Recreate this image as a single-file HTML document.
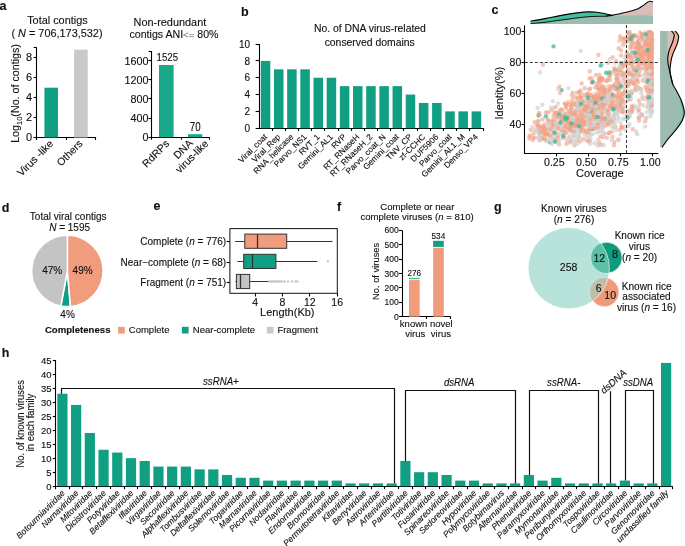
<!DOCTYPE html>
<html><head><meta charset="utf-8"><style>
html,body{margin:0;padding:0;background:#fff;}
svg{display:block;will-change:transform;}
text{font-family:"Liberation Sans",sans-serif;fill:#111;stroke:#111;stroke-width:0.12px;}
</style></head><body>
<svg width="685" height="546" viewBox="0 0 685 546">
<rect width="685" height="546" fill="#fff"/>
<text x="-0.5" y="9.6" font-size="12.5" font-weight="bold" fill="#000" >a</text>
<text x="241" y="15.9" font-size="12.5" font-weight="bold" fill="#000" >b</text>
<text x="491.5" y="13.7" font-size="12.5" font-weight="bold" fill="#000" >c</text>
<text x="1.8" y="211.5" font-size="12.5" font-weight="bold" fill="#000" >d</text>
<text x="153.5" y="209.9" font-size="12.5" font-weight="bold" fill="#000" >e</text>
<text x="337" y="211" font-size="12.5" font-weight="bold" fill="#000" >f</text>
<text x="494" y="210.5" font-size="12.5" font-weight="bold" fill="#000" >g</text>
<text x="1.8" y="356.5" font-size="12.5" font-weight="bold" fill="#000" >h</text>
<text x="57.4" y="24" font-size="10.9" text-anchor="middle" >Total contigs</text>
<text x="57" y="37.3" font-size="10.9" text-anchor="middle" >( <tspan font-style="italic">N</tspan> = 706,173,532)</text>
<line x1="36.5" y1="47.5" x2="36.5" y2="137.9" stroke="#000" stroke-width="1.1" />
<line x1="33.6" y1="47.5" x2="36.7" y2="47.5" stroke="#000" stroke-width="1.1" />
<line x1="36.2" y1="137.5" x2="96.1" y2="137.5" stroke="#000" stroke-width="1.1" />
<line x1="33.6" y1="137.5" x2="36.7" y2="137.5" stroke="#000" stroke-width="1.1" />
<text x="32" y="141.4" font-size="11" text-anchor="end" >0</text>
<line x1="33.6" y1="117.5" x2="36.7" y2="117.5" stroke="#000" stroke-width="1.1" />
<text x="32" y="121.4" font-size="11" text-anchor="end" >2</text>
<line x1="33.6" y1="97.5" x2="36.7" y2="97.5" stroke="#000" stroke-width="1.1" />
<text x="32" y="101.4" font-size="11" text-anchor="end" >4</text>
<line x1="33.6" y1="77.5" x2="36.7" y2="77.5" stroke="#000" stroke-width="1.1" />
<text x="32" y="81.4" font-size="11" text-anchor="end" >6</text>
<line x1="33.6" y1="57.5" x2="36.7" y2="57.5" stroke="#000" stroke-width="1.1" />
<text x="32" y="61.4" font-size="11" text-anchor="end" >8</text>
<line x1="36.5" y1="137.5" x2="36.5" y2="140" stroke="#000" stroke-width="1.1" />
<line x1="66.5" y1="137.5" x2="66.5" y2="140" stroke="#000" stroke-width="1.1" />
<line x1="95.5" y1="137.5" x2="95.5" y2="140" stroke="#000" stroke-width="1.1" />
<rect x="44.4" y="87.7" width="13.6" height="49.8" fill="#119f83" />
<rect x="74.1" y="49.7" width="13.6" height="87.8" fill="#c9c9c9" />
<text transform="translate(19,93.5) rotate(-90)" font-size="10.7" text-anchor="middle">Log<tspan font-size="7.5" dy="2.5">10</tspan><tspan dy="-2.5">(No. of contigs)</tspan></text>
<text transform="translate(53.9,144.4) rotate(-45)" font-size="10.5" text-anchor="end" >Virus -like</text>
<text transform="translate(83.2,144.4) rotate(-45)" font-size="10.5" text-anchor="end" >Others</text>
<text x="169.9" y="25.6" font-size="10.9" text-anchor="middle" >Non-redundant</text>
<text x="174" y="38" font-size="10.6" text-anchor="middle" >contigs ANI<tspan fill="#8a8a8a" stroke="#8a8a8a" font-size="9.6">&lt;=</tspan> 80%</text>
<line x1="151.5" y1="51" x2="151.5" y2="137.6" stroke="#000" stroke-width="1.1" />
<line x1="148.6" y1="51.5" x2="151.5" y2="51.5" stroke="#000" stroke-width="1.1" />
<line x1="151" y1="137.5" x2="209.3" y2="137.5" stroke="#000" stroke-width="1.1" />
<line x1="148.4" y1="137.5" x2="151.5" y2="137.5" stroke="#000" stroke-width="1.1" />
<text x="148.6" y="141.1" font-size="10.8" text-anchor="end" >0</text>
<line x1="148.4" y1="118.5" x2="151.5" y2="118.5" stroke="#000" stroke-width="1.1" />
<text x="148.6" y="122" font-size="10.8" text-anchor="end" >400</text>
<line x1="148.4" y1="98.5" x2="151.5" y2="98.5" stroke="#000" stroke-width="1.1" />
<text x="148.6" y="102.9" font-size="10.8" text-anchor="end" >800</text>
<line x1="148.4" y1="79.5" x2="151.5" y2="79.5" stroke="#000" stroke-width="1.1" />
<text x="148.6" y="83.8" font-size="10.8" text-anchor="end" >1200</text>
<line x1="148.4" y1="60.5" x2="151.5" y2="60.5" stroke="#000" stroke-width="1.1" />
<text x="148.6" y="64.7" font-size="10.8" text-anchor="end" >1600</text>
<line x1="151.5" y1="137.2" x2="151.5" y2="139.7" stroke="#000" stroke-width="1.1" />
<line x1="181.5" y1="137.2" x2="181.5" y2="139.7" stroke="#000" stroke-width="1.1" />
<line x1="209.5" y1="137.2" x2="209.5" y2="139.7" stroke="#000" stroke-width="1.1" />
<rect x="159" y="65" width="14.6" height="72.2" fill="#1ba88a" />
<rect x="188" y="134.2" width="14.3" height="3" fill="#1ba88a" />
<text transform="translate(167.3,60.6) scale(0.82,1)" font-size="11.8" text-anchor="middle" >1525</text>
<text transform="translate(195.2,131.1) scale(0.81,1)" font-size="12" text-anchor="middle" >70</text>
<text transform="translate(170,144.4) rotate(-45)" font-size="10.5" text-anchor="end" >RdRPs</text>
<text transform="translate(185.5,151.75) rotate(-45)" font-size="10.5" text-anchor="middle" >DNA</text>
<text transform="translate(194.5,159) rotate(-45)" font-size="10.5" text-anchor="middle" >virus-like</text>
<text x="369.9" y="32.3" font-size="10.4" text-anchor="middle" >No. of DNA virus-related</text>
<text x="369.7" y="45.5" font-size="10.4" text-anchor="middle" >conserved domains</text>
<line x1="259.5" y1="44" x2="259.5" y2="128.6" stroke="#000" stroke-width="1.1" />
<line x1="258.5" y1="128.5" x2="483.4" y2="128.5" stroke="#000" stroke-width="1.1" />
<line x1="255.6" y1="128.5" x2="259" y2="128.5" stroke="#000" stroke-width="1.1" />
<text x="250" y="131.8" font-size="10" text-anchor="end" >0</text>
<line x1="255.6" y1="111.5" x2="259" y2="111.5" stroke="#000" stroke-width="1.1" />
<text x="250" y="114.98" font-size="10" text-anchor="end" >2</text>
<line x1="255.6" y1="94.5" x2="259" y2="94.5" stroke="#000" stroke-width="1.1" />
<text x="250" y="98.16" font-size="10" text-anchor="end" >4</text>
<line x1="255.6" y1="77.5" x2="259" y2="77.5" stroke="#000" stroke-width="1.1" />
<text x="250" y="81.34" font-size="10" text-anchor="end" >6</text>
<line x1="255.6" y1="60.5" x2="259" y2="60.5" stroke="#000" stroke-width="1.1" />
<text x="250" y="64.52" font-size="10" text-anchor="end" >8</text>
<line x1="255.6" y1="44.5" x2="259" y2="44.5" stroke="#000" stroke-width="1.1" />
<text x="250" y="47.7" font-size="10" text-anchor="end" >10</text>
<rect x="260.8" y="60.92" width="9.5" height="67.28" fill="#119f83" />
<text transform="translate(267.65,137.4) rotate(-45)" font-size="8.3" text-anchor="end" >Viral_coat</text>
<rect x="273.98" y="69.33" width="9.5" height="58.87" fill="#119f83" />
<text transform="translate(280.83,137.4) rotate(-45)" font-size="8.3" text-anchor="end" >Viral_Rep</text>
<rect x="287.15" y="69.33" width="9.5" height="58.87" fill="#119f83" />
<text transform="translate(294,137.4) rotate(-45)" font-size="8.3" text-anchor="end" >RNA_helicase</text>
<rect x="300.33" y="69.33" width="9.5" height="58.87" fill="#119f83" />
<text transform="translate(307.18,137.4) rotate(-45)" font-size="8.3" text-anchor="end" >Parvo_NS1</text>
<rect x="313.5" y="77.74" width="9.5" height="50.46" fill="#119f83" />
<text transform="translate(320.35,137.4) rotate(-45)" font-size="8.3" text-anchor="end" >RVT_1</text>
<rect x="326.68" y="77.74" width="9.5" height="50.46" fill="#119f83" />
<text transform="translate(333.53,137.4) rotate(-45)" font-size="8.3" text-anchor="end" >Gemini_AL1</text>
<rect x="339.85" y="86.15" width="9.5" height="42.05" fill="#119f83" />
<text transform="translate(346.7,137.4) rotate(-45)" font-size="8.3" text-anchor="end" >RVP</text>
<rect x="353.03" y="86.15" width="9.5" height="42.05" fill="#119f83" />
<text transform="translate(359.88,137.4) rotate(-45)" font-size="8.3" text-anchor="end" >RT_RNaseH</text>
<rect x="366.2" y="86.15" width="9.5" height="42.05" fill="#119f83" />
<text transform="translate(373.05,137.4) rotate(-45)" font-size="8.3" text-anchor="end" >RT_RNaseH_2</text>
<rect x="379.38" y="86.15" width="9.5" height="42.05" fill="#119f83" />
<text transform="translate(386.23,137.4) rotate(-45)" font-size="8.3" text-anchor="end" >Parvo_coat_N</text>
<rect x="392.55" y="86.15" width="9.5" height="42.05" fill="#119f83" />
<text transform="translate(399.4,137.4) rotate(-45)" font-size="8.3" text-anchor="end" >Gemini_coat</text>
<rect x="405.73" y="94.56" width="9.5" height="33.64" fill="#119f83" />
<text transform="translate(412.58,137.4) rotate(-45)" font-size="8.3" text-anchor="end" >TNV_CP</text>
<rect x="418.9" y="102.97" width="9.5" height="25.23" fill="#119f83" />
<text transform="translate(425.75,137.4) rotate(-45)" font-size="8.3" text-anchor="end" >zf-CCHC</text>
<rect x="432.08" y="102.97" width="9.5" height="25.23" fill="#119f83" />
<text transform="translate(438.93,137.4) rotate(-45)" font-size="8.3" text-anchor="end" >DUF5906</text>
<rect x="445.25" y="111.38" width="9.5" height="16.82" fill="#119f83" />
<text transform="translate(452.1,137.4) rotate(-45)" font-size="8.3" text-anchor="end" >Parvo_coat</text>
<rect x="458.43" y="111.38" width="9.5" height="16.82" fill="#119f83" />
<text transform="translate(465.28,137.4) rotate(-45)" font-size="8.3" text-anchor="end" >Gemini_AL1_M</text>
<rect x="471.6" y="111.38" width="9.5" height="16.82" fill="#119f83" />
<text transform="translate(478.45,137.4) rotate(-45)" font-size="8.3" text-anchor="end" >Denso_VP4</text>
<line x1="272.5" y1="128.2" x2="272.5" y2="131" stroke="#000" stroke-width="1.1" />
<line x1="285.5" y1="128.2" x2="285.5" y2="131" stroke="#000" stroke-width="1.1" />
<line x1="298.5" y1="128.2" x2="298.5" y2="131" stroke="#000" stroke-width="1.1" />
<line x1="311.5" y1="128.2" x2="311.5" y2="131" stroke="#000" stroke-width="1.1" />
<line x1="324.5" y1="128.2" x2="324.5" y2="131" stroke="#000" stroke-width="1.1" />
<line x1="338.5" y1="128.2" x2="338.5" y2="131" stroke="#000" stroke-width="1.1" />
<line x1="351.5" y1="128.2" x2="351.5" y2="131" stroke="#000" stroke-width="1.1" />
<line x1="364.5" y1="128.2" x2="364.5" y2="131" stroke="#000" stroke-width="1.1" />
<line x1="377.5" y1="128.2" x2="377.5" y2="131" stroke="#000" stroke-width="1.1" />
<line x1="390.5" y1="128.2" x2="390.5" y2="131" stroke="#000" stroke-width="1.1" />
<line x1="403.5" y1="128.2" x2="403.5" y2="131" stroke="#000" stroke-width="1.1" />
<line x1="417.5" y1="128.2" x2="417.5" y2="131" stroke="#000" stroke-width="1.1" />
<line x1="430.5" y1="128.2" x2="430.5" y2="131" stroke="#000" stroke-width="1.1" />
<line x1="443.5" y1="128.2" x2="443.5" y2="131" stroke="#000" stroke-width="1.1" />
<line x1="456.5" y1="128.2" x2="456.5" y2="131" stroke="#000" stroke-width="1.1" />
<line x1="469.5" y1="128.2" x2="469.5" y2="131" stroke="#000" stroke-width="1.1" />
<line x1="483.5" y1="128.2" x2="483.5" y2="131" stroke="#000" stroke-width="1.1" />
<g>
<circle cx="619.43" cy="68.28" r="2.2" fill="#f4a386" fill-opacity="0.62"/>
<circle cx="578.85" cy="119.58" r="2.2" fill="#f4a386" fill-opacity="0.62"/>
<circle cx="557.21" cy="133.94" r="2.2" fill="#f4a386" fill-opacity="0.62"/>
<circle cx="588.87" cy="95.59" r="2.2" fill="#f4a386" fill-opacity="0.62"/>
<circle cx="551.66" cy="135.6" r="2.2" fill="#d3d3d3" fill-opacity="0.72"/>
<circle cx="601.27" cy="78.55" r="2.2" fill="#d3d3d3" fill-opacity="0.72"/>
<circle cx="552.26" cy="126.8" r="2.2" fill="#d3d3d3" fill-opacity="0.72"/>
<circle cx="623.02" cy="44.37" r="2.2" fill="#f4a386" fill-opacity="0.62"/>
<circle cx="647.3" cy="35.17" r="2.2" fill="#f4a386" fill-opacity="0.62"/>
<circle cx="561.66" cy="90.09" r="2.2" fill="#3bb697" fill-opacity="0.72"/>
<circle cx="580.7" cy="50.99" r="2.2" fill="#d3d3d3" fill-opacity="0.72"/>
<circle cx="556.13" cy="121.71" r="2.2" fill="#d3d3d3" fill-opacity="0.72"/>
<circle cx="638.7" cy="117.39" r="2.2" fill="#d3d3d3" fill-opacity="0.72"/>
<circle cx="536.78" cy="125.26" r="2.2" fill="#f4a386" fill-opacity="0.62"/>
<circle cx="577.6" cy="107.4" r="2.2" fill="#f4a386" fill-opacity="0.62"/>
<circle cx="640.42" cy="56.69" r="2.2" fill="#f4a386" fill-opacity="0.62"/>
<circle cx="587.49" cy="98.64" r="2.2" fill="#f4a386" fill-opacity="0.62"/>
<circle cx="591.59" cy="78.32" r="2.2" fill="#f4a386" fill-opacity="0.62"/>
<circle cx="581.67" cy="130.6" r="2.2" fill="#d3d3d3" fill-opacity="0.72"/>
<circle cx="602" cy="107.27" r="2.2" fill="#f4a386" fill-opacity="0.62"/>
<circle cx="627.47" cy="62.56" r="2.2" fill="#f4a386" fill-opacity="0.62"/>
<circle cx="562.46" cy="121.16" r="2.2" fill="#f4a386" fill-opacity="0.62"/>
<circle cx="552.97" cy="119.75" r="2.2" fill="#f4a386" fill-opacity="0.62"/>
<circle cx="640.61" cy="48.78" r="2.2" fill="#d3d3d3" fill-opacity="0.72"/>
<circle cx="636.75" cy="53.28" r="2.2" fill="#f4a386" fill-opacity="0.62"/>
<circle cx="574.6" cy="119.48" r="2.2" fill="#d3d3d3" fill-opacity="0.72"/>
<circle cx="648.85" cy="85.9" r="2.2" fill="#d3d3d3" fill-opacity="0.72"/>
<circle cx="554.86" cy="130.65" r="2.2" fill="#d3d3d3" fill-opacity="0.72"/>
<circle cx="572.9" cy="132.04" r="2.2" fill="#f4a386" fill-opacity="0.62"/>
<circle cx="579.89" cy="117.63" r="2.2" fill="#f4a386" fill-opacity="0.62"/>
<circle cx="616.81" cy="94.86" r="2.2" fill="#f4a386" fill-opacity="0.62"/>
<circle cx="603.05" cy="120.36" r="2.2" fill="#d3d3d3" fill-opacity="0.72"/>
<circle cx="578.98" cy="136.55" r="2.2" fill="#f4a386" fill-opacity="0.62"/>
<circle cx="597.14" cy="132.76" r="2.2" fill="#d3d3d3" fill-opacity="0.72"/>
<circle cx="618.4" cy="139.39" r="2.2" fill="#f4a386" fill-opacity="0.62"/>
<circle cx="621.91" cy="127.6" r="2.2" fill="#f4a386" fill-opacity="0.62"/>
<circle cx="583.37" cy="121.39" r="2.2" fill="#f4a386" fill-opacity="0.62"/>
<circle cx="571.86" cy="125.4" r="2.2" fill="#f4a386" fill-opacity="0.62"/>
<circle cx="578.85" cy="122.41" r="2.2" fill="#d3d3d3" fill-opacity="0.72"/>
<circle cx="648.1" cy="101.3" r="2.2" fill="#d3d3d3" fill-opacity="0.72"/>
<circle cx="553.95" cy="133.33" r="2.2" fill="#d3d3d3" fill-opacity="0.72"/>
<circle cx="652.03" cy="41.3" r="2.2" fill="#f4a386" fill-opacity="0.62"/>
<circle cx="553.88" cy="138.79" r="2.2" fill="#f4a386" fill-opacity="0.62"/>
<circle cx="599.39" cy="106.13" r="2.2" fill="#f4a386" fill-opacity="0.62"/>
<circle cx="542.8" cy="133.31" r="2.2" fill="#f4a386" fill-opacity="0.62"/>
<circle cx="650.85" cy="57.43" r="2.2" fill="#f4a386" fill-opacity="0.62"/>
<circle cx="592.88" cy="96.05" r="2.2" fill="#f4a386" fill-opacity="0.62"/>
<circle cx="603.6" cy="120.61" r="2.2" fill="#d3d3d3" fill-opacity="0.72"/>
<circle cx="614.31" cy="118.91" r="2.2" fill="#f4a386" fill-opacity="0.62"/>
<circle cx="625.74" cy="59.96" r="2.2" fill="#f4a386" fill-opacity="0.62"/>
<circle cx="619.2" cy="40.97" r="2.2" fill="#d3d3d3" fill-opacity="0.72"/>
<circle cx="651.04" cy="32.95" r="2.2" fill="#f4a386" fill-opacity="0.62"/>
<circle cx="620.87" cy="123.11" r="2.2" fill="#d3d3d3" fill-opacity="0.72"/>
<circle cx="602.28" cy="119.12" r="2.2" fill="#f4a386" fill-opacity="0.62"/>
<circle cx="538.9" cy="112.95" r="2.2" fill="#f4a386" fill-opacity="0.62"/>
<circle cx="630.64" cy="56.24" r="2.2" fill="#d3d3d3" fill-opacity="0.72"/>
<circle cx="562.61" cy="120.78" r="2.2" fill="#f4a386" fill-opacity="0.62"/>
<circle cx="651.1" cy="45.2" r="2.2" fill="#f4a386" fill-opacity="0.62"/>
<circle cx="648.96" cy="60.24" r="2.2" fill="#f4a386" fill-opacity="0.62"/>
<circle cx="592.95" cy="107.82" r="2.2" fill="#f4a386" fill-opacity="0.62"/>
<circle cx="639.59" cy="54.19" r="2.2" fill="#f4a386" fill-opacity="0.62"/>
<circle cx="646.67" cy="51.03" r="2.2" fill="#f4a386" fill-opacity="0.62"/>
<circle cx="641.46" cy="62.15" r="2.2" fill="#f4a386" fill-opacity="0.62"/>
<circle cx="564.25" cy="113.62" r="2.2" fill="#f4a386" fill-opacity="0.62"/>
<circle cx="574.46" cy="114.36" r="2.2" fill="#d3d3d3" fill-opacity="0.72"/>
<circle cx="585.58" cy="106.79" r="2.2" fill="#d3d3d3" fill-opacity="0.72"/>
<circle cx="610.84" cy="122.19" r="2.2" fill="#3bb697" fill-opacity="0.72"/>
<circle cx="646.84" cy="112.17" r="2.2" fill="#d3d3d3" fill-opacity="0.72"/>
<circle cx="574.49" cy="115.56" r="2.2" fill="#d3d3d3" fill-opacity="0.72"/>
<circle cx="608.48" cy="113.58" r="2.2" fill="#d3d3d3" fill-opacity="0.72"/>
<circle cx="567.18" cy="140.99" r="2.2" fill="#d3d3d3" fill-opacity="0.72"/>
<circle cx="594.51" cy="119.88" r="2.2" fill="#f4a386" fill-opacity="0.62"/>
<circle cx="573.19" cy="132.39" r="2.2" fill="#d3d3d3" fill-opacity="0.72"/>
<circle cx="546.43" cy="133.22" r="2.2" fill="#f4a386" fill-opacity="0.62"/>
<circle cx="581.49" cy="113.6" r="2.2" fill="#d3d3d3" fill-opacity="0.72"/>
<circle cx="628.09" cy="54.26" r="2.2" fill="#d3d3d3" fill-opacity="0.72"/>
<circle cx="621.8" cy="98" r="2.2" fill="#d3d3d3" fill-opacity="0.72"/>
<circle cx="608.05" cy="117.72" r="2.2" fill="#f4a386" fill-opacity="0.62"/>
<circle cx="650.56" cy="41.85" r="2.2" fill="#f4a386" fill-opacity="0.62"/>
<circle cx="623.17" cy="95.82" r="2.2" fill="#f4a386" fill-opacity="0.62"/>
<circle cx="579.51" cy="127.89" r="2.2" fill="#d3d3d3" fill-opacity="0.72"/>
<circle cx="651.56" cy="111.5" r="2.2" fill="#d3d3d3" fill-opacity="0.72"/>
<circle cx="580.95" cy="128.3" r="2.2" fill="#f4a386" fill-opacity="0.62"/>
<circle cx="649.85" cy="62.83" r="2.2" fill="#f4a386" fill-opacity="0.62"/>
<circle cx="609.77" cy="89.04" r="2.2" fill="#f4a386" fill-opacity="0.62"/>
<circle cx="649.51" cy="98.42" r="2.2" fill="#f4a386" fill-opacity="0.62"/>
<circle cx="560.58" cy="125.37" r="2.2" fill="#f4a386" fill-opacity="0.62"/>
<circle cx="632.87" cy="46.59" r="2.2" fill="#d3d3d3" fill-opacity="0.72"/>
<circle cx="651.09" cy="64.67" r="2.2" fill="#f4a386" fill-opacity="0.62"/>
<circle cx="652.05" cy="64.09" r="2.2" fill="#f4a386" fill-opacity="0.62"/>
<circle cx="631.86" cy="73.26" r="2.2" fill="#f4a386" fill-opacity="0.62"/>
<circle cx="614.44" cy="107.18" r="2.2" fill="#f4a386" fill-opacity="0.62"/>
<circle cx="550.18" cy="126.02" r="2.2" fill="#f4a386" fill-opacity="0.62"/>
<circle cx="591.47" cy="114.5" r="2.2" fill="#f4a386" fill-opacity="0.62"/>
<circle cx="650.64" cy="46.48" r="2.2" fill="#f4a386" fill-opacity="0.62"/>
<circle cx="576.85" cy="139.16" r="2.2" fill="#d3d3d3" fill-opacity="0.72"/>
<circle cx="649.74" cy="39.38" r="2.2" fill="#f4a386" fill-opacity="0.62"/>
<circle cx="592.78" cy="133.69" r="2.2" fill="#d3d3d3" fill-opacity="0.72"/>
<circle cx="592.57" cy="118.98" r="2.2" fill="#d3d3d3" fill-opacity="0.72"/>
<circle cx="554.25" cy="132.59" r="2.2" fill="#f4a386" fill-opacity="0.62"/>
<circle cx="615.59" cy="127.24" r="2.2" fill="#f4a386" fill-opacity="0.62"/>
<circle cx="571.23" cy="107.38" r="2.2" fill="#f4a386" fill-opacity="0.62"/>
<circle cx="595.25" cy="93.39" r="2.2" fill="#d3d3d3" fill-opacity="0.72"/>
<circle cx="648.13" cy="56.17" r="2.2" fill="#f4a386" fill-opacity="0.62"/>
<circle cx="648.69" cy="77.26" r="2.2" fill="#f4a386" fill-opacity="0.62"/>
<circle cx="593.11" cy="97.97" r="2.2" fill="#f4a386" fill-opacity="0.62"/>
<circle cx="626.11" cy="93.52" r="2.2" fill="#f4a386" fill-opacity="0.62"/>
<circle cx="632.84" cy="77.09" r="2.2" fill="#d3d3d3" fill-opacity="0.72"/>
<circle cx="630.77" cy="94.48" r="2.2" fill="#d3d3d3" fill-opacity="0.72"/>
<circle cx="651" cy="34.17" r="2.2" fill="#d3d3d3" fill-opacity="0.72"/>
<circle cx="652.07" cy="52.98" r="2.2" fill="#f4a386" fill-opacity="0.62"/>
<circle cx="648.23" cy="36.38" r="2.2" fill="#f4a386" fill-opacity="0.62"/>
<circle cx="648.97" cy="81.97" r="2.2" fill="#f4a386" fill-opacity="0.62"/>
<circle cx="532.85" cy="140.07" r="2.2" fill="#f4a386" fill-opacity="0.62"/>
<circle cx="617.03" cy="101.61" r="2.2" fill="#f4a386" fill-opacity="0.62"/>
<circle cx="552.92" cy="131.77" r="2.2" fill="#f4a386" fill-opacity="0.62"/>
<circle cx="603.9" cy="87.29" r="2.2" fill="#d3d3d3" fill-opacity="0.72"/>
<circle cx="587.28" cy="136" r="2.2" fill="#d3d3d3" fill-opacity="0.72"/>
<circle cx="639.4" cy="71.14" r="2.2" fill="#f4a386" fill-opacity="0.62"/>
<circle cx="650.86" cy="59.33" r="2.2" fill="#f4a386" fill-opacity="0.62"/>
<circle cx="593.41" cy="117.05" r="2.2" fill="#3bb697" fill-opacity="0.72"/>
<circle cx="534.71" cy="122.23" r="2.2" fill="#f4a386" fill-opacity="0.62"/>
<circle cx="587.28" cy="121.11" r="2.2" fill="#f4a386" fill-opacity="0.62"/>
<circle cx="628.38" cy="80.34" r="2.2" fill="#f4a386" fill-opacity="0.62"/>
<circle cx="595.47" cy="124.07" r="2.2" fill="#d3d3d3" fill-opacity="0.72"/>
<circle cx="588.96" cy="141.6" r="2.2" fill="#f4a386" fill-opacity="0.62"/>
<circle cx="610.21" cy="75.59" r="2.2" fill="#f4a386" fill-opacity="0.62"/>
<circle cx="578.59" cy="102.61" r="2.2" fill="#f4a386" fill-opacity="0.62"/>
<circle cx="599.13" cy="79.03" r="2.2" fill="#f4a386" fill-opacity="0.62"/>
<circle cx="540.14" cy="137.36" r="2.2" fill="#d3d3d3" fill-opacity="0.72"/>
<circle cx="619.67" cy="89.05" r="2.2" fill="#f4a386" fill-opacity="0.62"/>
<circle cx="632.07" cy="52.33" r="2.2" fill="#3bb697" fill-opacity="0.72"/>
<circle cx="650.69" cy="38.11" r="2.2" fill="#f4a386" fill-opacity="0.62"/>
<circle cx="629.4" cy="124.22" r="2.2" fill="#d3d3d3" fill-opacity="0.72"/>
<circle cx="599.34" cy="96.55" r="2.2" fill="#f4a386" fill-opacity="0.62"/>
<circle cx="564.44" cy="126.38" r="2.2" fill="#f4a386" fill-opacity="0.62"/>
<circle cx="648.53" cy="36.01" r="2.2" fill="#f4a386" fill-opacity="0.62"/>
<circle cx="651.76" cy="41.92" r="2.2" fill="#f4a386" fill-opacity="0.62"/>
<circle cx="593.28" cy="109.3" r="2.2" fill="#f4a386" fill-opacity="0.62"/>
<circle cx="651.91" cy="51.83" r="2.2" fill="#f4a386" fill-opacity="0.62"/>
<circle cx="629.91" cy="110.73" r="2.2" fill="#d3d3d3" fill-opacity="0.72"/>
<circle cx="597.57" cy="102" r="2.2" fill="#3bb697" fill-opacity="0.72"/>
<circle cx="647.62" cy="46.23" r="2.2" fill="#f4a386" fill-opacity="0.62"/>
<circle cx="649.97" cy="51.18" r="2.2" fill="#f4a386" fill-opacity="0.62"/>
<circle cx="599.39" cy="85.9" r="2.2" fill="#f4a386" fill-opacity="0.62"/>
<circle cx="579.82" cy="132.12" r="2.2" fill="#d3d3d3" fill-opacity="0.72"/>
<circle cx="648.42" cy="68.54" r="2.2" fill="#f4a386" fill-opacity="0.62"/>
<circle cx="591.94" cy="82.54" r="2.2" fill="#f4a386" fill-opacity="0.62"/>
<circle cx="638.45" cy="40.75" r="2.2" fill="#f4a386" fill-opacity="0.62"/>
<circle cx="592.19" cy="115.73" r="2.2" fill="#f4a386" fill-opacity="0.62"/>
<circle cx="565.62" cy="103.89" r="2.2" fill="#f4a386" fill-opacity="0.62"/>
<circle cx="620.44" cy="74.92" r="2.2" fill="#d3d3d3" fill-opacity="0.72"/>
<circle cx="645.97" cy="118.55" r="2.2" fill="#d3d3d3" fill-opacity="0.72"/>
<circle cx="605.68" cy="117.18" r="2.2" fill="#d3d3d3" fill-opacity="0.72"/>
<circle cx="629.28" cy="95.23" r="2.2" fill="#d3d3d3" fill-opacity="0.72"/>
<circle cx="572.56" cy="92.62" r="2.2" fill="#f4a386" fill-opacity="0.62"/>
<circle cx="651.34" cy="99.66" r="2.2" fill="#d3d3d3" fill-opacity="0.72"/>
<circle cx="609.87" cy="118.93" r="2.2" fill="#f4a386" fill-opacity="0.62"/>
<circle cx="576.81" cy="123.13" r="2.2" fill="#d3d3d3" fill-opacity="0.72"/>
<circle cx="618.69" cy="82.42" r="2.2" fill="#f4a386" fill-opacity="0.62"/>
<circle cx="645.71" cy="54.54" r="2.2" fill="#d3d3d3" fill-opacity="0.72"/>
<circle cx="600.58" cy="93.7" r="2.2" fill="#f4a386" fill-opacity="0.62"/>
<circle cx="641.75" cy="62.34" r="2.2" fill="#f4a386" fill-opacity="0.62"/>
<circle cx="587.45" cy="120.58" r="2.2" fill="#f4a386" fill-opacity="0.62"/>
<circle cx="650.55" cy="45.22" r="2.2" fill="#f4a386" fill-opacity="0.62"/>
<circle cx="621.69" cy="66.24" r="2.2" fill="#f4a386" fill-opacity="0.62"/>
<circle cx="645.67" cy="82.01" r="2.2" fill="#d3d3d3" fill-opacity="0.72"/>
<circle cx="624.75" cy="107.48" r="2.2" fill="#d3d3d3" fill-opacity="0.72"/>
<circle cx="651.2" cy="90.31" r="2.2" fill="#f4a386" fill-opacity="0.62"/>
<circle cx="598.17" cy="98.76" r="2.2" fill="#f4a386" fill-opacity="0.62"/>
<circle cx="601.83" cy="121.81" r="2.2" fill="#d3d3d3" fill-opacity="0.72"/>
<circle cx="566.36" cy="113.45" r="2.2" fill="#f4a386" fill-opacity="0.62"/>
<circle cx="595.84" cy="95.62" r="2.2" fill="#d3d3d3" fill-opacity="0.72"/>
<circle cx="570.26" cy="111.82" r="2.2" fill="#f4a386" fill-opacity="0.62"/>
<circle cx="592.09" cy="125.06" r="2.2" fill="#f4a386" fill-opacity="0.62"/>
<circle cx="592.62" cy="108.58" r="2.2" fill="#d3d3d3" fill-opacity="0.72"/>
<circle cx="639.16" cy="37.52" r="2.2" fill="#f4a386" fill-opacity="0.62"/>
<circle cx="549.88" cy="142.27" r="2.2" fill="#3bb697" fill-opacity="0.72"/>
<circle cx="611.62" cy="97.83" r="2.2" fill="#d3d3d3" fill-opacity="0.72"/>
<circle cx="544.61" cy="130.66" r="2.2" fill="#f4a386" fill-opacity="0.62"/>
<circle cx="649.13" cy="71.44" r="2.2" fill="#f4a386" fill-opacity="0.62"/>
<circle cx="642.51" cy="97.3" r="2.2" fill="#f4a386" fill-opacity="0.62"/>
<circle cx="638.83" cy="42.82" r="2.2" fill="#f4a386" fill-opacity="0.62"/>
<circle cx="604.41" cy="121.48" r="2.2" fill="#d3d3d3" fill-opacity="0.72"/>
<circle cx="558.07" cy="88.86" r="2.2" fill="#d3d3d3" fill-opacity="0.72"/>
<circle cx="559.09" cy="144.27" r="2.2" fill="#f4a386" fill-opacity="0.62"/>
<circle cx="584.16" cy="105.03" r="2.2" fill="#d3d3d3" fill-opacity="0.72"/>
<circle cx="646.12" cy="44.99" r="2.2" fill="#f4a386" fill-opacity="0.62"/>
<circle cx="649.82" cy="60.55" r="2.2" fill="#d3d3d3" fill-opacity="0.72"/>
<circle cx="641.12" cy="114.38" r="2.2" fill="#d3d3d3" fill-opacity="0.72"/>
<circle cx="570.59" cy="128.99" r="2.2" fill="#3bb697" fill-opacity="0.72"/>
<circle cx="650.62" cy="43.63" r="2.2" fill="#d3d3d3" fill-opacity="0.72"/>
<circle cx="600.3" cy="108.06" r="2.2" fill="#d3d3d3" fill-opacity="0.72"/>
<circle cx="600.49" cy="102.4" r="2.2" fill="#d3d3d3" fill-opacity="0.72"/>
<circle cx="575.03" cy="122.19" r="2.2" fill="#f4a386" fill-opacity="0.62"/>
<circle cx="647.66" cy="75.11" r="2.2" fill="#f4a386" fill-opacity="0.62"/>
<circle cx="650.33" cy="33.6" r="2.2" fill="#f4a386" fill-opacity="0.62"/>
<circle cx="616.71" cy="84.94" r="2.2" fill="#f4a386" fill-opacity="0.62"/>
<circle cx="575.83" cy="121.29" r="2.2" fill="#f4a386" fill-opacity="0.62"/>
<circle cx="628.36" cy="94.85" r="2.2" fill="#3bb697" fill-opacity="0.72"/>
<circle cx="603.48" cy="87.49" r="2.2" fill="#f4a386" fill-opacity="0.62"/>
<circle cx="650.1" cy="52.28" r="2.2" fill="#d3d3d3" fill-opacity="0.72"/>
<circle cx="583.15" cy="110.54" r="2.2" fill="#f4a386" fill-opacity="0.62"/>
<circle cx="598.27" cy="97.15" r="2.2" fill="#f4a386" fill-opacity="0.62"/>
<circle cx="651.53" cy="106.48" r="2.2" fill="#f4a386" fill-opacity="0.62"/>
<circle cx="648.74" cy="74.57" r="2.2" fill="#f4a386" fill-opacity="0.62"/>
<circle cx="589.97" cy="88.59" r="2.2" fill="#f4a386" fill-opacity="0.62"/>
<circle cx="649.27" cy="69.38" r="2.2" fill="#f4a386" fill-opacity="0.62"/>
<circle cx="649.89" cy="63.32" r="2.2" fill="#f4a386" fill-opacity="0.62"/>
<circle cx="538.14" cy="123.97" r="2.2" fill="#f4a386" fill-opacity="0.62"/>
<circle cx="634.72" cy="35.01" r="2.2" fill="#f4a386" fill-opacity="0.62"/>
<circle cx="562.5" cy="130.39" r="2.2" fill="#f4a386" fill-opacity="0.62"/>
<circle cx="625.66" cy="126.53" r="2.2" fill="#d3d3d3" fill-opacity="0.72"/>
<circle cx="645.07" cy="44.53" r="2.2" fill="#f4a386" fill-opacity="0.62"/>
<circle cx="580.52" cy="90.7" r="2.2" fill="#f4a386" fill-opacity="0.62"/>
<circle cx="602.67" cy="129.78" r="2.2" fill="#d3d3d3" fill-opacity="0.72"/>
<circle cx="636.08" cy="131.45" r="2.2" fill="#d3d3d3" fill-opacity="0.72"/>
<circle cx="586.85" cy="140.66" r="2.2" fill="#f4a386" fill-opacity="0.62"/>
<circle cx="583.17" cy="138.93" r="2.2" fill="#f4a386" fill-opacity="0.62"/>
<circle cx="617.36" cy="90.74" r="2.2" fill="#f4a386" fill-opacity="0.62"/>
<circle cx="622.22" cy="109.79" r="2.2" fill="#d3d3d3" fill-opacity="0.72"/>
<circle cx="648.41" cy="99.78" r="2.2" fill="#d3d3d3" fill-opacity="0.72"/>
<circle cx="575.88" cy="121.34" r="2.2" fill="#d3d3d3" fill-opacity="0.72"/>
<circle cx="586.66" cy="110.53" r="2.2" fill="#f4a386" fill-opacity="0.62"/>
<circle cx="642.63" cy="59.11" r="2.2" fill="#f4a386" fill-opacity="0.62"/>
<circle cx="613.49" cy="86.24" r="2.2" fill="#f4a386" fill-opacity="0.62"/>
<circle cx="647.98" cy="50.92" r="2.2" fill="#f4a386" fill-opacity="0.62"/>
<circle cx="577.37" cy="100.17" r="2.2" fill="#f4a386" fill-opacity="0.62"/>
<circle cx="597.35" cy="85.88" r="2.2" fill="#f4a386" fill-opacity="0.62"/>
<circle cx="614.9" cy="115.31" r="2.2" fill="#d3d3d3" fill-opacity="0.72"/>
<circle cx="627.32" cy="84.7" r="2.2" fill="#f4a386" fill-opacity="0.62"/>
<circle cx="617.06" cy="78.92" r="2.2" fill="#d3d3d3" fill-opacity="0.72"/>
<circle cx="557.57" cy="140.25" r="2.2" fill="#f4a386" fill-opacity="0.62"/>
<circle cx="649.15" cy="74.84" r="2.2" fill="#d3d3d3" fill-opacity="0.72"/>
<circle cx="651.76" cy="40.42" r="2.2" fill="#f4a386" fill-opacity="0.62"/>
<circle cx="580.2" cy="114.58" r="2.2" fill="#f4a386" fill-opacity="0.62"/>
<circle cx="647.53" cy="52.53" r="2.2" fill="#f4a386" fill-opacity="0.62"/>
<circle cx="606.33" cy="112.42" r="2.2" fill="#f4a386" fill-opacity="0.62"/>
<circle cx="592.97" cy="129.05" r="2.2" fill="#f4a386" fill-opacity="0.62"/>
<circle cx="609.1" cy="133.29" r="2.2" fill="#f4a386" fill-opacity="0.62"/>
<circle cx="641.89" cy="114.01" r="2.2" fill="#d3d3d3" fill-opacity="0.72"/>
<circle cx="611.99" cy="99.15" r="2.2" fill="#d3d3d3" fill-opacity="0.72"/>
<circle cx="604.95" cy="100.68" r="2.2" fill="#d3d3d3" fill-opacity="0.72"/>
<circle cx="627.09" cy="86.03" r="2.2" fill="#f4a386" fill-opacity="0.62"/>
<circle cx="593.09" cy="100.72" r="2.2" fill="#f4a386" fill-opacity="0.62"/>
<circle cx="624.96" cy="73.01" r="2.2" fill="#f4a386" fill-opacity="0.62"/>
<circle cx="572.3" cy="112.7" r="2.2" fill="#d3d3d3" fill-opacity="0.72"/>
<circle cx="558.43" cy="111.8" r="2.2" fill="#f4a386" fill-opacity="0.62"/>
<circle cx="599.09" cy="131.15" r="2.2" fill="#d3d3d3" fill-opacity="0.72"/>
<circle cx="650.26" cy="105.34" r="2.2" fill="#d3d3d3" fill-opacity="0.72"/>
<circle cx="601.83" cy="64.45" r="2.2" fill="#d3d3d3" fill-opacity="0.72"/>
<circle cx="574.87" cy="141.38" r="2.2" fill="#d3d3d3" fill-opacity="0.72"/>
<circle cx="648.11" cy="76.12" r="2.2" fill="#d3d3d3" fill-opacity="0.72"/>
<circle cx="649.06" cy="44.41" r="2.2" fill="#f4a386" fill-opacity="0.62"/>
<circle cx="645.08" cy="43.42" r="2.2" fill="#f4a386" fill-opacity="0.62"/>
<circle cx="651.69" cy="35.34" r="2.2" fill="#d3d3d3" fill-opacity="0.72"/>
<circle cx="624.88" cy="89.37" r="2.2" fill="#f4a386" fill-opacity="0.62"/>
<circle cx="599.7" cy="81.97" r="2.2" fill="#f4a386" fill-opacity="0.62"/>
<circle cx="651.02" cy="46.9" r="2.2" fill="#f4a386" fill-opacity="0.62"/>
<circle cx="622.28" cy="67.72" r="2.2" fill="#d3d3d3" fill-opacity="0.72"/>
<circle cx="649.72" cy="61" r="2.2" fill="#d3d3d3" fill-opacity="0.72"/>
<circle cx="651.49" cy="36.11" r="2.2" fill="#f4a386" fill-opacity="0.62"/>
<circle cx="593.15" cy="105.49" r="2.2" fill="#d3d3d3" fill-opacity="0.72"/>
<circle cx="571.64" cy="113.31" r="2.2" fill="#f4a386" fill-opacity="0.62"/>
<circle cx="569.04" cy="115.21" r="2.2" fill="#d3d3d3" fill-opacity="0.72"/>
<circle cx="628.91" cy="32.68" r="2.2" fill="#f4a386" fill-opacity="0.62"/>
<circle cx="593.46" cy="112.03" r="2.2" fill="#d3d3d3" fill-opacity="0.72"/>
<circle cx="598.96" cy="116.05" r="2.2" fill="#d3d3d3" fill-opacity="0.72"/>
<circle cx="637.07" cy="134.25" r="2.2" fill="#d3d3d3" fill-opacity="0.72"/>
<circle cx="589.44" cy="78.5" r="2.2" fill="#f4a386" fill-opacity="0.62"/>
<circle cx="564.11" cy="116.22" r="2.2" fill="#f4a386" fill-opacity="0.62"/>
<circle cx="591.59" cy="99.47" r="2.2" fill="#d3d3d3" fill-opacity="0.72"/>
<circle cx="603.5" cy="100.39" r="2.2" fill="#f4a386" fill-opacity="0.62"/>
<circle cx="562.2" cy="116.63" r="2.2" fill="#f4a386" fill-opacity="0.62"/>
<circle cx="585.06" cy="105.37" r="2.2" fill="#f4a386" fill-opacity="0.62"/>
<circle cx="581.55" cy="124.23" r="2.2" fill="#f4a386" fill-opacity="0.62"/>
<circle cx="646.05" cy="58.1" r="2.2" fill="#f4a386" fill-opacity="0.62"/>
<circle cx="550.85" cy="136.41" r="2.2" fill="#d3d3d3" fill-opacity="0.72"/>
<circle cx="618.45" cy="109.44" r="2.2" fill="#d3d3d3" fill-opacity="0.72"/>
<circle cx="529.31" cy="136.35" r="2.2" fill="#d3d3d3" fill-opacity="0.72"/>
<circle cx="640.94" cy="88.96" r="2.2" fill="#f4a386" fill-opacity="0.62"/>
<circle cx="571.03" cy="130.34" r="2.2" fill="#d3d3d3" fill-opacity="0.72"/>
<circle cx="538.61" cy="132.63" r="2.2" fill="#f4a386" fill-opacity="0.62"/>
<circle cx="630.29" cy="97.78" r="2.2" fill="#f4a386" fill-opacity="0.62"/>
<circle cx="612.03" cy="102.74" r="2.2" fill="#f4a386" fill-opacity="0.62"/>
<circle cx="647.84" cy="54.02" r="2.2" fill="#f4a386" fill-opacity="0.62"/>
<circle cx="615.09" cy="84.08" r="2.2" fill="#f4a386" fill-opacity="0.62"/>
<circle cx="542.87" cy="134.6" r="2.2" fill="#f4a386" fill-opacity="0.62"/>
<circle cx="639.5" cy="65.44" r="2.2" fill="#d3d3d3" fill-opacity="0.72"/>
<circle cx="550.83" cy="122.03" r="2.2" fill="#f4a386" fill-opacity="0.62"/>
<circle cx="614.13" cy="110.04" r="2.2" fill="#d3d3d3" fill-opacity="0.72"/>
<circle cx="651.7" cy="80.87" r="2.2" fill="#f4a386" fill-opacity="0.62"/>
<circle cx="650.77" cy="70.69" r="2.2" fill="#f4a386" fill-opacity="0.62"/>
<circle cx="614.83" cy="83.6" r="2.2" fill="#d3d3d3" fill-opacity="0.72"/>
<circle cx="648.52" cy="34.61" r="2.2" fill="#f4a386" fill-opacity="0.62"/>
<circle cx="572.95" cy="104.87" r="2.2" fill="#f4a386" fill-opacity="0.62"/>
<circle cx="651.58" cy="84.01" r="2.2" fill="#f4a386" fill-opacity="0.62"/>
<circle cx="587.76" cy="102.57" r="2.2" fill="#f4a386" fill-opacity="0.62"/>
<circle cx="567.04" cy="129.47" r="2.2" fill="#d3d3d3" fill-opacity="0.72"/>
<circle cx="651.75" cy="102.8" r="2.2" fill="#f4a386" fill-opacity="0.62"/>
<circle cx="624.01" cy="92.39" r="2.2" fill="#f4a386" fill-opacity="0.62"/>
<circle cx="649.79" cy="48.95" r="2.2" fill="#f4a386" fill-opacity="0.62"/>
<circle cx="545.9" cy="112.38" r="2.2" fill="#f4a386" fill-opacity="0.62"/>
<circle cx="571.46" cy="103.33" r="2.2" fill="#f4a386" fill-opacity="0.62"/>
<circle cx="649.84" cy="68.39" r="2.2" fill="#f4a386" fill-opacity="0.62"/>
<circle cx="649.09" cy="32.36" r="2.2" fill="#f4a386" fill-opacity="0.62"/>
<circle cx="649.41" cy="62.06" r="2.2" fill="#f4a386" fill-opacity="0.62"/>
<circle cx="649.93" cy="71.98" r="2.2" fill="#f4a386" fill-opacity="0.62"/>
<circle cx="612.02" cy="72.09" r="2.2" fill="#d3d3d3" fill-opacity="0.72"/>
<circle cx="558" cy="135.05" r="2.2" fill="#d3d3d3" fill-opacity="0.72"/>
<circle cx="580.1" cy="125.72" r="2.2" fill="#f4a386" fill-opacity="0.62"/>
<circle cx="570.17" cy="119.76" r="2.2" fill="#f4a386" fill-opacity="0.62"/>
<circle cx="582.15" cy="101.35" r="2.2" fill="#d3d3d3" fill-opacity="0.72"/>
<circle cx="648.91" cy="71.93" r="2.2" fill="#f4a386" fill-opacity="0.62"/>
<circle cx="556.19" cy="128.12" r="2.2" fill="#d3d3d3" fill-opacity="0.72"/>
<circle cx="650.82" cy="51.37" r="2.2" fill="#d3d3d3" fill-opacity="0.72"/>
<circle cx="581.25" cy="128.11" r="2.2" fill="#f4a386" fill-opacity="0.62"/>
<circle cx="650.9" cy="96.9" r="2.2" fill="#d3d3d3" fill-opacity="0.72"/>
<circle cx="574.74" cy="145.18" r="2.2" fill="#f4a386" fill-opacity="0.62"/>
<circle cx="569.73" cy="124.3" r="2.2" fill="#d3d3d3" fill-opacity="0.72"/>
<circle cx="605.27" cy="90.08" r="2.2" fill="#f4a386" fill-opacity="0.62"/>
<circle cx="580.79" cy="120.61" r="2.2" fill="#3bb697" fill-opacity="0.72"/>
<circle cx="617.7" cy="111.02" r="2.2" fill="#f4a386" fill-opacity="0.62"/>
<circle cx="641.05" cy="38.14" r="2.2" fill="#f4a386" fill-opacity="0.62"/>
<circle cx="540.59" cy="128.47" r="2.2" fill="#f4a386" fill-opacity="0.62"/>
<circle cx="607.98" cy="105.18" r="2.2" fill="#d3d3d3" fill-opacity="0.72"/>
<circle cx="647.47" cy="33.62" r="2.2" fill="#f4a386" fill-opacity="0.62"/>
<circle cx="597.31" cy="96.61" r="2.2" fill="#f4a386" fill-opacity="0.62"/>
<circle cx="604.45" cy="101.22" r="2.2" fill="#d3d3d3" fill-opacity="0.72"/>
<circle cx="584.9" cy="95.46" r="2.2" fill="#f4a386" fill-opacity="0.62"/>
<circle cx="637.24" cy="79.59" r="2.2" fill="#f4a386" fill-opacity="0.62"/>
<circle cx="591.35" cy="134.85" r="2.2" fill="#d3d3d3" fill-opacity="0.72"/>
<circle cx="634.55" cy="62.1" r="2.2" fill="#f4a386" fill-opacity="0.62"/>
<circle cx="639.74" cy="45.17" r="2.2" fill="#f4a386" fill-opacity="0.62"/>
<circle cx="563.08" cy="131.53" r="2.2" fill="#f4a386" fill-opacity="0.62"/>
<circle cx="651.98" cy="99.16" r="2.2" fill="#d3d3d3" fill-opacity="0.72"/>
<circle cx="647.91" cy="71" r="2.2" fill="#f4a386" fill-opacity="0.62"/>
<circle cx="562.94" cy="131.95" r="2.2" fill="#d3d3d3" fill-opacity="0.72"/>
<circle cx="593.27" cy="104.08" r="2.2" fill="#d3d3d3" fill-opacity="0.72"/>
<circle cx="649.47" cy="91.3" r="2.2" fill="#f4a386" fill-opacity="0.62"/>
<circle cx="581.57" cy="99.25" r="2.2" fill="#f4a386" fill-opacity="0.62"/>
<circle cx="651.3" cy="110.68" r="2.2" fill="#d3d3d3" fill-opacity="0.72"/>
<circle cx="618.28" cy="74.35" r="2.2" fill="#d3d3d3" fill-opacity="0.72"/>
<circle cx="649.17" cy="87.69" r="2.2" fill="#f4a386" fill-opacity="0.62"/>
<circle cx="648.87" cy="98.38" r="2.2" fill="#f4a386" fill-opacity="0.62"/>
<circle cx="591.73" cy="102.02" r="2.2" fill="#d3d3d3" fill-opacity="0.72"/>
<circle cx="585.56" cy="121.15" r="2.2" fill="#d3d3d3" fill-opacity="0.72"/>
<circle cx="649.92" cy="69.5" r="2.2" fill="#f4a386" fill-opacity="0.62"/>
<circle cx="648.68" cy="42.19" r="2.2" fill="#f4a386" fill-opacity="0.62"/>
<circle cx="542.86" cy="131.02" r="2.2" fill="#d3d3d3" fill-opacity="0.72"/>
<circle cx="623.8" cy="38.76" r="2.2" fill="#f4a386" fill-opacity="0.62"/>
<circle cx="607.71" cy="93.4" r="2.2" fill="#f4a386" fill-opacity="0.62"/>
<circle cx="602.63" cy="89.99" r="2.2" fill="#f4a386" fill-opacity="0.62"/>
<circle cx="557.02" cy="117.19" r="2.2" fill="#f4a386" fill-opacity="0.62"/>
<circle cx="589.86" cy="101.16" r="2.2" fill="#f4a386" fill-opacity="0.62"/>
<circle cx="650.64" cy="115.93" r="2.2" fill="#d3d3d3" fill-opacity="0.72"/>
<circle cx="590.45" cy="139.46" r="2.2" fill="#d3d3d3" fill-opacity="0.72"/>
<circle cx="622.35" cy="73.57" r="2.2" fill="#f4a386" fill-opacity="0.62"/>
<circle cx="650.4" cy="103.27" r="2.2" fill="#d3d3d3" fill-opacity="0.72"/>
<circle cx="598.05" cy="102.09" r="2.2" fill="#f4a386" fill-opacity="0.62"/>
<circle cx="621.06" cy="111.12" r="2.2" fill="#f4a386" fill-opacity="0.62"/>
<circle cx="651.73" cy="45.62" r="2.2" fill="#f4a386" fill-opacity="0.62"/>
<circle cx="646.79" cy="43.82" r="2.2" fill="#f4a386" fill-opacity="0.62"/>
<circle cx="540.71" cy="131.54" r="2.2" fill="#f4a386" fill-opacity="0.62"/>
<circle cx="630.48" cy="42.33" r="2.2" fill="#d3d3d3" fill-opacity="0.72"/>
<circle cx="539.69" cy="126.6" r="2.2" fill="#f4a386" fill-opacity="0.62"/>
<circle cx="603.81" cy="145.18" r="2.2" fill="#d3d3d3" fill-opacity="0.72"/>
<circle cx="632.07" cy="41.8" r="2.2" fill="#f4a386" fill-opacity="0.62"/>
<circle cx="539.43" cy="140.05" r="2.2" fill="#f4a386" fill-opacity="0.62"/>
<circle cx="559.7" cy="139.75" r="2.2" fill="#d3d3d3" fill-opacity="0.72"/>
<circle cx="579.33" cy="127.29" r="2.2" fill="#f4a386" fill-opacity="0.62"/>
<circle cx="648.21" cy="45.15" r="2.2" fill="#f4a386" fill-opacity="0.62"/>
<circle cx="549.05" cy="123.71" r="2.2" fill="#f4a386" fill-opacity="0.62"/>
<circle cx="629.79" cy="116.13" r="2.2" fill="#d3d3d3" fill-opacity="0.72"/>
<circle cx="597.65" cy="94.14" r="2.2" fill="#f4a386" fill-opacity="0.62"/>
<circle cx="587.21" cy="114.12" r="2.2" fill="#d3d3d3" fill-opacity="0.72"/>
<circle cx="583.26" cy="130.06" r="2.2" fill="#f4a386" fill-opacity="0.62"/>
<circle cx="536.87" cy="130.28" r="2.2" fill="#f4a386" fill-opacity="0.62"/>
<circle cx="646.07" cy="40.74" r="2.2" fill="#f4a386" fill-opacity="0.62"/>
<circle cx="617.47" cy="108.16" r="2.2" fill="#f4a386" fill-opacity="0.62"/>
<circle cx="609.15" cy="123.14" r="2.2" fill="#d3d3d3" fill-opacity="0.72"/>
<circle cx="583.04" cy="114.95" r="2.2" fill="#f4a386" fill-opacity="0.62"/>
<circle cx="618.78" cy="97.41" r="2.2" fill="#d3d3d3" fill-opacity="0.72"/>
<circle cx="638.4" cy="68.68" r="2.2" fill="#d3d3d3" fill-opacity="0.72"/>
<circle cx="589.25" cy="140.98" r="2.2" fill="#f4a386" fill-opacity="0.62"/>
<circle cx="602.99" cy="137.11" r="2.2" fill="#f4a386" fill-opacity="0.62"/>
<circle cx="647" cy="46.98" r="2.2" fill="#f4a386" fill-opacity="0.62"/>
<circle cx="650.51" cy="64.69" r="2.2" fill="#f4a386" fill-opacity="0.62"/>
<circle cx="645.07" cy="121.47" r="2.2" fill="#f4a386" fill-opacity="0.62"/>
<circle cx="630.45" cy="81.04" r="2.2" fill="#f4a386" fill-opacity="0.62"/>
<circle cx="593.41" cy="119.9" r="2.2" fill="#f4a386" fill-opacity="0.62"/>
<circle cx="542.85" cy="126.04" r="2.2" fill="#f4a386" fill-opacity="0.62"/>
<circle cx="591.06" cy="118.86" r="2.2" fill="#f4a386" fill-opacity="0.62"/>
<circle cx="630.43" cy="46.74" r="2.2" fill="#f4a386" fill-opacity="0.62"/>
<circle cx="637.21" cy="73.79" r="2.2" fill="#f4a386" fill-opacity="0.62"/>
<circle cx="554.06" cy="120.38" r="2.2" fill="#f4a386" fill-opacity="0.62"/>
<circle cx="563.96" cy="125.71" r="2.2" fill="#f4a386" fill-opacity="0.62"/>
<circle cx="533.6" cy="133.29" r="2.2" fill="#f4a386" fill-opacity="0.62"/>
<circle cx="552.03" cy="143.75" r="2.2" fill="#d3d3d3" fill-opacity="0.72"/>
<circle cx="604.23" cy="104.35" r="2.2" fill="#d3d3d3" fill-opacity="0.72"/>
<circle cx="608.02" cy="98.57" r="2.2" fill="#d3d3d3" fill-opacity="0.72"/>
<circle cx="581.51" cy="108.35" r="2.2" fill="#f4a386" fill-opacity="0.62"/>
<circle cx="583.08" cy="95.28" r="2.2" fill="#f4a386" fill-opacity="0.62"/>
<circle cx="645.52" cy="87.06" r="2.2" fill="#f4a386" fill-opacity="0.62"/>
<circle cx="651.07" cy="34.5" r="2.2" fill="#f4a386" fill-opacity="0.62"/>
<circle cx="597.52" cy="103.93" r="2.2" fill="#f4a386" fill-opacity="0.62"/>
<circle cx="632.31" cy="91.82" r="2.2" fill="#d3d3d3" fill-opacity="0.72"/>
<circle cx="650.44" cy="48.83" r="2.2" fill="#f4a386" fill-opacity="0.62"/>
<circle cx="538.59" cy="115.51" r="2.2" fill="#3bb697" fill-opacity="0.72"/>
<circle cx="606.24" cy="94.53" r="2.2" fill="#f4a386" fill-opacity="0.62"/>
<circle cx="640.06" cy="104.17" r="2.2" fill="#f4a386" fill-opacity="0.62"/>
<circle cx="593.32" cy="98.48" r="2.2" fill="#f4a386" fill-opacity="0.62"/>
<circle cx="648.47" cy="32.9" r="2.2" fill="#f4a386" fill-opacity="0.62"/>
<circle cx="648.8" cy="33.52" r="2.2" fill="#f4a386" fill-opacity="0.62"/>
<circle cx="598.88" cy="81.3" r="2.2" fill="#f4a386" fill-opacity="0.62"/>
<circle cx="649.38" cy="65.28" r="2.2" fill="#f4a386" fill-opacity="0.62"/>
<circle cx="649.82" cy="77.06" r="2.2" fill="#d3d3d3" fill-opacity="0.72"/>
<circle cx="583.58" cy="119.14" r="2.2" fill="#d3d3d3" fill-opacity="0.72"/>
<circle cx="650.68" cy="59.43" r="2.2" fill="#d3d3d3" fill-opacity="0.72"/>
<circle cx="630.01" cy="114.23" r="2.2" fill="#d3d3d3" fill-opacity="0.72"/>
<circle cx="648.35" cy="87.74" r="2.2" fill="#f4a386" fill-opacity="0.62"/>
<circle cx="650.54" cy="37.42" r="2.2" fill="#f4a386" fill-opacity="0.62"/>
<circle cx="649.1" cy="38.54" r="2.2" fill="#f4a386" fill-opacity="0.62"/>
<circle cx="650.46" cy="69.39" r="2.2" fill="#f4a386" fill-opacity="0.62"/>
<circle cx="609.05" cy="113.27" r="2.2" fill="#d3d3d3" fill-opacity="0.72"/>
<circle cx="649.25" cy="45.98" r="2.2" fill="#f4a386" fill-opacity="0.62"/>
<circle cx="585.92" cy="110.8" r="2.2" fill="#f4a386" fill-opacity="0.62"/>
<circle cx="615.83" cy="74.27" r="2.2" fill="#f4a386" fill-opacity="0.62"/>
<circle cx="647.6" cy="107.03" r="2.2" fill="#f4a386" fill-opacity="0.62"/>
<circle cx="650.91" cy="70.91" r="2.2" fill="#f4a386" fill-opacity="0.62"/>
<circle cx="651.41" cy="72.26" r="2.2" fill="#f4a386" fill-opacity="0.62"/>
<circle cx="591.6" cy="126.55" r="2.2" fill="#f4a386" fill-opacity="0.62"/>
<circle cx="557.42" cy="128.26" r="2.2" fill="#f4a386" fill-opacity="0.62"/>
<circle cx="540.56" cy="127.23" r="2.2" fill="#f4a386" fill-opacity="0.62"/>
<circle cx="534.68" cy="129.4" r="2.2" fill="#d3d3d3" fill-opacity="0.72"/>
<circle cx="630.67" cy="99.57" r="2.2" fill="#d3d3d3" fill-opacity="0.72"/>
<circle cx="546.67" cy="129.57" r="2.2" fill="#f4a386" fill-opacity="0.62"/>
<circle cx="614.13" cy="126.16" r="2.2" fill="#d3d3d3" fill-opacity="0.72"/>
<circle cx="621" cy="63.04" r="2.2" fill="#3bb697" fill-opacity="0.72"/>
<circle cx="632.79" cy="128.95" r="2.2" fill="#f4a386" fill-opacity="0.62"/>
<circle cx="612.46" cy="136.99" r="2.2" fill="#f4a386" fill-opacity="0.62"/>
<circle cx="553.83" cy="107.83" r="2.2" fill="#d3d3d3" fill-opacity="0.72"/>
<circle cx="647.65" cy="38.68" r="2.2" fill="#f4a386" fill-opacity="0.62"/>
<circle cx="631.2" cy="91.81" r="2.2" fill="#f4a386" fill-opacity="0.62"/>
<circle cx="601.34" cy="109.81" r="2.2" fill="#d3d3d3" fill-opacity="0.72"/>
<circle cx="591.99" cy="117.07" r="2.2" fill="#f4a386" fill-opacity="0.62"/>
<circle cx="577.67" cy="106.62" r="2.2" fill="#3bb697" fill-opacity="0.72"/>
<circle cx="598.36" cy="106.02" r="2.2" fill="#f4a386" fill-opacity="0.62"/>
<circle cx="618.83" cy="77.9" r="2.2" fill="#d3d3d3" fill-opacity="0.72"/>
<circle cx="582.3" cy="125.17" r="2.2" fill="#d3d3d3" fill-opacity="0.72"/>
<circle cx="652.08" cy="52.85" r="2.2" fill="#f4a386" fill-opacity="0.62"/>
<circle cx="623.51" cy="111.48" r="2.2" fill="#d3d3d3" fill-opacity="0.72"/>
<circle cx="651.42" cy="97.65" r="2.2" fill="#d3d3d3" fill-opacity="0.72"/>
<circle cx="632.05" cy="110.38" r="2.2" fill="#f4a386" fill-opacity="0.62"/>
<circle cx="621.11" cy="50.42" r="2.2" fill="#f4a386" fill-opacity="0.62"/>
<circle cx="616" cy="60.98" r="2.2" fill="#f4a386" fill-opacity="0.62"/>
<circle cx="600.88" cy="124.75" r="2.2" fill="#f4a386" fill-opacity="0.62"/>
<circle cx="600.77" cy="65.46" r="2.2" fill="#3bb697" fill-opacity="0.72"/>
<circle cx="573.45" cy="116.01" r="2.2" fill="#f4a386" fill-opacity="0.62"/>
<circle cx="561.27" cy="124.75" r="2.2" fill="#d3d3d3" fill-opacity="0.72"/>
<circle cx="645.42" cy="42.18" r="2.2" fill="#f4a386" fill-opacity="0.62"/>
<circle cx="643.87" cy="48.44" r="2.2" fill="#f4a386" fill-opacity="0.62"/>
<circle cx="603.03" cy="97.74" r="2.2" fill="#f4a386" fill-opacity="0.62"/>
<circle cx="561.8" cy="110.11" r="2.2" fill="#f4a386" fill-opacity="0.62"/>
<circle cx="573.18" cy="126.42" r="2.2" fill="#f4a386" fill-opacity="0.62"/>
<circle cx="650.48" cy="73.67" r="2.2" fill="#f4a386" fill-opacity="0.62"/>
<circle cx="622.22" cy="127.22" r="2.2" fill="#f4a386" fill-opacity="0.62"/>
<circle cx="650.8" cy="81.15" r="2.2" fill="#d3d3d3" fill-opacity="0.72"/>
<circle cx="625.31" cy="114.05" r="2.2" fill="#d3d3d3" fill-opacity="0.72"/>
<circle cx="634.98" cy="55.85" r="2.2" fill="#f4a386" fill-opacity="0.62"/>
<circle cx="611.52" cy="87.76" r="2.2" fill="#f4a386" fill-opacity="0.62"/>
<circle cx="577.15" cy="122.38" r="2.2" fill="#d3d3d3" fill-opacity="0.72"/>
<circle cx="555.3" cy="125.14" r="2.2" fill="#d3d3d3" fill-opacity="0.72"/>
<circle cx="575.04" cy="96.89" r="2.2" fill="#f4a386" fill-opacity="0.62"/>
<circle cx="552.83" cy="125.04" r="2.2" fill="#d3d3d3" fill-opacity="0.72"/>
<circle cx="570.39" cy="125.84" r="2.2" fill="#f4a386" fill-opacity="0.62"/>
<circle cx="547.92" cy="128.84" r="2.2" fill="#d3d3d3" fill-opacity="0.72"/>
<circle cx="614.29" cy="68.29" r="2.2" fill="#f4a386" fill-opacity="0.62"/>
<circle cx="609.58" cy="119.87" r="2.2" fill="#d3d3d3" fill-opacity="0.72"/>
<circle cx="598.87" cy="78.69" r="2.2" fill="#f4a386" fill-opacity="0.62"/>
<circle cx="591.84" cy="128.93" r="2.2" fill="#d3d3d3" fill-opacity="0.72"/>
<circle cx="630.61" cy="80.45" r="2.2" fill="#d3d3d3" fill-opacity="0.72"/>
<circle cx="647.09" cy="45.13" r="2.2" fill="#f4a386" fill-opacity="0.62"/>
<circle cx="539.04" cy="129.83" r="2.2" fill="#f4a386" fill-opacity="0.62"/>
<circle cx="606.54" cy="119.19" r="2.2" fill="#f4a386" fill-opacity="0.62"/>
<circle cx="581.54" cy="83.42" r="2.2" fill="#f4a386" fill-opacity="0.62"/>
<circle cx="570.82" cy="130.46" r="2.2" fill="#f4a386" fill-opacity="0.62"/>
<circle cx="621.23" cy="97.8" r="2.2" fill="#d3d3d3" fill-opacity="0.72"/>
<circle cx="602.08" cy="115.07" r="2.2" fill="#d3d3d3" fill-opacity="0.72"/>
<circle cx="648.02" cy="43.58" r="2.2" fill="#f4a386" fill-opacity="0.62"/>
<circle cx="650.45" cy="82.35" r="2.2" fill="#d3d3d3" fill-opacity="0.72"/>
<circle cx="601.95" cy="107.32" r="2.2" fill="#f4a386" fill-opacity="0.62"/>
<circle cx="580.08" cy="121.04" r="2.2" fill="#d3d3d3" fill-opacity="0.72"/>
<circle cx="609.66" cy="59.13" r="2.2" fill="#d3d3d3" fill-opacity="0.72"/>
<circle cx="570.07" cy="123.87" r="2.2" fill="#f4a386" fill-opacity="0.62"/>
<circle cx="587.78" cy="118.61" r="2.2" fill="#d3d3d3" fill-opacity="0.72"/>
<circle cx="574.04" cy="128.5" r="2.2" fill="#f4a386" fill-opacity="0.62"/>
<circle cx="616.35" cy="85.85" r="2.2" fill="#d3d3d3" fill-opacity="0.72"/>
<circle cx="650.74" cy="106.38" r="2.2" fill="#f4a386" fill-opacity="0.62"/>
<circle cx="622.46" cy="99.16" r="2.2" fill="#f4a386" fill-opacity="0.62"/>
<circle cx="620.25" cy="69.27" r="2.2" fill="#d3d3d3" fill-opacity="0.72"/>
<circle cx="592.75" cy="116.09" r="2.2" fill="#f4a386" fill-opacity="0.62"/>
<circle cx="547.57" cy="139.52" r="2.2" fill="#d3d3d3" fill-opacity="0.72"/>
<circle cx="618.2" cy="84.31" r="2.2" fill="#f4a386" fill-opacity="0.62"/>
<circle cx="628.58" cy="91.99" r="2.2" fill="#f4a386" fill-opacity="0.62"/>
<circle cx="591.61" cy="110.74" r="2.2" fill="#f4a386" fill-opacity="0.62"/>
<circle cx="589.21" cy="103.14" r="2.2" fill="#d3d3d3" fill-opacity="0.72"/>
<circle cx="622.89" cy="66.34" r="2.2" fill="#f4a386" fill-opacity="0.62"/>
<circle cx="564.76" cy="131.09" r="2.2" fill="#d3d3d3" fill-opacity="0.72"/>
<circle cx="568.18" cy="126.5" r="2.2" fill="#f4a386" fill-opacity="0.62"/>
<circle cx="620.89" cy="98.39" r="2.2" fill="#d3d3d3" fill-opacity="0.72"/>
<circle cx="648.73" cy="80.61" r="2.2" fill="#d3d3d3" fill-opacity="0.72"/>
<circle cx="651.05" cy="93.79" r="2.2" fill="#d3d3d3" fill-opacity="0.72"/>
<circle cx="615.05" cy="88.49" r="2.2" fill="#f4a386" fill-opacity="0.62"/>
<circle cx="595.46" cy="109.27" r="2.2" fill="#f4a386" fill-opacity="0.62"/>
<circle cx="651.55" cy="50.07" r="2.2" fill="#f4a386" fill-opacity="0.62"/>
<circle cx="579.42" cy="103.34" r="2.2" fill="#f4a386" fill-opacity="0.62"/>
<circle cx="607.18" cy="86.38" r="2.2" fill="#d3d3d3" fill-opacity="0.72"/>
<circle cx="650.45" cy="60.41" r="2.2" fill="#f4a386" fill-opacity="0.62"/>
<circle cx="581.14" cy="131.87" r="2.2" fill="#f4a386" fill-opacity="0.62"/>
<circle cx="649.19" cy="50.58" r="2.2" fill="#f4a386" fill-opacity="0.62"/>
<circle cx="575.17" cy="104.2" r="2.2" fill="#f4a386" fill-opacity="0.62"/>
<circle cx="622.86" cy="111.31" r="2.2" fill="#d3d3d3" fill-opacity="0.72"/>
<circle cx="630.15" cy="62.55" r="2.2" fill="#f4a386" fill-opacity="0.62"/>
<circle cx="551.14" cy="125.55" r="2.2" fill="#d3d3d3" fill-opacity="0.72"/>
<circle cx="544.65" cy="124.49" r="2.2" fill="#f4a386" fill-opacity="0.62"/>
<circle cx="592.34" cy="128.6" r="2.2" fill="#f4a386" fill-opacity="0.62"/>
<circle cx="650.47" cy="38.71" r="2.2" fill="#f4a386" fill-opacity="0.62"/>
<circle cx="651.52" cy="49.11" r="2.2" fill="#f4a386" fill-opacity="0.62"/>
<circle cx="569.87" cy="123.68" r="2.2" fill="#d3d3d3" fill-opacity="0.72"/>
<circle cx="606.49" cy="102.61" r="2.2" fill="#f4a386" fill-opacity="0.62"/>
<circle cx="573.8" cy="136.52" r="2.2" fill="#d3d3d3" fill-opacity="0.72"/>
<circle cx="626.1" cy="58.99" r="2.2" fill="#d3d3d3" fill-opacity="0.72"/>
<circle cx="634.12" cy="70.42" r="2.2" fill="#d3d3d3" fill-opacity="0.72"/>
<circle cx="543.94" cy="129.84" r="2.2" fill="#f4a386" fill-opacity="0.62"/>
<circle cx="577.27" cy="125.04" r="2.2" fill="#d3d3d3" fill-opacity="0.72"/>
<circle cx="537.67" cy="108.02" r="2.2" fill="#d3d3d3" fill-opacity="0.72"/>
<circle cx="633.78" cy="43.24" r="2.2" fill="#f4a386" fill-opacity="0.62"/>
<circle cx="580.02" cy="118.19" r="2.2" fill="#f4a386" fill-opacity="0.62"/>
<circle cx="628.66" cy="99.93" r="2.2" fill="#f4a386" fill-opacity="0.62"/>
<circle cx="587.3" cy="106.71" r="2.2" fill="#f4a386" fill-opacity="0.62"/>
<circle cx="651.61" cy="88.22" r="2.2" fill="#d3d3d3" fill-opacity="0.72"/>
<circle cx="651.85" cy="110.67" r="2.2" fill="#d3d3d3" fill-opacity="0.72"/>
<circle cx="651.52" cy="55.16" r="2.2" fill="#f4a386" fill-opacity="0.62"/>
<circle cx="638.67" cy="72.21" r="2.2" fill="#d3d3d3" fill-opacity="0.72"/>
<circle cx="575" cy="112" r="2.2" fill="#f4a386" fill-opacity="0.62"/>
<circle cx="557.27" cy="134.93" r="2.2" fill="#f4a386" fill-opacity="0.62"/>
<circle cx="614.68" cy="69.54" r="2.2" fill="#f4a386" fill-opacity="0.62"/>
<circle cx="603.54" cy="99.37" r="2.2" fill="#d3d3d3" fill-opacity="0.72"/>
<circle cx="651.21" cy="58.05" r="2.2" fill="#f4a386" fill-opacity="0.62"/>
<circle cx="619.72" cy="102.33" r="2.2" fill="#f4a386" fill-opacity="0.62"/>
<circle cx="633.78" cy="83.04" r="2.2" fill="#f4a386" fill-opacity="0.62"/>
<circle cx="638.28" cy="42.97" r="2.2" fill="#3bb697" fill-opacity="0.72"/>
<circle cx="550.12" cy="135.42" r="2.2" fill="#f4a386" fill-opacity="0.62"/>
<circle cx="638.01" cy="40.61" r="2.2" fill="#f4a386" fill-opacity="0.62"/>
<circle cx="573.8" cy="110.92" r="2.2" fill="#f4a386" fill-opacity="0.62"/>
<circle cx="543.04" cy="137.42" r="2.2" fill="#f4a386" fill-opacity="0.62"/>
<circle cx="630.4" cy="110.19" r="2.2" fill="#d3d3d3" fill-opacity="0.72"/>
<circle cx="563.84" cy="115.2" r="2.2" fill="#f4a386" fill-opacity="0.62"/>
<circle cx="557.21" cy="127.38" r="2.2" fill="#f4a386" fill-opacity="0.62"/>
<circle cx="579.07" cy="91.78" r="2.2" fill="#f4a386" fill-opacity="0.62"/>
<circle cx="642.53" cy="58.84" r="2.2" fill="#f4a386" fill-opacity="0.62"/>
<circle cx="640.49" cy="68.36" r="2.2" fill="#f4a386" fill-opacity="0.62"/>
<circle cx="628.81" cy="56.41" r="2.2" fill="#f4a386" fill-opacity="0.62"/>
<circle cx="614.91" cy="89.14" r="2.2" fill="#f4a386" fill-opacity="0.62"/>
<circle cx="537.58" cy="131.65" r="2.2" fill="#d3d3d3" fill-opacity="0.72"/>
<circle cx="646.41" cy="42.89" r="2.2" fill="#d3d3d3" fill-opacity="0.72"/>
<circle cx="563.58" cy="123.76" r="2.2" fill="#f4a386" fill-opacity="0.62"/>
<circle cx="648.97" cy="80.61" r="2.2" fill="#d3d3d3" fill-opacity="0.72"/>
<circle cx="587.75" cy="113.39" r="2.2" fill="#f4a386" fill-opacity="0.62"/>
<circle cx="604.22" cy="133.23" r="2.2" fill="#d3d3d3" fill-opacity="0.72"/>
<circle cx="572.25" cy="99.56" r="2.2" fill="#f4a386" fill-opacity="0.62"/>
<circle cx="650.61" cy="32.1" r="2.2" fill="#f4a386" fill-opacity="0.62"/>
<circle cx="649.89" cy="32.6" r="2.2" fill="#f4a386" fill-opacity="0.62"/>
<circle cx="602.2" cy="78.34" r="2.2" fill="#f4a386" fill-opacity="0.62"/>
<circle cx="640.11" cy="32.46" r="2.2" fill="#f4a386" fill-opacity="0.62"/>
<circle cx="593.12" cy="96.61" r="2.2" fill="#f4a386" fill-opacity="0.62"/>
<circle cx="595.65" cy="118.16" r="2.2" fill="#f4a386" fill-opacity="0.62"/>
<circle cx="642.87" cy="54.62" r="2.2" fill="#f4a386" fill-opacity="0.62"/>
<circle cx="570.57" cy="130.03" r="2.2" fill="#f4a386" fill-opacity="0.62"/>
<circle cx="651.93" cy="67.84" r="2.2" fill="#d3d3d3" fill-opacity="0.72"/>
<circle cx="627.2" cy="40.06" r="2.2" fill="#f4a386" fill-opacity="0.62"/>
<circle cx="650.65" cy="67.54" r="2.2" fill="#f4a386" fill-opacity="0.62"/>
<circle cx="648.36" cy="37.02" r="2.2" fill="#f4a386" fill-opacity="0.62"/>
<circle cx="594.48" cy="143.16" r="2.2" fill="#d3d3d3" fill-opacity="0.72"/>
<circle cx="552.95" cy="101.09" r="2.2" fill="#d3d3d3" fill-opacity="0.72"/>
<circle cx="649.04" cy="106.91" r="2.2" fill="#d3d3d3" fill-opacity="0.72"/>
<circle cx="566.29" cy="105.83" r="2.2" fill="#f4a386" fill-opacity="0.62"/>
<circle cx="651.59" cy="44.61" r="2.2" fill="#f4a386" fill-opacity="0.62"/>
<circle cx="557.6" cy="123.9" r="2.2" fill="#d3d3d3" fill-opacity="0.72"/>
<circle cx="613.8" cy="114.82" r="2.2" fill="#d3d3d3" fill-opacity="0.72"/>
<circle cx="625.71" cy="83.5" r="2.2" fill="#f4a386" fill-opacity="0.62"/>
<circle cx="607.89" cy="110.73" r="2.2" fill="#f4a386" fill-opacity="0.62"/>
<circle cx="603.73" cy="94.09" r="2.2" fill="#f4a386" fill-opacity="0.62"/>
<circle cx="627.58" cy="75.9" r="2.2" fill="#d3d3d3" fill-opacity="0.72"/>
<circle cx="647.82" cy="51.25" r="2.2" fill="#f4a386" fill-opacity="0.62"/>
<circle cx="552.82" cy="122.71" r="2.2" fill="#f4a386" fill-opacity="0.62"/>
<circle cx="613.15" cy="121.99" r="2.2" fill="#f4a386" fill-opacity="0.62"/>
<circle cx="641.96" cy="34.19" r="2.2" fill="#f4a386" fill-opacity="0.62"/>
<circle cx="648.7" cy="39.73" r="2.2" fill="#f4a386" fill-opacity="0.62"/>
<circle cx="580.18" cy="123.53" r="2.2" fill="#f4a386" fill-opacity="0.62"/>
<circle cx="591.71" cy="122.65" r="2.2" fill="#d3d3d3" fill-opacity="0.72"/>
<circle cx="628.44" cy="63.83" r="2.2" fill="#f4a386" fill-opacity="0.62"/>
<circle cx="649.12" cy="33.11" r="2.2" fill="#f4a386" fill-opacity="0.62"/>
<circle cx="547.83" cy="119.7" r="2.2" fill="#f4a386" fill-opacity="0.62"/>
<circle cx="648.41" cy="60.79" r="2.2" fill="#d3d3d3" fill-opacity="0.72"/>
<circle cx="587.76" cy="112.56" r="2.2" fill="#d3d3d3" fill-opacity="0.72"/>
<circle cx="648.47" cy="101.72" r="2.2" fill="#d3d3d3" fill-opacity="0.72"/>
<circle cx="568.39" cy="122.47" r="2.2" fill="#f4a386" fill-opacity="0.62"/>
<circle cx="597.41" cy="124.91" r="2.2" fill="#f4a386" fill-opacity="0.62"/>
<circle cx="568.73" cy="137.81" r="2.2" fill="#f4a386" fill-opacity="0.62"/>
<circle cx="651.44" cy="33.28" r="2.2" fill="#f4a386" fill-opacity="0.62"/>
<circle cx="651.41" cy="54.69" r="2.2" fill="#f4a386" fill-opacity="0.62"/>
<circle cx="566.53" cy="143.89" r="2.2" fill="#f4a386" fill-opacity="0.62"/>
<circle cx="534.78" cy="137.76" r="2.2" fill="#f4a386" fill-opacity="0.62"/>
<circle cx="572.8" cy="115.26" r="2.2" fill="#f4a386" fill-opacity="0.62"/>
<circle cx="634.51" cy="105.72" r="2.2" fill="#d3d3d3" fill-opacity="0.72"/>
<circle cx="651.91" cy="78.15" r="2.2" fill="#f4a386" fill-opacity="0.62"/>
<circle cx="581.59" cy="127.31" r="2.2" fill="#f4a386" fill-opacity="0.62"/>
<circle cx="587.36" cy="93.43" r="2.2" fill="#d3d3d3" fill-opacity="0.72"/>
<circle cx="555.04" cy="116.45" r="2.2" fill="#f4a386" fill-opacity="0.62"/>
<circle cx="593.16" cy="115.25" r="2.2" fill="#d3d3d3" fill-opacity="0.72"/>
<circle cx="634.98" cy="35.87" r="2.2" fill="#f4a386" fill-opacity="0.62"/>
<circle cx="608.06" cy="62.84" r="2.2" fill="#f4a386" fill-opacity="0.62"/>
<circle cx="616.16" cy="130.3" r="2.2" fill="#d3d3d3" fill-opacity="0.72"/>
<circle cx="650.45" cy="53.51" r="2.2" fill="#d3d3d3" fill-opacity="0.72"/>
<circle cx="606.87" cy="137.83" r="2.2" fill="#f4a386" fill-opacity="0.62"/>
<circle cx="651.43" cy="86.03" r="2.2" fill="#f4a386" fill-opacity="0.62"/>
<circle cx="596.04" cy="97.41" r="2.2" fill="#d3d3d3" fill-opacity="0.72"/>
<circle cx="648.9" cy="44.48" r="2.2" fill="#f4a386" fill-opacity="0.62"/>
<circle cx="555.92" cy="138.85" r="2.2" fill="#d3d3d3" fill-opacity="0.72"/>
<circle cx="647.56" cy="82.12" r="2.2" fill="#d3d3d3" fill-opacity="0.72"/>
<circle cx="624.47" cy="93.01" r="2.2" fill="#f4a386" fill-opacity="0.62"/>
<circle cx="578.72" cy="117.72" r="2.2" fill="#d3d3d3" fill-opacity="0.72"/>
<circle cx="587.6" cy="109.66" r="2.2" fill="#f4a386" fill-opacity="0.62"/>
<circle cx="651.83" cy="61.29" r="2.2" fill="#f4a386" fill-opacity="0.62"/>
<circle cx="612.03" cy="97.17" r="2.2" fill="#d3d3d3" fill-opacity="0.72"/>
<circle cx="580.25" cy="111.84" r="2.2" fill="#d3d3d3" fill-opacity="0.72"/>
<circle cx="549.29" cy="129.95" r="2.2" fill="#d3d3d3" fill-opacity="0.72"/>
<circle cx="651.65" cy="45.41" r="2.2" fill="#f4a386" fill-opacity="0.62"/>
<circle cx="651.59" cy="86.12" r="2.2" fill="#f4a386" fill-opacity="0.62"/>
<circle cx="561.15" cy="109.29" r="2.2" fill="#f4a386" fill-opacity="0.62"/>
<circle cx="555.72" cy="106.99" r="2.2" fill="#f4a386" fill-opacity="0.62"/>
<circle cx="540.25" cy="134.39" r="2.2" fill="#f4a386" fill-opacity="0.62"/>
<circle cx="583.36" cy="113.27" r="2.2" fill="#f4a386" fill-opacity="0.62"/>
<circle cx="605.72" cy="103.13" r="2.2" fill="#f4a386" fill-opacity="0.62"/>
<circle cx="640.69" cy="55.51" r="2.2" fill="#f4a386" fill-opacity="0.62"/>
<circle cx="646.66" cy="81.2" r="2.2" fill="#d3d3d3" fill-opacity="0.72"/>
<circle cx="624.9" cy="102.68" r="2.2" fill="#f4a386" fill-opacity="0.62"/>
<circle cx="646.41" cy="44.77" r="2.2" fill="#f4a386" fill-opacity="0.62"/>
<circle cx="650.69" cy="58.84" r="2.2" fill="#f4a386" fill-opacity="0.62"/>
<circle cx="631.22" cy="39.44" r="2.2" fill="#f4a386" fill-opacity="0.62"/>
<circle cx="604.74" cy="134.02" r="2.2" fill="#d3d3d3" fill-opacity="0.72"/>
<circle cx="574.45" cy="122.31" r="2.2" fill="#f4a386" fill-opacity="0.62"/>
<circle cx="559.56" cy="111.65" r="2.2" fill="#d3d3d3" fill-opacity="0.72"/>
<circle cx="609.55" cy="75.49" r="2.2" fill="#f4a386" fill-opacity="0.62"/>
<circle cx="651.39" cy="38.64" r="2.2" fill="#f4a386" fill-opacity="0.62"/>
<circle cx="590.5" cy="111.5" r="2.2" fill="#3bb697" fill-opacity="0.72"/>
<circle cx="602.76" cy="121.52" r="2.2" fill="#f4a386" fill-opacity="0.62"/>
<circle cx="631.89" cy="93.08" r="2.2" fill="#f4a386" fill-opacity="0.62"/>
<circle cx="586" cy="123.75" r="2.2" fill="#f4a386" fill-opacity="0.62"/>
<circle cx="565.05" cy="127.91" r="2.2" fill="#f4a386" fill-opacity="0.62"/>
<circle cx="647.36" cy="43.53" r="2.2" fill="#f4a386" fill-opacity="0.62"/>
<circle cx="647.4" cy="81.75" r="2.2" fill="#f4a386" fill-opacity="0.62"/>
<circle cx="598.71" cy="98.34" r="2.2" fill="#f4a386" fill-opacity="0.62"/>
<circle cx="627.65" cy="95.62" r="2.2" fill="#d3d3d3" fill-opacity="0.72"/>
<circle cx="649.13" cy="49.27" r="2.2" fill="#d3d3d3" fill-opacity="0.72"/>
<circle cx="627.36" cy="39.09" r="2.2" fill="#f4a386" fill-opacity="0.62"/>
<circle cx="615.75" cy="106.11" r="2.2" fill="#f4a386" fill-opacity="0.62"/>
<circle cx="618.53" cy="98.22" r="2.2" fill="#d3d3d3" fill-opacity="0.72"/>
<circle cx="566.07" cy="106.09" r="2.2" fill="#f4a386" fill-opacity="0.62"/>
<circle cx="642.62" cy="39.29" r="2.2" fill="#f4a386" fill-opacity="0.62"/>
<circle cx="581.11" cy="119.17" r="2.2" fill="#d3d3d3" fill-opacity="0.72"/>
<circle cx="639.13" cy="40.92" r="2.2" fill="#f4a386" fill-opacity="0.62"/>
<circle cx="649.4" cy="38.71" r="2.2" fill="#f4a386" fill-opacity="0.62"/>
<circle cx="648.78" cy="32.11" r="2.2" fill="#f4a386" fill-opacity="0.62"/>
<circle cx="604.17" cy="89.63" r="2.2" fill="#f4a386" fill-opacity="0.62"/>
<circle cx="585.48" cy="109.47" r="2.2" fill="#f4a386" fill-opacity="0.62"/>
<circle cx="585.39" cy="110.51" r="2.2" fill="#3bb697" fill-opacity="0.72"/>
<circle cx="594.41" cy="102.24" r="2.2" fill="#f4a386" fill-opacity="0.62"/>
<circle cx="630.68" cy="48.16" r="2.2" fill="#f4a386" fill-opacity="0.62"/>
<circle cx="616.24" cy="78.08" r="2.2" fill="#f4a386" fill-opacity="0.62"/>
<circle cx="551.54" cy="127.44" r="2.2" fill="#f4a386" fill-opacity="0.62"/>
<circle cx="652" cy="103.7" r="2.2" fill="#d3d3d3" fill-opacity="0.72"/>
<circle cx="529.29" cy="138.76" r="2.2" fill="#f4a386" fill-opacity="0.62"/>
<circle cx="647.1" cy="46.52" r="2.2" fill="#f4a386" fill-opacity="0.62"/>
<circle cx="649.17" cy="70.95" r="2.2" fill="#f4a386" fill-opacity="0.62"/>
<circle cx="602.19" cy="103.5" r="2.2" fill="#f4a386" fill-opacity="0.62"/>
<circle cx="611.78" cy="131.88" r="2.2" fill="#f4a386" fill-opacity="0.62"/>
<circle cx="565.67" cy="108.2" r="2.2" fill="#f4a386" fill-opacity="0.62"/>
<circle cx="631.58" cy="65.89" r="2.2" fill="#f4a386" fill-opacity="0.62"/>
<circle cx="569.88" cy="122.8" r="2.2" fill="#f4a386" fill-opacity="0.62"/>
<circle cx="587.64" cy="116.5" r="2.2" fill="#f4a386" fill-opacity="0.62"/>
<circle cx="617.21" cy="87.55" r="2.2" fill="#3bb697" fill-opacity="0.72"/>
<circle cx="539.58" cy="134.98" r="2.2" fill="#d3d3d3" fill-opacity="0.72"/>
<circle cx="580.82" cy="105.89" r="2.2" fill="#f4a386" fill-opacity="0.62"/>
<circle cx="589.06" cy="101.44" r="2.2" fill="#d3d3d3" fill-opacity="0.72"/>
<circle cx="625.21" cy="57.76" r="2.2" fill="#d3d3d3" fill-opacity="0.72"/>
<circle cx="645.08" cy="126.61" r="2.2" fill="#d3d3d3" fill-opacity="0.72"/>
<circle cx="597.92" cy="117.58" r="2.2" fill="#f4a386" fill-opacity="0.62"/>
<circle cx="647.44" cy="43.86" r="2.2" fill="#f4a386" fill-opacity="0.62"/>
<circle cx="645.24" cy="60.97" r="2.2" fill="#f4a386" fill-opacity="0.62"/>
<circle cx="584.95" cy="134.51" r="2.2" fill="#d3d3d3" fill-opacity="0.72"/>
<circle cx="620.88" cy="105.19" r="2.2" fill="#3bb697" fill-opacity="0.72"/>
<circle cx="577.17" cy="108.7" r="2.2" fill="#d3d3d3" fill-opacity="0.72"/>
<circle cx="591.28" cy="128.91" r="2.2" fill="#3bb697" fill-opacity="0.72"/>
<circle cx="650.74" cy="43.21" r="2.2" fill="#f4a386" fill-opacity="0.62"/>
<circle cx="561.8" cy="117.43" r="2.2" fill="#f4a386" fill-opacity="0.62"/>
<circle cx="601.9" cy="125.05" r="2.2" fill="#f4a386" fill-opacity="0.62"/>
<circle cx="648.54" cy="90.81" r="2.2" fill="#d3d3d3" fill-opacity="0.72"/>
<circle cx="601.73" cy="107.81" r="2.2" fill="#d3d3d3" fill-opacity="0.72"/>
<circle cx="646.62" cy="46.5" r="2.2" fill="#f4a386" fill-opacity="0.62"/>
<circle cx="618.31" cy="119.92" r="2.2" fill="#d3d3d3" fill-opacity="0.72"/>
<circle cx="646.57" cy="40.19" r="2.2" fill="#d3d3d3" fill-opacity="0.72"/>
<circle cx="639.91" cy="65.07" r="2.2" fill="#d3d3d3" fill-opacity="0.72"/>
<circle cx="564.64" cy="133.38" r="2.2" fill="#f4a386" fill-opacity="0.62"/>
<circle cx="651.75" cy="68.19" r="2.2" fill="#f4a386" fill-opacity="0.62"/>
<circle cx="627.63" cy="62.71" r="2.2" fill="#f4a386" fill-opacity="0.62"/>
<circle cx="623.07" cy="118.74" r="2.2" fill="#d3d3d3" fill-opacity="0.72"/>
<circle cx="625.4" cy="62.6" r="2.2" fill="#f4a386" fill-opacity="0.62"/>
<circle cx="600.06" cy="125.68" r="2.2" fill="#d3d3d3" fill-opacity="0.72"/>
<circle cx="572.97" cy="112.53" r="2.2" fill="#f4a386" fill-opacity="0.62"/>
<circle cx="617.27" cy="70.35" r="2.2" fill="#f4a386" fill-opacity="0.62"/>
<circle cx="582.83" cy="113.61" r="2.2" fill="#d3d3d3" fill-opacity="0.72"/>
<circle cx="610.62" cy="104.04" r="2.2" fill="#f4a386" fill-opacity="0.62"/>
<circle cx="585.8" cy="105.03" r="2.2" fill="#d3d3d3" fill-opacity="0.72"/>
<circle cx="650.98" cy="50.66" r="2.2" fill="#f4a386" fill-opacity="0.62"/>
<circle cx="584.71" cy="107.72" r="2.2" fill="#f4a386" fill-opacity="0.62"/>
<circle cx="612.62" cy="57.31" r="2.2" fill="#f4a386" fill-opacity="0.62"/>
<circle cx="608.83" cy="132.8" r="2.2" fill="#f4a386" fill-opacity="0.62"/>
<circle cx="639.07" cy="120.61" r="2.2" fill="#f4a386" fill-opacity="0.62"/>
<circle cx="588.06" cy="132.16" r="2.2" fill="#d3d3d3" fill-opacity="0.72"/>
<circle cx="549.97" cy="129.69" r="2.2" fill="#d3d3d3" fill-opacity="0.72"/>
<circle cx="636.68" cy="82.09" r="2.2" fill="#d3d3d3" fill-opacity="0.72"/>
<circle cx="649.59" cy="36.85" r="2.2" fill="#f4a386" fill-opacity="0.62"/>
<circle cx="584.74" cy="123.74" r="2.2" fill="#d3d3d3" fill-opacity="0.72"/>
<circle cx="586.25" cy="112.36" r="2.2" fill="#d3d3d3" fill-opacity="0.72"/>
<circle cx="635.03" cy="75" r="2.2" fill="#f4a386" fill-opacity="0.62"/>
<circle cx="598.34" cy="55.05" r="2.2" fill="#f4a386" fill-opacity="0.62"/>
<circle cx="561.3" cy="130.61" r="2.2" fill="#f4a386" fill-opacity="0.62"/>
<circle cx="628.16" cy="86.66" r="2.2" fill="#d3d3d3" fill-opacity="0.72"/>
<circle cx="649.62" cy="108.31" r="2.2" fill="#d3d3d3" fill-opacity="0.72"/>
<circle cx="620.11" cy="36.13" r="2.2" fill="#f4a386" fill-opacity="0.62"/>
<circle cx="575.95" cy="126.36" r="2.2" fill="#f4a386" fill-opacity="0.62"/>
<circle cx="601.5" cy="117.3" r="2.2" fill="#f4a386" fill-opacity="0.62"/>
<circle cx="620.63" cy="38.71" r="2.2" fill="#f4a386" fill-opacity="0.62"/>
<circle cx="642.8" cy="80.54" r="2.2" fill="#f4a386" fill-opacity="0.62"/>
<circle cx="650.32" cy="73.81" r="2.2" fill="#f4a386" fill-opacity="0.62"/>
<circle cx="590.71" cy="107.64" r="2.2" fill="#f4a386" fill-opacity="0.62"/>
<circle cx="649.67" cy="37.68" r="2.2" fill="#f4a386" fill-opacity="0.62"/>
<circle cx="576.35" cy="118.64" r="2.2" fill="#f4a386" fill-opacity="0.62"/>
<circle cx="622.79" cy="100.71" r="2.2" fill="#f4a386" fill-opacity="0.62"/>
<circle cx="632.26" cy="61.55" r="2.2" fill="#f4a386" fill-opacity="0.62"/>
<circle cx="651.09" cy="94.06" r="2.2" fill="#d3d3d3" fill-opacity="0.72"/>
<circle cx="609.71" cy="79.91" r="2.2" fill="#d3d3d3" fill-opacity="0.72"/>
<circle cx="641.36" cy="39" r="2.2" fill="#f4a386" fill-opacity="0.62"/>
<circle cx="636.1" cy="56.28" r="2.2" fill="#f4a386" fill-opacity="0.62"/>
<circle cx="625" cy="93.75" r="2.2" fill="#f4a386" fill-opacity="0.62"/>
<circle cx="650.43" cy="105.63" r="2.2" fill="#d3d3d3" fill-opacity="0.72"/>
<circle cx="613.24" cy="109.22" r="2.2" fill="#f4a386" fill-opacity="0.62"/>
<circle cx="642.62" cy="57.11" r="2.2" fill="#f4a386" fill-opacity="0.62"/>
<circle cx="606.2" cy="96.7" r="2.2" fill="#f4a386" fill-opacity="0.62"/>
<circle cx="532.59" cy="137.27" r="2.2" fill="#f4a386" fill-opacity="0.62"/>
<circle cx="554.47" cy="140.66" r="2.2" fill="#f4a386" fill-opacity="0.62"/>
<circle cx="646.9" cy="39.12" r="2.2" fill="#f4a386" fill-opacity="0.62"/>
<circle cx="595.44" cy="111.44" r="2.2" fill="#f4a386" fill-opacity="0.62"/>
<circle cx="646.01" cy="46.5" r="2.2" fill="#f4a386" fill-opacity="0.62"/>
<circle cx="585.04" cy="106.91" r="2.2" fill="#f4a386" fill-opacity="0.62"/>
<circle cx="586.94" cy="100.55" r="2.2" fill="#f4a386" fill-opacity="0.62"/>
<circle cx="557.84" cy="137.04" r="2.2" fill="#f4a386" fill-opacity="0.62"/>
<circle cx="642.79" cy="45.88" r="2.2" fill="#f4a386" fill-opacity="0.62"/>
<circle cx="651.14" cy="109.46" r="2.2" fill="#d3d3d3" fill-opacity="0.72"/>
<circle cx="618.76" cy="48.28" r="2.2" fill="#f4a386" fill-opacity="0.62"/>
<circle cx="651.54" cy="34.03" r="2.2" fill="#f4a386" fill-opacity="0.62"/>
<circle cx="616.99" cy="114.07" r="2.2" fill="#d3d3d3" fill-opacity="0.72"/>
<circle cx="551.08" cy="127.04" r="2.2" fill="#d3d3d3" fill-opacity="0.72"/>
<circle cx="602.15" cy="99.13" r="2.2" fill="#f4a386" fill-opacity="0.62"/>
<circle cx="602.81" cy="134.32" r="2.2" fill="#d3d3d3" fill-opacity="0.72"/>
<circle cx="613.21" cy="96.47" r="2.2" fill="#f4a386" fill-opacity="0.62"/>
<circle cx="547.27" cy="134.61" r="2.2" fill="#f4a386" fill-opacity="0.62"/>
<circle cx="541.95" cy="131.23" r="2.2" fill="#d3d3d3" fill-opacity="0.72"/>
<circle cx="614.39" cy="142.06" r="2.2" fill="#f4a386" fill-opacity="0.62"/>
<circle cx="597.79" cy="119.77" r="2.2" fill="#d3d3d3" fill-opacity="0.72"/>
<circle cx="609.23" cy="92.94" r="2.2" fill="#f4a386" fill-opacity="0.62"/>
<circle cx="610.9" cy="106.28" r="2.2" fill="#f4a386" fill-opacity="0.62"/>
<circle cx="647.71" cy="81.23" r="2.2" fill="#f4a386" fill-opacity="0.62"/>
<circle cx="651.69" cy="104.99" r="2.2" fill="#d3d3d3" fill-opacity="0.72"/>
<circle cx="602.02" cy="124.64" r="2.2" fill="#d3d3d3" fill-opacity="0.72"/>
<circle cx="617.06" cy="79.15" r="2.2" fill="#f4a386" fill-opacity="0.62"/>
<circle cx="609.26" cy="74.55" r="2.2" fill="#f4a386" fill-opacity="0.62"/>
<circle cx="576.6" cy="122" r="2.2" fill="#f4a386" fill-opacity="0.62"/>
<circle cx="619.11" cy="91.91" r="2.2" fill="#f4a386" fill-opacity="0.62"/>
<circle cx="563.79" cy="118.58" r="2.2" fill="#d3d3d3" fill-opacity="0.72"/>
<circle cx="648.05" cy="54.61" r="2.2" fill="#f4a386" fill-opacity="0.62"/>
<circle cx="614.85" cy="112.62" r="2.2" fill="#d3d3d3" fill-opacity="0.72"/>
<circle cx="638.97" cy="59.28" r="2.2" fill="#f4a386" fill-opacity="0.62"/>
<circle cx="577.71" cy="143.49" r="2.2" fill="#d3d3d3" fill-opacity="0.72"/>
<circle cx="579.02" cy="110.58" r="2.2" fill="#f4a386" fill-opacity="0.62"/>
<circle cx="599.27" cy="88.43" r="2.2" fill="#f4a386" fill-opacity="0.62"/>
<circle cx="593.91" cy="113.04" r="2.2" fill="#f4a386" fill-opacity="0.62"/>
<circle cx="583.87" cy="130.2" r="2.2" fill="#f4a386" fill-opacity="0.62"/>
<circle cx="593.7" cy="115.84" r="2.2" fill="#f4a386" fill-opacity="0.62"/>
<circle cx="650.53" cy="50.21" r="2.2" fill="#f4a386" fill-opacity="0.62"/>
<circle cx="606.84" cy="81.08" r="2.2" fill="#f4a386" fill-opacity="0.62"/>
<circle cx="540.14" cy="136.21" r="2.2" fill="#d3d3d3" fill-opacity="0.72"/>
<circle cx="633.72" cy="59.18" r="2.2" fill="#d3d3d3" fill-opacity="0.72"/>
<circle cx="612.47" cy="126.01" r="2.2" fill="#d3d3d3" fill-opacity="0.72"/>
<circle cx="599.19" cy="121.97" r="2.2" fill="#f4a386" fill-opacity="0.62"/>
<circle cx="636.65" cy="79.44" r="2.2" fill="#f4a386" fill-opacity="0.62"/>
<circle cx="649.89" cy="72.22" r="2.2" fill="#f4a386" fill-opacity="0.62"/>
<circle cx="620.36" cy="134.37" r="2.2" fill="#d3d3d3" fill-opacity="0.72"/>
<circle cx="647.82" cy="97.47" r="2.2" fill="#f4a386" fill-opacity="0.62"/>
<circle cx="601.47" cy="113.21" r="2.2" fill="#f4a386" fill-opacity="0.62"/>
<circle cx="574.5" cy="128.49" r="2.2" fill="#d3d3d3" fill-opacity="0.72"/>
<circle cx="530.61" cy="129.85" r="2.2" fill="#f4a386" fill-opacity="0.62"/>
<circle cx="649.34" cy="70.68" r="2.2" fill="#f4a386" fill-opacity="0.62"/>
<circle cx="585.13" cy="125.59" r="2.2" fill="#d3d3d3" fill-opacity="0.72"/>
<circle cx="564.66" cy="103.45" r="2.2" fill="#f4a386" fill-opacity="0.62"/>
<circle cx="651.02" cy="66.68" r="2.2" fill="#f4a386" fill-opacity="0.62"/>
<circle cx="613.92" cy="145.18" r="2.2" fill="#f4a386" fill-opacity="0.62"/>
<circle cx="638.09" cy="110.49" r="2.2" fill="#d3d3d3" fill-opacity="0.72"/>
<circle cx="583.29" cy="116.44" r="2.2" fill="#f4a386" fill-opacity="0.62"/>
<circle cx="645.47" cy="73.56" r="2.2" fill="#f4a386" fill-opacity="0.62"/>
<circle cx="598.8" cy="108.38" r="2.2" fill="#f4a386" fill-opacity="0.62"/>
<circle cx="627.71" cy="33.78" r="2.2" fill="#f4a386" fill-opacity="0.62"/>
<circle cx="627.24" cy="97.19" r="2.2" fill="#d3d3d3" fill-opacity="0.72"/>
<circle cx="601.28" cy="94.04" r="2.2" fill="#f4a386" fill-opacity="0.62"/>
<circle cx="545.2" cy="133.83" r="2.2" fill="#f4a386" fill-opacity="0.62"/>
<circle cx="612.18" cy="93.8" r="2.2" fill="#f4a386" fill-opacity="0.62"/>
<circle cx="593.26" cy="125.11" r="2.2" fill="#d3d3d3" fill-opacity="0.72"/>
<circle cx="646.39" cy="61.95" r="2.2" fill="#d3d3d3" fill-opacity="0.72"/>
<circle cx="610.36" cy="119.64" r="2.2" fill="#d3d3d3" fill-opacity="0.72"/>
<circle cx="622.7" cy="111.6" r="2.2" fill="#f4a386" fill-opacity="0.62"/>
<circle cx="560.37" cy="119.14" r="2.2" fill="#f4a386" fill-opacity="0.62"/>
<circle cx="649.85" cy="41.54" r="2.2" fill="#f4a386" fill-opacity="0.62"/>
<circle cx="554.25" cy="125.42" r="2.2" fill="#f4a386" fill-opacity="0.62"/>
<circle cx="647.86" cy="104.76" r="2.2" fill="#d3d3d3" fill-opacity="0.72"/>
<circle cx="600.79" cy="131.39" r="2.2" fill="#d3d3d3" fill-opacity="0.72"/>
<circle cx="638.15" cy="82.12" r="2.2" fill="#f4a386" fill-opacity="0.62"/>
<circle cx="629.09" cy="33.91" r="2.2" fill="#f4a386" fill-opacity="0.62"/>
<circle cx="585.1" cy="113.1" r="2.2" fill="#d3d3d3" fill-opacity="0.72"/>
<circle cx="581.31" cy="106.58" r="2.2" fill="#d3d3d3" fill-opacity="0.72"/>
<circle cx="648.49" cy="33.41" r="2.2" fill="#f4a386" fill-opacity="0.62"/>
<circle cx="615.23" cy="122.89" r="2.2" fill="#d3d3d3" fill-opacity="0.72"/>
<circle cx="634.99" cy="35.84" r="2.2" fill="#f4a386" fill-opacity="0.62"/>
<circle cx="650.72" cy="57.75" r="2.2" fill="#f4a386" fill-opacity="0.62"/>
<circle cx="597.05" cy="116.28" r="2.2" fill="#f4a386" fill-opacity="0.62"/>
<circle cx="546.13" cy="130.76" r="2.2" fill="#f4a386" fill-opacity="0.62"/>
<circle cx="648.18" cy="35.89" r="2.2" fill="#f4a386" fill-opacity="0.62"/>
<circle cx="540.23" cy="72.43" r="2.2" fill="#d3d3d3" fill-opacity="0.72"/>
<circle cx="620.44" cy="95.04" r="2.2" fill="#f4a386" fill-opacity="0.62"/>
<circle cx="647.57" cy="49.36" r="2.2" fill="#f4a386" fill-opacity="0.62"/>
<circle cx="581.71" cy="121.22" r="2.2" fill="#f4a386" fill-opacity="0.62"/>
<circle cx="638.84" cy="61.03" r="2.2" fill="#f4a386" fill-opacity="0.62"/>
<circle cx="650.65" cy="53.42" r="2.2" fill="#f4a386" fill-opacity="0.62"/>
<circle cx="538.81" cy="132.06" r="2.2" fill="#d3d3d3" fill-opacity="0.72"/>
<circle cx="578.04" cy="129.47" r="2.2" fill="#d3d3d3" fill-opacity="0.72"/>
<circle cx="632.65" cy="64.66" r="2.2" fill="#f4a386" fill-opacity="0.62"/>
<circle cx="624.13" cy="37.84" r="2.2" fill="#f4a386" fill-opacity="0.62"/>
<circle cx="576.88" cy="92.79" r="2.2" fill="#f4a386" fill-opacity="0.62"/>
<circle cx="593.69" cy="98.8" r="2.2" fill="#f4a386" fill-opacity="0.62"/>
<circle cx="648.88" cy="76.98" r="2.2" fill="#d3d3d3" fill-opacity="0.72"/>
<circle cx="638.88" cy="117.8" r="2.2" fill="#f4a386" fill-opacity="0.62"/>
<circle cx="621.88" cy="85.57" r="2.2" fill="#f4a386" fill-opacity="0.62"/>
<circle cx="587.07" cy="94.91" r="2.2" fill="#f4a386" fill-opacity="0.62"/>
<circle cx="598.39" cy="103.81" r="2.2" fill="#f4a386" fill-opacity="0.62"/>
<circle cx="609.88" cy="123.19" r="2.2" fill="#d3d3d3" fill-opacity="0.72"/>
<circle cx="636.1" cy="70.59" r="2.2" fill="#3bb697" fill-opacity="0.72"/>
<circle cx="636.21" cy="47.49" r="2.2" fill="#f4a386" fill-opacity="0.62"/>
<circle cx="650.65" cy="68.9" r="2.2" fill="#f4a386" fill-opacity="0.62"/>
<circle cx="595.55" cy="97.52" r="2.2" fill="#f4a386" fill-opacity="0.62"/>
<circle cx="650.89" cy="86.81" r="2.2" fill="#d3d3d3" fill-opacity="0.72"/>
<circle cx="612.72" cy="95.3" r="2.2" fill="#3bb697" fill-opacity="0.72"/>
<circle cx="616.89" cy="81.31" r="2.2" fill="#f4a386" fill-opacity="0.62"/>
<circle cx="591.01" cy="105.36" r="2.2" fill="#f4a386" fill-opacity="0.62"/>
<circle cx="625.57" cy="85.73" r="2.2" fill="#d3d3d3" fill-opacity="0.72"/>
<circle cx="634.71" cy="90.07" r="2.2" fill="#d3d3d3" fill-opacity="0.72"/>
<circle cx="599.09" cy="142.18" r="2.2" fill="#f4a386" fill-opacity="0.62"/>
<circle cx="602.79" cy="103.64" r="2.2" fill="#d3d3d3" fill-opacity="0.72"/>
<circle cx="566" cy="119.55" r="2.2" fill="#d3d3d3" fill-opacity="0.72"/>
<circle cx="593.63" cy="106.3" r="2.2" fill="#f4a386" fill-opacity="0.62"/>
<circle cx="633.91" cy="84.32" r="2.2" fill="#f4a386" fill-opacity="0.62"/>
<circle cx="643.35" cy="105.49" r="2.2" fill="#d3d3d3" fill-opacity="0.72"/>
<circle cx="588.81" cy="94.47" r="2.2" fill="#f4a386" fill-opacity="0.62"/>
<circle cx="651.92" cy="51.97" r="2.2" fill="#d3d3d3" fill-opacity="0.72"/>
<circle cx="650.78" cy="43.24" r="2.2" fill="#f4a386" fill-opacity="0.62"/>
<circle cx="630.42" cy="36.14" r="2.2" fill="#f4a386" fill-opacity="0.62"/>
<circle cx="529.78" cy="135.67" r="2.2" fill="#f4a386" fill-opacity="0.62"/>
<circle cx="647.31" cy="67.53" r="2.2" fill="#f4a386" fill-opacity="0.62"/>
<circle cx="649.65" cy="45.24" r="2.2" fill="#f4a386" fill-opacity="0.62"/>
<circle cx="621.68" cy="107.03" r="2.2" fill="#d3d3d3" fill-opacity="0.72"/>
<circle cx="601.37" cy="80.5" r="2.2" fill="#f4a386" fill-opacity="0.62"/>
<circle cx="651.21" cy="32.78" r="2.2" fill="#f4a386" fill-opacity="0.62"/>
<circle cx="638.65" cy="112.55" r="2.2" fill="#d3d3d3" fill-opacity="0.72"/>
<circle cx="606.52" cy="97.69" r="2.2" fill="#f4a386" fill-opacity="0.62"/>
<circle cx="602.49" cy="126.18" r="2.2" fill="#d3d3d3" fill-opacity="0.72"/>
<circle cx="576.94" cy="140.42" r="2.2" fill="#d3d3d3" fill-opacity="0.72"/>
<circle cx="603.9" cy="119.73" r="2.2" fill="#d3d3d3" fill-opacity="0.72"/>
<circle cx="577.99" cy="135.65" r="2.2" fill="#d3d3d3" fill-opacity="0.72"/>
<circle cx="617.5" cy="113.61" r="2.2" fill="#d3d3d3" fill-opacity="0.72"/>
<circle cx="568.88" cy="104.67" r="2.2" fill="#f4a386" fill-opacity="0.62"/>
<circle cx="641.16" cy="52.19" r="2.2" fill="#f4a386" fill-opacity="0.62"/>
<circle cx="582.75" cy="115.93" r="2.2" fill="#f4a386" fill-opacity="0.62"/>
<circle cx="567.46" cy="129.13" r="2.2" fill="#f4a386" fill-opacity="0.62"/>
<circle cx="642.23" cy="115.52" r="2.2" fill="#f4a386" fill-opacity="0.62"/>
<circle cx="555.93" cy="132.06" r="2.2" fill="#d3d3d3" fill-opacity="0.72"/>
<circle cx="548.29" cy="122.81" r="2.2" fill="#d3d3d3" fill-opacity="0.72"/>
<circle cx="611.76" cy="139.96" r="2.2" fill="#d3d3d3" fill-opacity="0.72"/>
<circle cx="557.87" cy="126.05" r="2.2" fill="#f4a386" fill-opacity="0.62"/>
<circle cx="624.46" cy="64.32" r="2.2" fill="#f4a386" fill-opacity="0.62"/>
<circle cx="638.56" cy="75.56" r="2.2" fill="#d3d3d3" fill-opacity="0.72"/>
<circle cx="548.14" cy="129.44" r="2.2" fill="#f4a386" fill-opacity="0.62"/>
<circle cx="610.75" cy="97.43" r="2.2" fill="#f4a386" fill-opacity="0.62"/>
<circle cx="651.37" cy="35.2" r="2.2" fill="#f4a386" fill-opacity="0.62"/>
<circle cx="606.84" cy="121.6" r="2.2" fill="#f4a386" fill-opacity="0.62"/>
<circle cx="608.3" cy="108.96" r="2.2" fill="#d3d3d3" fill-opacity="0.72"/>
<circle cx="586.24" cy="108.91" r="2.2" fill="#f4a386" fill-opacity="0.62"/>
<circle cx="652.09" cy="104.67" r="2.2" fill="#d3d3d3" fill-opacity="0.72"/>
<circle cx="628.39" cy="57.3" r="2.2" fill="#f4a386" fill-opacity="0.62"/>
<circle cx="554.68" cy="112.82" r="2.2" fill="#f4a386" fill-opacity="0.62"/>
<circle cx="557.37" cy="114.66" r="2.2" fill="#f4a386" fill-opacity="0.62"/>
<circle cx="605.74" cy="120.59" r="2.2" fill="#f4a386" fill-opacity="0.62"/>
<circle cx="597.7" cy="110.74" r="2.2" fill="#f4a386" fill-opacity="0.62"/>
<circle cx="590.65" cy="105.24" r="2.2" fill="#d3d3d3" fill-opacity="0.72"/>
<circle cx="620.71" cy="109.46" r="2.2" fill="#d3d3d3" fill-opacity="0.72"/>
<circle cx="621.3" cy="126.64" r="2.2" fill="#f4a386" fill-opacity="0.62"/>
<circle cx="651.14" cy="111.36" r="2.2" fill="#d3d3d3" fill-opacity="0.72"/>
<circle cx="612.43" cy="105.55" r="2.2" fill="#f4a386" fill-opacity="0.62"/>
<circle cx="609.46" cy="112.91" r="2.2" fill="#d3d3d3" fill-opacity="0.72"/>
<circle cx="608.21" cy="116.47" r="2.2" fill="#d3d3d3" fill-opacity="0.72"/>
<circle cx="542.23" cy="104.78" r="2.2" fill="#d3d3d3" fill-opacity="0.72"/>
<circle cx="599.92" cy="88.73" r="2.2" fill="#f4a386" fill-opacity="0.62"/>
<circle cx="612.82" cy="122.1" r="2.2" fill="#d3d3d3" fill-opacity="0.72"/>
<circle cx="646.47" cy="88.82" r="2.2" fill="#f4a386" fill-opacity="0.62"/>
<circle cx="650.61" cy="85.33" r="2.2" fill="#f4a386" fill-opacity="0.62"/>
<circle cx="649.39" cy="94.27" r="2.2" fill="#d3d3d3" fill-opacity="0.72"/>
<circle cx="574.91" cy="116.1" r="2.2" fill="#f4a386" fill-opacity="0.62"/>
<circle cx="646.36" cy="65.97" r="2.2" fill="#f4a386" fill-opacity="0.62"/>
<circle cx="589.46" cy="136.58" r="2.2" fill="#d3d3d3" fill-opacity="0.72"/>
<circle cx="560.67" cy="110.67" r="2.2" fill="#f4a386" fill-opacity="0.62"/>
<circle cx="595.35" cy="96.73" r="2.2" fill="#f4a386" fill-opacity="0.62"/>
<circle cx="539.6" cy="114.49" r="2.2" fill="#f4a386" fill-opacity="0.62"/>
<circle cx="651.36" cy="40.58" r="2.2" fill="#f4a386" fill-opacity="0.62"/>
<circle cx="586.35" cy="98.82" r="2.2" fill="#d3d3d3" fill-opacity="0.72"/>
<circle cx="553.59" cy="115.58" r="2.2" fill="#f4a386" fill-opacity="0.62"/>
<circle cx="635.06" cy="80.14" r="2.2" fill="#f4a386" fill-opacity="0.62"/>
<circle cx="641.04" cy="56.56" r="2.2" fill="#f4a386" fill-opacity="0.62"/>
<circle cx="642.13" cy="35.41" r="2.2" fill="#f4a386" fill-opacity="0.62"/>
<circle cx="649.41" cy="32.1" r="2.2" fill="#f4a386" fill-opacity="0.62"/>
<circle cx="649.74" cy="60.19" r="2.2" fill="#f4a386" fill-opacity="0.62"/>
<circle cx="610.56" cy="79.84" r="2.2" fill="#d3d3d3" fill-opacity="0.72"/>
<circle cx="568.42" cy="88.08" r="2.2" fill="#d3d3d3" fill-opacity="0.72"/>
<circle cx="628.11" cy="36.51" r="2.2" fill="#d3d3d3" fill-opacity="0.72"/>
<circle cx="641.07" cy="48.19" r="2.2" fill="#f4a386" fill-opacity="0.62"/>
<circle cx="651.9" cy="48.09" r="2.2" fill="#f4a386" fill-opacity="0.62"/>
<circle cx="586.83" cy="111.51" r="2.2" fill="#f4a386" fill-opacity="0.62"/>
<circle cx="610.25" cy="107" r="2.2" fill="#f4a386" fill-opacity="0.62"/>
<circle cx="610.18" cy="118.57" r="2.2" fill="#d3d3d3" fill-opacity="0.72"/>
<circle cx="651.36" cy="88.86" r="2.2" fill="#d3d3d3" fill-opacity="0.72"/>
<circle cx="538.3" cy="121.71" r="2.2" fill="#d3d3d3" fill-opacity="0.72"/>
<circle cx="646.88" cy="35.07" r="2.2" fill="#d3d3d3" fill-opacity="0.72"/>
<circle cx="600.03" cy="91.38" r="2.2" fill="#f4a386" fill-opacity="0.62"/>
<circle cx="644.37" cy="62.48" r="2.2" fill="#f4a386" fill-opacity="0.62"/>
<circle cx="632.43" cy="75.19" r="2.2" fill="#f4a386" fill-opacity="0.62"/>
<circle cx="646.38" cy="51.93" r="2.2" fill="#d3d3d3" fill-opacity="0.72"/>
<circle cx="582.6" cy="125.83" r="2.2" fill="#d3d3d3" fill-opacity="0.72"/>
<circle cx="648.01" cy="45.74" r="2.2" fill="#f4a386" fill-opacity="0.62"/>
<circle cx="652.07" cy="57.86" r="2.2" fill="#d3d3d3" fill-opacity="0.72"/>
<circle cx="647.41" cy="47.77" r="2.2" fill="#f4a386" fill-opacity="0.62"/>
<circle cx="608.07" cy="89.89" r="2.2" fill="#f4a386" fill-opacity="0.62"/>
<circle cx="575.74" cy="131.92" r="2.2" fill="#d3d3d3" fill-opacity="0.72"/>
<circle cx="605.18" cy="118.64" r="2.2" fill="#3bb697" fill-opacity="0.72"/>
<circle cx="647.28" cy="53.54" r="2.2" fill="#f4a386" fill-opacity="0.62"/>
<circle cx="618.19" cy="98.38" r="2.2" fill="#f4a386" fill-opacity="0.62"/>
<circle cx="608.3" cy="117.41" r="2.2" fill="#d3d3d3" fill-opacity="0.72"/>
<circle cx="645.83" cy="72.02" r="2.2" fill="#d3d3d3" fill-opacity="0.72"/>
<circle cx="597.4" cy="145.18" r="2.2" fill="#d3d3d3" fill-opacity="0.72"/>
<circle cx="632.53" cy="67.39" r="2.2" fill="#d3d3d3" fill-opacity="0.72"/>
<circle cx="584.66" cy="88.37" r="2.2" fill="#f4a386" fill-opacity="0.62"/>
<circle cx="560.14" cy="92.95" r="2.2" fill="#f4a386" fill-opacity="0.62"/>
<circle cx="576.64" cy="120.36" r="2.2" fill="#f4a386" fill-opacity="0.62"/>
<circle cx="592.26" cy="115.18" r="2.2" fill="#f4a386" fill-opacity="0.62"/>
<circle cx="648.68" cy="63.88" r="2.2" fill="#f4a386" fill-opacity="0.62"/>
<circle cx="632.39" cy="80.18" r="2.2" fill="#d3d3d3" fill-opacity="0.72"/>
<circle cx="627.17" cy="116.57" r="2.2" fill="#f4a386" fill-opacity="0.62"/>
<circle cx="543.95" cy="131.43" r="2.2" fill="#f4a386" fill-opacity="0.62"/>
<circle cx="648.09" cy="80.99" r="2.2" fill="#f4a386" fill-opacity="0.62"/>
<circle cx="597.08" cy="101.54" r="2.2" fill="#f4a386" fill-opacity="0.62"/>
<circle cx="580.98" cy="103.78" r="2.2" fill="#d3d3d3" fill-opacity="0.72"/>
<circle cx="590.3" cy="120.71" r="2.2" fill="#f4a386" fill-opacity="0.62"/>
<circle cx="574.24" cy="128.31" r="2.2" fill="#d3d3d3" fill-opacity="0.72"/>
<circle cx="645.1" cy="32.15" r="2.2" fill="#d3d3d3" fill-opacity="0.72"/>
<circle cx="602.88" cy="112.64" r="2.2" fill="#f4a386" fill-opacity="0.62"/>
<circle cx="608.42" cy="94.47" r="2.2" fill="#d3d3d3" fill-opacity="0.72"/>
<circle cx="613.08" cy="108.51" r="2.2" fill="#3bb697" fill-opacity="0.72"/>
<circle cx="610.03" cy="107.53" r="2.2" fill="#f4a386" fill-opacity="0.62"/>
<circle cx="590.24" cy="143.74" r="2.2" fill="#d3d3d3" fill-opacity="0.72"/>
<circle cx="627.12" cy="96.45" r="2.2" fill="#d3d3d3" fill-opacity="0.72"/>
<circle cx="600.89" cy="124.21" r="2.2" fill="#d3d3d3" fill-opacity="0.72"/>
<circle cx="599.76" cy="99.26" r="2.2" fill="#f4a386" fill-opacity="0.62"/>
<circle cx="629.1" cy="39.38" r="2.2" fill="#f4a386" fill-opacity="0.62"/>
<circle cx="604.39" cy="125.79" r="2.2" fill="#f4a386" fill-opacity="0.62"/>
<circle cx="651.76" cy="66.86" r="2.2" fill="#f4a386" fill-opacity="0.62"/>
<circle cx="550.6" cy="139.73" r="2.2" fill="#d3d3d3" fill-opacity="0.72"/>
<circle cx="583.93" cy="102.04" r="2.2" fill="#f4a386" fill-opacity="0.62"/>
<circle cx="617.09" cy="85.01" r="2.2" fill="#d3d3d3" fill-opacity="0.72"/>
<circle cx="559.49" cy="86.53" r="2.2" fill="#f4a386" fill-opacity="0.62"/>
<circle cx="562.28" cy="124.78" r="2.2" fill="#d3d3d3" fill-opacity="0.72"/>
<circle cx="613.13" cy="100.71" r="2.2" fill="#f4a386" fill-opacity="0.62"/>
<circle cx="650.26" cy="50.81" r="2.2" fill="#f4a386" fill-opacity="0.62"/>
<circle cx="584.71" cy="124.49" r="2.2" fill="#f4a386" fill-opacity="0.62"/>
<circle cx="622.18" cy="111.96" r="2.2" fill="#f4a386" fill-opacity="0.62"/>
<circle cx="570" cy="140.26" r="2.2" fill="#d3d3d3" fill-opacity="0.72"/>
<circle cx="631.53" cy="44.42" r="2.2" fill="#f4a386" fill-opacity="0.62"/>
<circle cx="553.83" cy="133.9" r="2.2" fill="#d3d3d3" fill-opacity="0.72"/>
<circle cx="650.56" cy="51.24" r="2.2" fill="#f4a386" fill-opacity="0.62"/>
<circle cx="650.95" cy="59.56" r="2.2" fill="#f4a386" fill-opacity="0.62"/>
<circle cx="606.48" cy="121.26" r="2.2" fill="#d3d3d3" fill-opacity="0.72"/>
<circle cx="598.27" cy="122.93" r="2.2" fill="#f4a386" fill-opacity="0.62"/>
<circle cx="651.12" cy="85.82" r="2.2" fill="#d3d3d3" fill-opacity="0.72"/>
<circle cx="637.81" cy="64.95" r="2.2" fill="#f4a386" fill-opacity="0.62"/>
<circle cx="581.72" cy="120.87" r="2.2" fill="#f4a386" fill-opacity="0.62"/>
<circle cx="583.91" cy="112.73" r="2.2" fill="#d3d3d3" fill-opacity="0.72"/>
<circle cx="649.89" cy="109.4" r="2.2" fill="#d3d3d3" fill-opacity="0.72"/>
<circle cx="635.22" cy="48.51" r="2.2" fill="#f4a386" fill-opacity="0.62"/>
<circle cx="650.83" cy="83.23" r="2.2" fill="#f4a386" fill-opacity="0.62"/>
<circle cx="650.92" cy="67.27" r="2.2" fill="#f4a386" fill-opacity="0.62"/>
<circle cx="571.02" cy="139.97" r="2.2" fill="#d3d3d3" fill-opacity="0.72"/>
<circle cx="589.29" cy="106.19" r="2.2" fill="#f4a386" fill-opacity="0.62"/>
<circle cx="616.68" cy="98.41" r="2.2" fill="#f4a386" fill-opacity="0.62"/>
<circle cx="642.8" cy="51.17" r="2.2" fill="#d3d3d3" fill-opacity="0.72"/>
<circle cx="548.54" cy="130.48" r="2.2" fill="#d3d3d3" fill-opacity="0.72"/>
<circle cx="589.2" cy="125.1" r="2.2" fill="#d3d3d3" fill-opacity="0.72"/>
<circle cx="651.95" cy="48.86" r="2.2" fill="#f4a386" fill-opacity="0.62"/>
<circle cx="651.19" cy="57.2" r="2.2" fill="#f4a386" fill-opacity="0.62"/>
<circle cx="595.29" cy="111.53" r="2.2" fill="#d3d3d3" fill-opacity="0.72"/>
<circle cx="651.32" cy="86.47" r="2.2" fill="#d3d3d3" fill-opacity="0.72"/>
<circle cx="635.4" cy="88.08" r="2.2" fill="#f4a386" fill-opacity="0.62"/>
<circle cx="647.98" cy="83.05" r="2.2" fill="#f4a386" fill-opacity="0.62"/>
<circle cx="598.04" cy="102.71" r="2.2" fill="#f4a386" fill-opacity="0.62"/>
<circle cx="618.55" cy="106.09" r="2.2" fill="#f4a386" fill-opacity="0.62"/>
<circle cx="544.6" cy="126.69" r="2.2" fill="#f4a386" fill-opacity="0.62"/>
<circle cx="647.1" cy="91.52" r="2.2" fill="#f4a386" fill-opacity="0.62"/>
<circle cx="551.39" cy="110.32" r="2.2" fill="#f4a386" fill-opacity="0.62"/>
<circle cx="618.33" cy="100.24" r="2.2" fill="#d3d3d3" fill-opacity="0.72"/>
<circle cx="650.09" cy="60.23" r="2.2" fill="#f4a386" fill-opacity="0.62"/>
<circle cx="649.4" cy="76.62" r="2.2" fill="#f4a386" fill-opacity="0.62"/>
<circle cx="650.06" cy="58.05" r="2.2" fill="#f4a386" fill-opacity="0.62"/>
<circle cx="585.59" cy="110.37" r="2.2" fill="#f4a386" fill-opacity="0.62"/>
<circle cx="590.7" cy="111.14" r="2.2" fill="#3bb697" fill-opacity="0.72"/>
<circle cx="548.33" cy="120.51" r="2.2" fill="#f4a386" fill-opacity="0.62"/>
<circle cx="648.48" cy="52.12" r="2.2" fill="#f4a386" fill-opacity="0.62"/>
<circle cx="546.07" cy="141.26" r="2.2" fill="#d3d3d3" fill-opacity="0.72"/>
<circle cx="573.91" cy="136.28" r="2.2" fill="#d3d3d3" fill-opacity="0.72"/>
<circle cx="636.7" cy="90.09" r="2.2" fill="#f4a386" fill-opacity="0.62"/>
<circle cx="586.49" cy="104.22" r="2.2" fill="#f4a386" fill-opacity="0.62"/>
<circle cx="615.24" cy="62.86" r="2.2" fill="#d3d3d3" fill-opacity="0.72"/>
<circle cx="633" cy="38.49" r="2.2" fill="#f4a386" fill-opacity="0.62"/>
<circle cx="651.72" cy="78.9" r="2.2" fill="#f4a386" fill-opacity="0.62"/>
<circle cx="603.74" cy="107.64" r="2.2" fill="#d3d3d3" fill-opacity="0.72"/>
<circle cx="608.99" cy="116.08" r="2.2" fill="#d3d3d3" fill-opacity="0.72"/>
<circle cx="586.46" cy="138.4" r="2.2" fill="#d3d3d3" fill-opacity="0.72"/>
<circle cx="597.7" cy="125.24" r="2.2" fill="#f4a386" fill-opacity="0.62"/>
<circle cx="621.08" cy="73.23" r="2.2" fill="#f4a386" fill-opacity="0.62"/>
<circle cx="646.82" cy="117.19" r="2.2" fill="#d3d3d3" fill-opacity="0.72"/>
<circle cx="648.17" cy="50.48" r="2.2" fill="#f4a386" fill-opacity="0.62"/>
<circle cx="587.41" cy="122.07" r="2.2" fill="#d3d3d3" fill-opacity="0.72"/>
<circle cx="627.73" cy="84.47" r="2.2" fill="#f4a386" fill-opacity="0.62"/>
<circle cx="599.48" cy="74.98" r="2.2" fill="#f4a386" fill-opacity="0.62"/>
<circle cx="580.8" cy="126.2" r="2.2" fill="#f4a386" fill-opacity="0.62"/>
<circle cx="645.26" cy="78.7" r="2.2" fill="#d3d3d3" fill-opacity="0.72"/>
<circle cx="583.2" cy="125.1" r="2.2" fill="#f4a386" fill-opacity="0.62"/>
<circle cx="625.37" cy="81.6" r="2.2" fill="#f4a386" fill-opacity="0.62"/>
<circle cx="609.59" cy="109.65" r="2.2" fill="#d3d3d3" fill-opacity="0.72"/>
<circle cx="542.02" cy="135.23" r="2.2" fill="#d3d3d3" fill-opacity="0.72"/>
<circle cx="648.42" cy="98.2" r="2.2" fill="#f4a386" fill-opacity="0.62"/>
<circle cx="606.76" cy="109.97" r="2.2" fill="#f4a386" fill-opacity="0.62"/>
<circle cx="638.82" cy="100.4" r="2.2" fill="#f4a386" fill-opacity="0.62"/>
<circle cx="538.1" cy="125.9" r="2.2" fill="#f4a386" fill-opacity="0.62"/>
<circle cx="651.34" cy="37.67" r="2.2" fill="#f4a386" fill-opacity="0.62"/>
<circle cx="651.19" cy="59.17" r="2.2" fill="#f4a386" fill-opacity="0.62"/>
<circle cx="649.87" cy="66.15" r="2.2" fill="#d3d3d3" fill-opacity="0.72"/>
<circle cx="651.52" cy="88.66" r="2.2" fill="#f4a386" fill-opacity="0.62"/>
<circle cx="576.56" cy="102.36" r="2.2" fill="#d3d3d3" fill-opacity="0.72"/>
<circle cx="649.34" cy="88.83" r="2.2" fill="#d3d3d3" fill-opacity="0.72"/>
<circle cx="623.4" cy="96.16" r="2.2" fill="#d3d3d3" fill-opacity="0.72"/>
<circle cx="619.65" cy="83.41" r="2.2" fill="#f4a386" fill-opacity="0.62"/>
<circle cx="651.99" cy="93.49" r="2.2" fill="#d3d3d3" fill-opacity="0.72"/>
<circle cx="568.92" cy="110.24" r="2.2" fill="#f4a386" fill-opacity="0.62"/>
<circle cx="559.3" cy="124.09" r="2.2" fill="#d3d3d3" fill-opacity="0.72"/>
<circle cx="584.67" cy="101.59" r="2.2" fill="#f4a386" fill-opacity="0.62"/>
<circle cx="649.47" cy="60.76" r="2.2" fill="#d3d3d3" fill-opacity="0.72"/>
<circle cx="639.4" cy="60.87" r="2.2" fill="#f4a386" fill-opacity="0.62"/>
<circle cx="629.65" cy="74.11" r="2.2" fill="#f4a386" fill-opacity="0.62"/>
<circle cx="637.58" cy="46.92" r="2.2" fill="#f4a386" fill-opacity="0.62"/>
<circle cx="590.69" cy="103.15" r="2.2" fill="#d3d3d3" fill-opacity="0.72"/>
<circle cx="648.47" cy="71.41" r="2.2" fill="#d3d3d3" fill-opacity="0.72"/>
<circle cx="572.07" cy="95.32" r="2.2" fill="#f4a386" fill-opacity="0.62"/>
<circle cx="644.58" cy="65.25" r="2.2" fill="#f4a386" fill-opacity="0.62"/>
<circle cx="561.06" cy="133.44" r="2.2" fill="#d3d3d3" fill-opacity="0.72"/>
<circle cx="649.15" cy="73.28" r="2.2" fill="#f4a386" fill-opacity="0.62"/>
<circle cx="571.34" cy="106.45" r="2.2" fill="#f4a386" fill-opacity="0.62"/>
<circle cx="571.59" cy="140.17" r="2.2" fill="#d3d3d3" fill-opacity="0.72"/>
<circle cx="624" cy="78.23" r="2.2" fill="#f4a386" fill-opacity="0.62"/>
<circle cx="597.87" cy="112.73" r="2.2" fill="#d3d3d3" fill-opacity="0.72"/>
<circle cx="610.33" cy="86.27" r="2.2" fill="#f4a386" fill-opacity="0.62"/>
<circle cx="630.88" cy="56.42" r="2.2" fill="#f4a386" fill-opacity="0.62"/>
<circle cx="569.11" cy="127.05" r="2.2" fill="#f4a386" fill-opacity="0.62"/>
<circle cx="651.13" cy="34.04" r="2.2" fill="#f4a386" fill-opacity="0.62"/>
<circle cx="649.76" cy="56.43" r="2.2" fill="#f4a386" fill-opacity="0.62"/>
<circle cx="562.79" cy="136.16" r="2.2" fill="#f4a386" fill-opacity="0.62"/>
<circle cx="650.15" cy="36.68" r="2.2" fill="#f4a386" fill-opacity="0.62"/>
<circle cx="637.63" cy="50.16" r="2.2" fill="#d3d3d3" fill-opacity="0.72"/>
<circle cx="606.87" cy="119.47" r="2.2" fill="#f4a386" fill-opacity="0.62"/>
<circle cx="596.21" cy="110.88" r="2.2" fill="#f4a386" fill-opacity="0.62"/>
<circle cx="544.45" cy="139.09" r="2.2" fill="#f4a386" fill-opacity="0.62"/>
<circle cx="633.82" cy="68.09" r="2.2" fill="#f4a386" fill-opacity="0.62"/>
<circle cx="632.27" cy="109.03" r="2.2" fill="#f4a386" fill-opacity="0.62"/>
<circle cx="595.91" cy="75" r="2.2" fill="#f4a386" fill-opacity="0.62"/>
<circle cx="634.93" cy="77.2" r="2.2" fill="#d3d3d3" fill-opacity="0.72"/>
<circle cx="590.86" cy="107.92" r="2.2" fill="#f4a386" fill-opacity="0.62"/>
<circle cx="649.31" cy="84.54" r="2.2" fill="#f4a386" fill-opacity="0.62"/>
<circle cx="599.08" cy="112.18" r="2.2" fill="#f4a386" fill-opacity="0.62"/>
<circle cx="591.48" cy="106.78" r="2.2" fill="#d3d3d3" fill-opacity="0.72"/>
<circle cx="575.63" cy="104.22" r="2.2" fill="#f4a386" fill-opacity="0.62"/>
<circle cx="633.35" cy="83.13" r="2.2" fill="#f4a386" fill-opacity="0.62"/>
<circle cx="589.96" cy="116.47" r="2.2" fill="#d3d3d3" fill-opacity="0.72"/>
<circle cx="652.1" cy="39.1" r="2.2" fill="#f4a386" fill-opacity="0.62"/>
<circle cx="600.73" cy="119.05" r="2.2" fill="#f4a386" fill-opacity="0.62"/>
<circle cx="616.41" cy="103.51" r="2.2" fill="#f4a386" fill-opacity="0.62"/>
<circle cx="590.4" cy="117.37" r="2.2" fill="#d3d3d3" fill-opacity="0.72"/>
<circle cx="650.06" cy="74.66" r="2.2" fill="#f4a386" fill-opacity="0.62"/>
<circle cx="566.66" cy="132.92" r="2.2" fill="#f4a386" fill-opacity="0.62"/>
<circle cx="624.13" cy="96.08" r="2.2" fill="#d3d3d3" fill-opacity="0.72"/>
<circle cx="618.46" cy="117.15" r="2.2" fill="#d3d3d3" fill-opacity="0.72"/>
<circle cx="593.14" cy="123.83" r="2.2" fill="#d3d3d3" fill-opacity="0.72"/>
<circle cx="563.71" cy="136.14" r="2.2" fill="#d3d3d3" fill-opacity="0.72"/>
<circle cx="628.54" cy="126.1" r="2.2" fill="#d3d3d3" fill-opacity="0.72"/>
<circle cx="649.32" cy="58.33" r="2.2" fill="#f4a386" fill-opacity="0.62"/>
<circle cx="573.6" cy="114.14" r="2.2" fill="#f4a386" fill-opacity="0.62"/>
<circle cx="587.06" cy="107.97" r="2.2" fill="#f4a386" fill-opacity="0.62"/>
<circle cx="631.2" cy="54.02" r="2.2" fill="#d3d3d3" fill-opacity="0.72"/>
<circle cx="641.33" cy="93.58" r="2.2" fill="#d3d3d3" fill-opacity="0.72"/>
<circle cx="586.89" cy="106.45" r="2.2" fill="#f4a386" fill-opacity="0.62"/>
<circle cx="636.41" cy="86.08" r="2.2" fill="#f4a386" fill-opacity="0.62"/>
<circle cx="601.67" cy="101.08" r="2.2" fill="#f4a386" fill-opacity="0.62"/>
<circle cx="603.85" cy="111.35" r="2.2" fill="#d3d3d3" fill-opacity="0.72"/>
<circle cx="626.8" cy="51.97" r="2.2" fill="#f4a386" fill-opacity="0.62"/>
<circle cx="580.22" cy="96.67" r="2.2" fill="#f4a386" fill-opacity="0.62"/>
<circle cx="542.01" cy="139.04" r="2.2" fill="#f4a386" fill-opacity="0.62"/>
<circle cx="639.87" cy="52.31" r="2.2" fill="#f4a386" fill-opacity="0.62"/>
<circle cx="615.66" cy="86.99" r="2.2" fill="#f4a386" fill-opacity="0.62"/>
<circle cx="621.28" cy="97.98" r="2.2" fill="#f4a386" fill-opacity="0.62"/>
<circle cx="651.28" cy="105.01" r="2.2" fill="#d3d3d3" fill-opacity="0.72"/>
<circle cx="650.32" cy="65.14" r="2.2" fill="#f4a386" fill-opacity="0.62"/>
<circle cx="651.7" cy="67.62" r="2.2" fill="#f4a386" fill-opacity="0.62"/>
<circle cx="572.81" cy="117.37" r="2.2" fill="#f4a386" fill-opacity="0.62"/>
<circle cx="574.53" cy="117.37" r="2.2" fill="#d3d3d3" fill-opacity="0.72"/>
<circle cx="600.54" cy="87.01" r="2.2" fill="#f4a386" fill-opacity="0.62"/>
<circle cx="630.94" cy="81.59" r="2.2" fill="#f4a386" fill-opacity="0.62"/>
<circle cx="568.65" cy="139.57" r="2.2" fill="#d3d3d3" fill-opacity="0.72"/>
<circle cx="592.86" cy="81.18" r="2.2" fill="#f4a386" fill-opacity="0.62"/>
<circle cx="643.74" cy="75.52" r="2.2" fill="#d3d3d3" fill-opacity="0.72"/>
<circle cx="647.53" cy="96.27" r="2.2" fill="#f4a386" fill-opacity="0.62"/>
<circle cx="563.3" cy="136.43" r="2.2" fill="#d3d3d3" fill-opacity="0.72"/>
<circle cx="560.67" cy="128.53" r="2.2" fill="#f4a386" fill-opacity="0.62"/>
<circle cx="638.23" cy="52.68" r="2.2" fill="#f4a386" fill-opacity="0.62"/>
<circle cx="615.21" cy="70.35" r="2.2" fill="#f4a386" fill-opacity="0.62"/>
<circle cx="615.11" cy="111.28" r="2.2" fill="#d3d3d3" fill-opacity="0.72"/>
<circle cx="630.45" cy="97.26" r="2.2" fill="#d3d3d3" fill-opacity="0.72"/>
<circle cx="621.42" cy="71.78" r="2.2" fill="#f4a386" fill-opacity="0.62"/>
<circle cx="624.28" cy="119.2" r="2.2" fill="#d3d3d3" fill-opacity="0.72"/>
<circle cx="626.52" cy="54.84" r="2.2" fill="#f4a386" fill-opacity="0.62"/>
<circle cx="629.62" cy="37.74" r="2.2" fill="#f4a386" fill-opacity="0.62"/>
<circle cx="579.5" cy="126.37" r="2.2" fill="#f4a386" fill-opacity="0.62"/>
<circle cx="610.29" cy="89.45" r="2.2" fill="#f4a386" fill-opacity="0.62"/>
<circle cx="605.27" cy="109.46" r="2.2" fill="#d3d3d3" fill-opacity="0.72"/>
<circle cx="579.91" cy="92.44" r="2.2" fill="#f4a386" fill-opacity="0.62"/>
<circle cx="638.96" cy="109.7" r="2.2" fill="#f4a386" fill-opacity="0.62"/>
<circle cx="599.3" cy="86.73" r="2.2" fill="#f4a386" fill-opacity="0.62"/>
<circle cx="608.18" cy="115.81" r="2.2" fill="#f4a386" fill-opacity="0.62"/>
<circle cx="575.39" cy="125.15" r="2.2" fill="#3bb697" fill-opacity="0.72"/>
<circle cx="554.37" cy="126.04" r="2.2" fill="#f4a386" fill-opacity="0.62"/>
<circle cx="613.11" cy="86.68" r="2.2" fill="#f4a386" fill-opacity="0.62"/>
<circle cx="635.74" cy="107.66" r="2.2" fill="#d3d3d3" fill-opacity="0.72"/>
<circle cx="574.3" cy="131.6" r="2.2" fill="#f4a386" fill-opacity="0.62"/>
<circle cx="558.06" cy="103.56" r="2.2" fill="#d3d3d3" fill-opacity="0.72"/>
<circle cx="574.25" cy="144.67" r="2.2" fill="#d3d3d3" fill-opacity="0.72"/>
<circle cx="650.78" cy="54.35" r="2.2" fill="#f4a386" fill-opacity="0.62"/>
<circle cx="623.22" cy="40.5" r="2.2" fill="#f4a386" fill-opacity="0.62"/>
<circle cx="650.07" cy="48.54" r="2.2" fill="#f4a386" fill-opacity="0.62"/>
<circle cx="650.38" cy="57.56" r="2.2" fill="#f4a386" fill-opacity="0.62"/>
<circle cx="643.45" cy="36.03" r="2.2" fill="#f4a386" fill-opacity="0.62"/>
<circle cx="650.47" cy="71.66" r="2.2" fill="#f4a386" fill-opacity="0.62"/>
<circle cx="638.3" cy="47.82" r="2.2" fill="#f4a386" fill-opacity="0.62"/>
<circle cx="624.41" cy="94.73" r="2.2" fill="#d3d3d3" fill-opacity="0.72"/>
<circle cx="602.87" cy="108.87" r="2.2" fill="#f4a386" fill-opacity="0.62"/>
<circle cx="650.71" cy="33.43" r="2.2" fill="#f4a386" fill-opacity="0.62"/>
<circle cx="610.38" cy="101.94" r="2.2" fill="#d3d3d3" fill-opacity="0.72"/>
<circle cx="651.69" cy="71.94" r="2.2" fill="#f4a386" fill-opacity="0.62"/>
<circle cx="599.71" cy="102.06" r="2.2" fill="#d3d3d3" fill-opacity="0.72"/>
<circle cx="650.16" cy="44.68" r="2.2" fill="#f4a386" fill-opacity="0.62"/>
<circle cx="597.5" cy="112.17" r="2.2" fill="#d3d3d3" fill-opacity="0.72"/>
<circle cx="593.5" cy="114.56" r="2.2" fill="#f4a386" fill-opacity="0.62"/>
<circle cx="596.47" cy="117.56" r="2.2" fill="#f4a386" fill-opacity="0.62"/>
<circle cx="651.97" cy="60.09" r="2.2" fill="#d3d3d3" fill-opacity="0.72"/>
<circle cx="575.36" cy="125.68" r="2.2" fill="#f4a386" fill-opacity="0.62"/>
<circle cx="652.06" cy="76.27" r="2.2" fill="#d3d3d3" fill-opacity="0.72"/>
<circle cx="590.64" cy="94.79" r="2.2" fill="#f4a386" fill-opacity="0.62"/>
<circle cx="570.34" cy="135.87" r="2.2" fill="#d3d3d3" fill-opacity="0.72"/>
<circle cx="567.74" cy="122.75" r="2.2" fill="#f4a386" fill-opacity="0.62"/>
<circle cx="622.35" cy="80.69" r="2.2" fill="#d3d3d3" fill-opacity="0.72"/>
<circle cx="625.93" cy="42.59" r="2.2" fill="#f4a386" fill-opacity="0.62"/>
<circle cx="640.69" cy="59.26" r="2.2" fill="#f4a386" fill-opacity="0.62"/>
<circle cx="651.57" cy="99.33" r="2.2" fill="#d3d3d3" fill-opacity="0.72"/>
<circle cx="629.3" cy="63.22" r="2.2" fill="#f4a386" fill-opacity="0.62"/>
<circle cx="584.84" cy="118.26" r="2.2" fill="#f4a386" fill-opacity="0.62"/>
<circle cx="645.71" cy="79.73" r="2.2" fill="#d3d3d3" fill-opacity="0.72"/>
<circle cx="537.99" cy="120.93" r="2.2" fill="#f4a386" fill-opacity="0.62"/>
<circle cx="636.57" cy="36.08" r="2.2" fill="#f4a386" fill-opacity="0.62"/>
<circle cx="652.09" cy="90.87" r="2.2" fill="#f4a386" fill-opacity="0.62"/>
<circle cx="552.09" cy="141.42" r="2.2" fill="#d3d3d3" fill-opacity="0.72"/>
<circle cx="545.07" cy="134.79" r="2.2" fill="#f4a386" fill-opacity="0.62"/>
<circle cx="580.17" cy="141.18" r="2.2" fill="#f4a386" fill-opacity="0.62"/>
<circle cx="567.59" cy="118.82" r="2.2" fill="#f4a386" fill-opacity="0.62"/>
<circle cx="650.65" cy="66.9" r="2.2" fill="#f4a386" fill-opacity="0.62"/>
<circle cx="640.57" cy="46.92" r="2.2" fill="#f4a386" fill-opacity="0.62"/>
<circle cx="618.99" cy="70.56" r="2.2" fill="#f4a386" fill-opacity="0.62"/>
<circle cx="580.37" cy="97.87" r="2.2" fill="#f4a386" fill-opacity="0.62"/>
<circle cx="645.31" cy="50.54" r="2.2" fill="#f4a386" fill-opacity="0.62"/>
<circle cx="622.41" cy="107.84" r="2.2" fill="#f4a386" fill-opacity="0.62"/>
<circle cx="646.37" cy="69.53" r="2.2" fill="#f4a386" fill-opacity="0.62"/>
<circle cx="577.89" cy="128.49" r="2.2" fill="#d3d3d3" fill-opacity="0.72"/>
<circle cx="619.35" cy="66.46" r="2.2" fill="#d3d3d3" fill-opacity="0.72"/>
<circle cx="576.57" cy="124.83" r="2.2" fill="#f4a386" fill-opacity="0.62"/>
<circle cx="612.5" cy="101.24" r="2.2" fill="#f4a386" fill-opacity="0.62"/>
<circle cx="610.71" cy="99.08" r="2.2" fill="#f4a386" fill-opacity="0.62"/>
<circle cx="650.03" cy="88.23" r="2.2" fill="#f4a386" fill-opacity="0.62"/>
<circle cx="606.94" cy="123.53" r="2.2" fill="#d3d3d3" fill-opacity="0.72"/>
<circle cx="651.34" cy="52.89" r="2.2" fill="#d3d3d3" fill-opacity="0.72"/>
<circle cx="624.82" cy="74.31" r="2.2" fill="#f4a386" fill-opacity="0.62"/>
<circle cx="590.64" cy="124.65" r="2.2" fill="#f4a386" fill-opacity="0.62"/>
<circle cx="569.38" cy="113.46" r="2.2" fill="#f4a386" fill-opacity="0.62"/>
<circle cx="639.86" cy="48.51" r="2.2" fill="#f4a386" fill-opacity="0.62"/>
<circle cx="651.21" cy="83.55" r="2.2" fill="#f4a386" fill-opacity="0.62"/>
<circle cx="651.12" cy="38.49" r="2.2" fill="#f4a386" fill-opacity="0.62"/>
<circle cx="619.97" cy="129.85" r="2.2" fill="#f4a386" fill-opacity="0.62"/>
<circle cx="587.57" cy="106.85" r="2.2" fill="#f4a386" fill-opacity="0.62"/>
<circle cx="588.85" cy="132.51" r="2.2" fill="#f4a386" fill-opacity="0.62"/>
<circle cx="552.27" cy="126.17" r="2.2" fill="#f4a386" fill-opacity="0.62"/>
<circle cx="579.25" cy="136.9" r="2.2" fill="#d3d3d3" fill-opacity="0.72"/>
<circle cx="588.68" cy="128.09" r="2.2" fill="#d3d3d3" fill-opacity="0.72"/>
<circle cx="577.69" cy="97.94" r="2.2" fill="#f4a386" fill-opacity="0.62"/>
<circle cx="566.56" cy="131.54" r="2.2" fill="#d3d3d3" fill-opacity="0.72"/>
<circle cx="622.36" cy="94.29" r="2.2" fill="#f4a386" fill-opacity="0.62"/>
<circle cx="650.97" cy="52.51" r="2.2" fill="#f4a386" fill-opacity="0.62"/>
<circle cx="594.39" cy="105.47" r="2.2" fill="#f4a386" fill-opacity="0.62"/>
<circle cx="606.39" cy="102.41" r="2.2" fill="#d3d3d3" fill-opacity="0.72"/>
<circle cx="650.36" cy="43.84" r="2.2" fill="#f4a386" fill-opacity="0.62"/>
<circle cx="587.24" cy="94.5" r="2.2" fill="#f4a386" fill-opacity="0.62"/>
<circle cx="556.19" cy="128.09" r="2.2" fill="#d3d3d3" fill-opacity="0.72"/>
<circle cx="647.32" cy="52.31" r="2.2" fill="#f4a386" fill-opacity="0.62"/>
<circle cx="614.09" cy="114.77" r="2.2" fill="#d3d3d3" fill-opacity="0.72"/>
<circle cx="647.06" cy="34.99" r="2.2" fill="#f4a386" fill-opacity="0.62"/>
<circle cx="601.8" cy="104.73" r="2.2" fill="#f4a386" fill-opacity="0.62"/>
<circle cx="569.39" cy="122.62" r="2.2" fill="#f4a386" fill-opacity="0.62"/>
<circle cx="605.41" cy="97.84" r="2.2" fill="#f4a386" fill-opacity="0.62"/>
<circle cx="577.2" cy="108.4" r="2.2" fill="#d3d3d3" fill-opacity="0.72"/>
<circle cx="575.82" cy="113.93" r="2.2" fill="#f4a386" fill-opacity="0.62"/>
<circle cx="632.77" cy="69.62" r="2.2" fill="#f4a386" fill-opacity="0.62"/>
<circle cx="648.75" cy="76.94" r="2.2" fill="#d3d3d3" fill-opacity="0.72"/>
<circle cx="647.88" cy="49.9" r="2.2" fill="#f4a386" fill-opacity="0.62"/>
<circle cx="568.26" cy="102.17" r="2.2" fill="#f4a386" fill-opacity="0.62"/>
<circle cx="620.94" cy="74.11" r="2.2" fill="#d3d3d3" fill-opacity="0.72"/>
<circle cx="647.59" cy="49.08" r="2.2" fill="#f4a386" fill-opacity="0.62"/>
<circle cx="601.04" cy="129.07" r="2.2" fill="#d3d3d3" fill-opacity="0.72"/>
<circle cx="618.62" cy="140.25" r="2.2" fill="#d3d3d3" fill-opacity="0.72"/>
<circle cx="651.06" cy="70.71" r="2.2" fill="#f4a386" fill-opacity="0.62"/>
<circle cx="597.81" cy="139.38" r="2.2" fill="#d3d3d3" fill-opacity="0.72"/>
<circle cx="650.21" cy="35.79" r="2.2" fill="#f4a386" fill-opacity="0.62"/>
<circle cx="550.89" cy="107.61" r="2.2" fill="#d3d3d3" fill-opacity="0.72"/>
<circle cx="583.93" cy="102.44" r="2.2" fill="#f4a386" fill-opacity="0.62"/>
<circle cx="571.15" cy="123.51" r="2.2" fill="#f4a386" fill-opacity="0.62"/>
<circle cx="629.72" cy="32.1" r="2.2" fill="#f4a386" fill-opacity="0.62"/>
<circle cx="638.62" cy="87.75" r="2.2" fill="#f4a386" fill-opacity="0.62"/>
<circle cx="547.9" cy="134.07" r="2.2" fill="#f4a386" fill-opacity="0.62"/>
<circle cx="599.05" cy="98.34" r="2.2" fill="#f4a386" fill-opacity="0.62"/>
<circle cx="567.53" cy="117.11" r="2.2" fill="#f4a386" fill-opacity="0.62"/>
<circle cx="587.12" cy="95" r="2.2" fill="#f4a386" fill-opacity="0.62"/>
<circle cx="627.96" cy="69.32" r="2.2" fill="#f4a386" fill-opacity="0.62"/>
<circle cx="651.85" cy="82.67" r="2.2" fill="#f4a386" fill-opacity="0.62"/>
<circle cx="651.97" cy="58.08" r="2.2" fill="#f4a386" fill-opacity="0.62"/>
<circle cx="637.5" cy="50.47" r="2.2" fill="#f4a386" fill-opacity="0.62"/>
<circle cx="587.44" cy="93.64" r="2.2" fill="#f4a386" fill-opacity="0.62"/>
<circle cx="621.35" cy="102.4" r="2.2" fill="#f4a386" fill-opacity="0.62"/>
<circle cx="583.44" cy="123.41" r="2.2" fill="#f4a386" fill-opacity="0.62"/>
<circle cx="589.02" cy="118.62" r="2.2" fill="#f4a386" fill-opacity="0.62"/>
<circle cx="617.14" cy="75.02" r="2.2" fill="#f4a386" fill-opacity="0.62"/>
<circle cx="603.53" cy="118.25" r="2.2" fill="#f4a386" fill-opacity="0.62"/>
<circle cx="646.35" cy="48.81" r="2.2" fill="#d3d3d3" fill-opacity="0.72"/>
<circle cx="602.53" cy="98.07" r="2.2" fill="#f4a386" fill-opacity="0.62"/>
<circle cx="648.53" cy="61.21" r="2.2" fill="#f4a386" fill-opacity="0.62"/>
<circle cx="602.99" cy="105.58" r="2.2" fill="#f4a386" fill-opacity="0.62"/>
<circle cx="589.69" cy="129.38" r="2.2" fill="#f4a386" fill-opacity="0.62"/>
<circle cx="608.11" cy="110.7" r="2.2" fill="#f4a386" fill-opacity="0.62"/>
<circle cx="594.92" cy="128.62" r="2.2" fill="#f4a386" fill-opacity="0.62"/>
<circle cx="640.64" cy="63.09" r="2.2" fill="#f4a386" fill-opacity="0.62"/>
<circle cx="650.99" cy="51.17" r="2.2" fill="#f4a386" fill-opacity="0.62"/>
<circle cx="538.93" cy="138.79" r="2.2" fill="#d3d3d3" fill-opacity="0.72"/>
<circle cx="573.39" cy="102.99" r="2.2" fill="#f4a386" fill-opacity="0.62"/>
<circle cx="639.24" cy="54.11" r="2.2" fill="#f4a386" fill-opacity="0.62"/>
<circle cx="606.9" cy="100.63" r="2.2" fill="#f4a386" fill-opacity="0.62"/>
<circle cx="607.71" cy="96.88" r="2.2" fill="#d3d3d3" fill-opacity="0.72"/>
<circle cx="580.06" cy="96.31" r="2.2" fill="#f4a386" fill-opacity="0.62"/>
<circle cx="622.87" cy="106.18" r="2.2" fill="#d3d3d3" fill-opacity="0.72"/>
<circle cx="606.56" cy="103.4" r="2.2" fill="#d3d3d3" fill-opacity="0.72"/>
<circle cx="651.13" cy="100.13" r="2.2" fill="#d3d3d3" fill-opacity="0.72"/>
<circle cx="651.44" cy="113.13" r="2.2" fill="#d3d3d3" fill-opacity="0.72"/>
<circle cx="622.39" cy="93.98" r="2.2" fill="#f4a386" fill-opacity="0.62"/>
<circle cx="641.66" cy="34.23" r="2.2" fill="#f4a386" fill-opacity="0.62"/>
<circle cx="610.67" cy="121.19" r="2.2" fill="#f4a386" fill-opacity="0.62"/>
<circle cx="631.26" cy="59.21" r="2.2" fill="#f4a386" fill-opacity="0.62"/>
<circle cx="650.52" cy="36.05" r="2.2" fill="#f4a386" fill-opacity="0.62"/>
<circle cx="575.13" cy="134.47" r="2.2" fill="#d3d3d3" fill-opacity="0.72"/>
<circle cx="648.67" cy="41.07" r="2.2" fill="#d3d3d3" fill-opacity="0.72"/>
<circle cx="644.78" cy="53.42" r="2.2" fill="#f4a386" fill-opacity="0.62"/>
<circle cx="604.52" cy="90" r="2.2" fill="#f4a386" fill-opacity="0.62"/>
<circle cx="650.96" cy="88.22" r="2.2" fill="#f4a386" fill-opacity="0.62"/>
<circle cx="650.93" cy="55.27" r="2.2" fill="#f4a386" fill-opacity="0.62"/>
<circle cx="636.34" cy="43.64" r="2.2" fill="#f4a386" fill-opacity="0.62"/>
<circle cx="643.85" cy="62.13" r="2.2" fill="#f4a386" fill-opacity="0.62"/>
<circle cx="623.06" cy="45.41" r="2.2" fill="#d3d3d3" fill-opacity="0.72"/>
<circle cx="643.61" cy="51.09" r="2.2" fill="#f4a386" fill-opacity="0.62"/>
<circle cx="602.73" cy="126.89" r="2.2" fill="#d3d3d3" fill-opacity="0.72"/>
<circle cx="577.99" cy="119.48" r="2.2" fill="#f4a386" fill-opacity="0.62"/>
<circle cx="576.45" cy="123.32" r="2.2" fill="#f4a386" fill-opacity="0.62"/>
<circle cx="621.66" cy="101.31" r="2.2" fill="#f4a386" fill-opacity="0.62"/>
<circle cx="609.13" cy="97.41" r="2.2" fill="#f4a386" fill-opacity="0.62"/>
<circle cx="650.21" cy="83.47" r="2.2" fill="#f4a386" fill-opacity="0.62"/>
<circle cx="597.45" cy="117.86" r="2.2" fill="#f4a386" fill-opacity="0.62"/>
<circle cx="603.74" cy="93.32" r="2.2" fill="#f4a386" fill-opacity="0.62"/>
<circle cx="649.85" cy="46.05" r="2.2" fill="#f4a386" fill-opacity="0.62"/>
<circle cx="628.62" cy="93.09" r="2.2" fill="#d3d3d3" fill-opacity="0.72"/>
<circle cx="648.72" cy="77.73" r="2.2" fill="#d3d3d3" fill-opacity="0.72"/>
<circle cx="583.72" cy="131.62" r="2.2" fill="#d3d3d3" fill-opacity="0.72"/>
<circle cx="641.64" cy="56.95" r="2.2" fill="#f4a386" fill-opacity="0.62"/>
<circle cx="627.33" cy="118.78" r="2.2" fill="#d3d3d3" fill-opacity="0.72"/>
<circle cx="639.59" cy="75.4" r="2.2" fill="#f4a386" fill-opacity="0.62"/>
<circle cx="641.45" cy="90.4" r="2.2" fill="#d3d3d3" fill-opacity="0.72"/>
<circle cx="648.18" cy="45" r="2.2" fill="#f4a386" fill-opacity="0.62"/>
<circle cx="642.79" cy="98.73" r="2.2" fill="#d3d3d3" fill-opacity="0.72"/>
<circle cx="571.53" cy="122.44" r="2.2" fill="#d3d3d3" fill-opacity="0.72"/>
<circle cx="651.55" cy="87.04" r="2.2" fill="#d3d3d3" fill-opacity="0.72"/>
<circle cx="621.14" cy="55.41" r="2.2" fill="#f4a386" fill-opacity="0.62"/>
<circle cx="628.23" cy="72.85" r="2.2" fill="#f4a386" fill-opacity="0.62"/>
<circle cx="651.35" cy="99.93" r="2.2" fill="#d3d3d3" fill-opacity="0.72"/>
<circle cx="647.22" cy="97.55" r="2.2" fill="#f4a386" fill-opacity="0.62"/>
<circle cx="603.05" cy="95.45" r="2.2" fill="#d3d3d3" fill-opacity="0.72"/>
<circle cx="538.02" cy="137.36" r="2.2" fill="#d3d3d3" fill-opacity="0.72"/>
<circle cx="598.36" cy="86.14" r="2.2" fill="#d3d3d3" fill-opacity="0.72"/>
<circle cx="542.92" cy="64.73" r="2.2" fill="#f4a386" fill-opacity="0.62"/>
<circle cx="589.21" cy="89.35" r="2.2" fill="#f4a386" fill-opacity="0.62"/>
<circle cx="644.92" cy="51.11" r="2.2" fill="#f4a386" fill-opacity="0.62"/>
<circle cx="612.46" cy="127.65" r="2.2" fill="#d3d3d3" fill-opacity="0.72"/>
<circle cx="598.83" cy="127.28" r="2.2" fill="#d3d3d3" fill-opacity="0.72"/>
<circle cx="623.54" cy="64.86" r="2.2" fill="#f4a386" fill-opacity="0.62"/>
<circle cx="603.79" cy="96.19" r="2.2" fill="#f4a386" fill-opacity="0.62"/>
<circle cx="622.48" cy="75.44" r="2.2" fill="#f4a386" fill-opacity="0.62"/>
<circle cx="556.38" cy="113.09" r="2.2" fill="#f4a386" fill-opacity="0.62"/>
<circle cx="589.79" cy="71.19" r="2.2" fill="#f4a386" fill-opacity="0.62"/>
<circle cx="598.19" cy="100.13" r="2.2" fill="#f4a386" fill-opacity="0.62"/>
<circle cx="613.92" cy="118.24" r="2.2" fill="#d3d3d3" fill-opacity="0.72"/>
<circle cx="651.13" cy="41.74" r="2.2" fill="#f4a386" fill-opacity="0.62"/>
<circle cx="637.04" cy="46.92" r="2.2" fill="#f4a386" fill-opacity="0.62"/>
<circle cx="608.64" cy="117.83" r="2.2" fill="#d3d3d3" fill-opacity="0.72"/>
<circle cx="651.66" cy="83.88" r="2.2" fill="#f4a386" fill-opacity="0.62"/>
<circle cx="608.41" cy="96.49" r="2.2" fill="#d3d3d3" fill-opacity="0.72"/>
<circle cx="651.59" cy="105.49" r="2.2" fill="#f4a386" fill-opacity="0.62"/>
<circle cx="564.76" cy="131.61" r="2.2" fill="#f4a386" fill-opacity="0.62"/>
<circle cx="548.13" cy="134.75" r="2.2" fill="#f4a386" fill-opacity="0.62"/>
<circle cx="643.59" cy="68.44" r="2.2" fill="#f4a386" fill-opacity="0.62"/>
<circle cx="650.76" cy="52.78" r="2.2" fill="#f4a386" fill-opacity="0.62"/>
<circle cx="611.87" cy="106.44" r="2.2" fill="#f4a386" fill-opacity="0.62"/>
<circle cx="647.92" cy="44.16" r="2.2" fill="#f4a386" fill-opacity="0.62"/>
<circle cx="578.93" cy="124.06" r="2.2" fill="#f4a386" fill-opacity="0.62"/>
<circle cx="629.81" cy="83.85" r="2.2" fill="#f4a386" fill-opacity="0.62"/>
<circle cx="638.23" cy="42.94" r="2.2" fill="#f4a386" fill-opacity="0.62"/>
<circle cx="648.71" cy="48.49" r="2.2" fill="#f4a386" fill-opacity="0.62"/>
<circle cx="618.97" cy="98.74" r="2.2" fill="#f4a386" fill-opacity="0.62"/>
<circle cx="571.44" cy="126.03" r="2.2" fill="#f4a386" fill-opacity="0.62"/>
<circle cx="557.96" cy="133.94" r="2.2" fill="#d3d3d3" fill-opacity="0.72"/>
<circle cx="652.04" cy="73.73" r="2.2" fill="#f4a386" fill-opacity="0.62"/>
<circle cx="572.01" cy="109.65" r="2.2" fill="#f4a386" fill-opacity="0.62"/>
<circle cx="650.72" cy="43.85" r="2.2" fill="#f4a386" fill-opacity="0.62"/>
<circle cx="550.86" cy="139.74" r="2.2" fill="#d3d3d3" fill-opacity="0.72"/>
<circle cx="570.47" cy="142.54" r="2.2" fill="#f4a386" fill-opacity="0.62"/>
<circle cx="624.96" cy="129.56" r="2.2" fill="#d3d3d3" fill-opacity="0.72"/>
<circle cx="636.97" cy="67.45" r="2.2" fill="#f4a386" fill-opacity="0.62"/>
<circle cx="614.93" cy="96.18" r="2.2" fill="#f4a386" fill-opacity="0.62"/>
<circle cx="627.83" cy="111.31" r="2.2" fill="#f4a386" fill-opacity="0.62"/>
<circle cx="650.21" cy="82.4" r="2.2" fill="#d3d3d3" fill-opacity="0.72"/>
<circle cx="645.92" cy="118.63" r="2.2" fill="#d3d3d3" fill-opacity="0.72"/>
<circle cx="606.53" cy="122.78" r="2.2" fill="#d3d3d3" fill-opacity="0.72"/>
<circle cx="548.67" cy="126.21" r="2.2" fill="#d3d3d3" fill-opacity="0.72"/>
<circle cx="607.73" cy="125.16" r="2.2" fill="#f4a386" fill-opacity="0.62"/>
<circle cx="593.55" cy="121.27" r="2.2" fill="#d3d3d3" fill-opacity="0.72"/>
<circle cx="652.07" cy="40.69" r="2.2" fill="#f4a386" fill-opacity="0.62"/>
<circle cx="651.55" cy="65.25" r="2.2" fill="#f4a386" fill-opacity="0.62"/>
<circle cx="543.62" cy="128.99" r="2.2" fill="#f4a386" fill-opacity="0.62"/>
<circle cx="643.5" cy="62.65" r="2.2" fill="#f4a386" fill-opacity="0.62"/>
<circle cx="645.56" cy="36.23" r="2.2" fill="#d3d3d3" fill-opacity="0.72"/>
<circle cx="612.57" cy="99.32" r="2.2" fill="#d3d3d3" fill-opacity="0.72"/>
<circle cx="650.88" cy="69.08" r="2.2" fill="#f4a386" fill-opacity="0.62"/>
<circle cx="636.48" cy="57.69" r="2.2" fill="#f4a386" fill-opacity="0.62"/>
<circle cx="648.06" cy="53.04" r="2.2" fill="#f4a386" fill-opacity="0.62"/>
<circle cx="602.23" cy="98.46" r="2.2" fill="#3bb697" fill-opacity="0.72"/>
<circle cx="614.09" cy="85.58" r="2.2" fill="#f4a386" fill-opacity="0.62"/>
<circle cx="601.73" cy="78.22" r="2.2" fill="#f4a386" fill-opacity="0.62"/>
<circle cx="574.08" cy="110.63" r="2.2" fill="#d3d3d3" fill-opacity="0.72"/>
<circle cx="603.6" cy="80.25" r="2.2" fill="#f4a386" fill-opacity="0.62"/>
<circle cx="645.27" cy="54.04" r="2.2" fill="#f4a386" fill-opacity="0.62"/>
<circle cx="649.75" cy="38.39" r="2.2" fill="#f4a386" fill-opacity="0.62"/>
<circle cx="604.85" cy="90.67" r="2.2" fill="#f4a386" fill-opacity="0.62"/>
<circle cx="649.94" cy="68.77" r="2.2" fill="#f4a386" fill-opacity="0.62"/>
<circle cx="650.32" cy="44.04" r="2.2" fill="#f4a386" fill-opacity="0.62"/>
<circle cx="651.56" cy="70.79" r="2.2" fill="#f4a386" fill-opacity="0.62"/>
<circle cx="586.68" cy="118.66" r="2.2" fill="#d3d3d3" fill-opacity="0.72"/>
<circle cx="559.49" cy="124.32" r="2.2" fill="#d3d3d3" fill-opacity="0.72"/>
<circle cx="581.24" cy="130.92" r="2.2" fill="#f4a386" fill-opacity="0.62"/>
<circle cx="608.39" cy="78.38" r="2.2" fill="#f4a386" fill-opacity="0.62"/>
<circle cx="556.13" cy="122.6" r="2.2" fill="#d3d3d3" fill-opacity="0.72"/>
<circle cx="544.73" cy="129.62" r="2.2" fill="#f4a386" fill-opacity="0.62"/>
<circle cx="632.06" cy="106.2" r="2.2" fill="#f4a386" fill-opacity="0.62"/>
<circle cx="637.05" cy="62.03" r="2.2" fill="#f4a386" fill-opacity="0.62"/>
<circle cx="583.55" cy="110.7" r="2.2" fill="#f4a386" fill-opacity="0.62"/>
<circle cx="649" cy="35.59" r="2.2" fill="#d3d3d3" fill-opacity="0.72"/>
<circle cx="646.52" cy="41.49" r="2.2" fill="#f4a386" fill-opacity="0.62"/>
<circle cx="642.05" cy="40.62" r="2.2" fill="#f4a386" fill-opacity="0.62"/>
<circle cx="631.77" cy="106.87" r="2.2" fill="#f4a386" fill-opacity="0.62"/>
<circle cx="597.03" cy="83.46" r="2.2" fill="#f4a386" fill-opacity="0.62"/>
<circle cx="632.44" cy="111.69" r="2.2" fill="#f4a386" fill-opacity="0.62"/>
<circle cx="589.78" cy="128.23" r="2.2" fill="#f4a386" fill-opacity="0.62"/>
<circle cx="597.87" cy="127.32" r="2.2" fill="#d3d3d3" fill-opacity="0.72"/>
<circle cx="634.33" cy="53.09" r="2.2" fill="#f4a386" fill-opacity="0.62"/>
<circle cx="638.44" cy="107.62" r="2.2" fill="#d3d3d3" fill-opacity="0.72"/>
<circle cx="583.03" cy="94.37" r="2.2" fill="#d3d3d3" fill-opacity="0.72"/>
<circle cx="632.4" cy="91.02" r="2.2" fill="#d3d3d3" fill-opacity="0.72"/>
<circle cx="555.31" cy="117.11" r="2.2" fill="#d3d3d3" fill-opacity="0.72"/>
<circle cx="647.89" cy="34.96" r="2.2" fill="#f4a386" fill-opacity="0.62"/>
<circle cx="650.17" cy="91.43" r="2.2" fill="#f4a386" fill-opacity="0.62"/>
<circle cx="592.03" cy="114.4" r="2.2" fill="#f4a386" fill-opacity="0.62"/>
<circle cx="647.92" cy="79.68" r="2.2" fill="#f4a386" fill-opacity="0.62"/>
<circle cx="579.56" cy="132.95" r="2.2" fill="#d3d3d3" fill-opacity="0.72"/>
<circle cx="595.07" cy="97.8" r="2.2" fill="#f4a386" fill-opacity="0.62"/>
<circle cx="612.03" cy="103.64" r="2.2" fill="#f4a386" fill-opacity="0.62"/>
<circle cx="577.68" cy="104.38" r="2.2" fill="#d3d3d3" fill-opacity="0.72"/>
<circle cx="649.03" cy="86.12" r="2.2" fill="#d3d3d3" fill-opacity="0.72"/>
<circle cx="595.98" cy="106.11" r="2.2" fill="#d3d3d3" fill-opacity="0.72"/>
<circle cx="607.58" cy="99.17" r="2.2" fill="#d3d3d3" fill-opacity="0.72"/>
<circle cx="532.12" cy="127.02" r="2.2" fill="#d3d3d3" fill-opacity="0.72"/>
<circle cx="604.65" cy="105.26" r="2.2" fill="#f4a386" fill-opacity="0.62"/>
<circle cx="598.46" cy="111.9" r="2.2" fill="#d3d3d3" fill-opacity="0.72"/>
<circle cx="555.11" cy="112.75" r="2.2" fill="#f4a386" fill-opacity="0.62"/>
<circle cx="650.94" cy="52.05" r="2.2" fill="#f4a386" fill-opacity="0.62"/>
<circle cx="640.78" cy="40.83" r="2.2" fill="#d3d3d3" fill-opacity="0.72"/>
<circle cx="560.6" cy="128.16" r="2.2" fill="#d3d3d3" fill-opacity="0.72"/>
<circle cx="649.01" cy="101.27" r="2.2" fill="#d3d3d3" fill-opacity="0.72"/>
<circle cx="570.3" cy="128.93" r="2.2" fill="#f4a386" fill-opacity="0.62"/>
<circle cx="555.08" cy="127.28" r="2.2" fill="#d3d3d3" fill-opacity="0.72"/>
<circle cx="589.61" cy="114.73" r="2.2" fill="#d3d3d3" fill-opacity="0.72"/>
<circle cx="561.86" cy="118.52" r="2.2" fill="#f4a386" fill-opacity="0.62"/>
<circle cx="618.34" cy="95.82" r="2.2" fill="#f4a386" fill-opacity="0.62"/>
<circle cx="649.15" cy="45.77" r="2.2" fill="#f4a386" fill-opacity="0.62"/>
<circle cx="569.72" cy="117.72" r="2.2" fill="#f4a386" fill-opacity="0.62"/>
<circle cx="548.16" cy="112.57" r="2.2" fill="#f4a386" fill-opacity="0.62"/>
<circle cx="600.38" cy="136.75" r="2.2" fill="#f4a386" fill-opacity="0.62"/>
<circle cx="579.87" cy="119.2" r="2.2" fill="#f4a386" fill-opacity="0.62"/>
<circle cx="543.9" cy="128.09" r="2.2" fill="#f4a386" fill-opacity="0.62"/>
<circle cx="591.32" cy="127.03" r="2.2" fill="#d3d3d3" fill-opacity="0.72"/>
<circle cx="597.4" cy="119.6" r="2.2" fill="#f4a386" fill-opacity="0.62"/>
<circle cx="647.33" cy="61.54" r="2.2" fill="#f4a386" fill-opacity="0.62"/>
<circle cx="637.44" cy="87.78" r="2.2" fill="#d3d3d3" fill-opacity="0.72"/>
<circle cx="562.93" cy="112.77" r="2.2" fill="#d3d3d3" fill-opacity="0.72"/>
<circle cx="643.63" cy="53.67" r="2.2" fill="#f4a386" fill-opacity="0.62"/>
<circle cx="583.8" cy="121.74" r="2.2" fill="#f4a386" fill-opacity="0.62"/>
<circle cx="604.22" cy="93.32" r="2.2" fill="#f4a386" fill-opacity="0.62"/>
<circle cx="584.85" cy="87.85" r="2.2" fill="#d3d3d3" fill-opacity="0.72"/>
<circle cx="650.73" cy="100.78" r="2.2" fill="#d3d3d3" fill-opacity="0.72"/>
<circle cx="646.02" cy="42.38" r="2.2" fill="#f4a386" fill-opacity="0.62"/>
<circle cx="563.39" cy="121.01" r="2.2" fill="#d3d3d3" fill-opacity="0.72"/>
<circle cx="629.25" cy="72.75" r="2.2" fill="#f4a386" fill-opacity="0.62"/>
<circle cx="651.27" cy="70.46" r="2.2" fill="#f4a386" fill-opacity="0.62"/>
<circle cx="575.92" cy="125.77" r="2.2" fill="#f4a386" fill-opacity="0.62"/>
<circle cx="594.99" cy="99.19" r="2.2" fill="#f4a386" fill-opacity="0.62"/>
<circle cx="651.84" cy="44.27" r="2.2" fill="#f4a386" fill-opacity="0.62"/>
<circle cx="598.88" cy="145.18" r="2.2" fill="#d3d3d3" fill-opacity="0.72"/>
<circle cx="600.37" cy="78.34" r="2.2" fill="#f4a386" fill-opacity="0.62"/>
<circle cx="630.07" cy="55.2" r="2.2" fill="#f4a386" fill-opacity="0.62"/>
<circle cx="581.25" cy="113.42" r="2.2" fill="#f4a386" fill-opacity="0.62"/>
<circle cx="595.36" cy="96.78" r="2.2" fill="#f4a386" fill-opacity="0.62"/>
<circle cx="598.73" cy="89.64" r="2.2" fill="#f4a386" fill-opacity="0.62"/>
<circle cx="606.87" cy="80.76" r="2.2" fill="#f4a386" fill-opacity="0.62"/>
<circle cx="648.37" cy="75.36" r="2.2" fill="#d3d3d3" fill-opacity="0.72"/>
<circle cx="594.98" cy="128.12" r="2.2" fill="#d3d3d3" fill-opacity="0.72"/>
<circle cx="574.19" cy="122.89" r="2.2" fill="#f4a386" fill-opacity="0.62"/>
<circle cx="589.82" cy="101.52" r="2.2" fill="#f4a386" fill-opacity="0.62"/>
<circle cx="585.94" cy="102.18" r="2.2" fill="#d3d3d3" fill-opacity="0.72"/>
<circle cx="550.79" cy="129.66" r="2.2" fill="#f4a386" fill-opacity="0.62"/>
<circle cx="601.17" cy="144.61" r="2.2" fill="#f4a386" fill-opacity="0.62"/>
<circle cx="629.31" cy="114.81" r="2.2" fill="#d3d3d3" fill-opacity="0.72"/>
<circle cx="607.93" cy="97.42" r="2.2" fill="#d3d3d3" fill-opacity="0.72"/>
<circle cx="613.32" cy="72.42" r="2.2" fill="#d3d3d3" fill-opacity="0.72"/>
<circle cx="651.32" cy="74.79" r="2.2" fill="#f4a386" fill-opacity="0.62"/>
<circle cx="651.75" cy="61.84" r="2.2" fill="#f4a386" fill-opacity="0.62"/>
<circle cx="588.25" cy="109.78" r="2.2" fill="#f4a386" fill-opacity="0.62"/>
<circle cx="573.26" cy="120.75" r="2.2" fill="#d3d3d3" fill-opacity="0.72"/>
<circle cx="649.9" cy="71.37" r="2.2" fill="#d3d3d3" fill-opacity="0.72"/>
<circle cx="564.01" cy="138.08" r="2.2" fill="#f4a386" fill-opacity="0.62"/>
<circle cx="577.66" cy="115.84" r="2.2" fill="#f4a386" fill-opacity="0.62"/>
<circle cx="649.68" cy="50.39" r="2.2" fill="#f4a386" fill-opacity="0.62"/>
<circle cx="612.94" cy="107.72" r="2.2" fill="#f4a386" fill-opacity="0.62"/>
<circle cx="557.35" cy="117.18" r="2.2" fill="#f4a386" fill-opacity="0.62"/>
<circle cx="561.6" cy="120.16" r="2.2" fill="#f4a386" fill-opacity="0.62"/>
<circle cx="650.19" cy="62.05" r="2.2" fill="#f4a386" fill-opacity="0.62"/>
<circle cx="574.48" cy="113.77" r="2.2" fill="#f4a386" fill-opacity="0.62"/>
<circle cx="575.42" cy="111.66" r="2.2" fill="#f4a386" fill-opacity="0.62"/>
<circle cx="590.9" cy="109.22" r="2.2" fill="#f4a386" fill-opacity="0.62"/>
<circle cx="562.5" cy="119.73" r="2.2" fill="#f4a386" fill-opacity="0.62"/>
<circle cx="614.92" cy="70.51" r="2.2" fill="#f4a386" fill-opacity="0.62"/>
<circle cx="632.45" cy="35.65" r="2.2" fill="#3bb697" fill-opacity="0.72"/>
<circle cx="597.54" cy="127.48" r="2.2" fill="#f4a386" fill-opacity="0.62"/>
<circle cx="540.98" cy="131.9" r="2.2" fill="#f4a386" fill-opacity="0.62"/>
<circle cx="649.77" cy="70.93" r="2.2" fill="#d3d3d3" fill-opacity="0.72"/>
<circle cx="581.39" cy="102.38" r="2.2" fill="#f4a386" fill-opacity="0.62"/>
<circle cx="597.99" cy="88.52" r="2.2" fill="#f4a386" fill-opacity="0.62"/>
<circle cx="651.21" cy="33.72" r="2.2" fill="#f4a386" fill-opacity="0.62"/>
<circle cx="621.51" cy="107.91" r="2.2" fill="#f4a386" fill-opacity="0.62"/>
<circle cx="597.9" cy="120.95" r="2.2" fill="#d3d3d3" fill-opacity="0.72"/>
<circle cx="594.53" cy="128.81" r="2.2" fill="#f4a386" fill-opacity="0.62"/>
<circle cx="545.15" cy="139.09" r="2.2" fill="#f4a386" fill-opacity="0.62"/>
<circle cx="571.73" cy="123.46" r="2.2" fill="#f4a386" fill-opacity="0.62"/>
<circle cx="626.53" cy="117.58" r="2.2" fill="#d3d3d3" fill-opacity="0.72"/>
<circle cx="539.6" cy="140.47" r="2.2" fill="#d3d3d3" fill-opacity="0.72"/>
<circle cx="592.6" cy="82.23" r="2.2" fill="#3bb697" fill-opacity="0.72"/>
<circle cx="612.84" cy="89.12" r="2.2" fill="#d3d3d3" fill-opacity="0.72"/>
<circle cx="571.88" cy="117.33" r="2.2" fill="#d3d3d3" fill-opacity="0.72"/>
<circle cx="651.75" cy="62.68" r="2.2" fill="#f4a386" fill-opacity="0.62"/>
<circle cx="595.12" cy="87.19" r="2.2" fill="#f4a386" fill-opacity="0.62"/>
<circle cx="613.47" cy="116.77" r="2.2" fill="#d3d3d3" fill-opacity="0.72"/>
<circle cx="650.2" cy="82.3" r="2.2" fill="#d3d3d3" fill-opacity="0.72"/>
<circle cx="632.76" cy="75.46" r="2.2" fill="#f4a386" fill-opacity="0.62"/>
<circle cx="566.55" cy="124.37" r="2.2" fill="#f4a386" fill-opacity="0.62"/>
<circle cx="648.17" cy="37.73" r="2.2" fill="#f4a386" fill-opacity="0.62"/>
<circle cx="586.22" cy="132.08" r="2.2" fill="#f4a386" fill-opacity="0.62"/>
<circle cx="619.4" cy="85.66" r="2.2" fill="#f4a386" fill-opacity="0.62"/>
<circle cx="586.21" cy="130.74" r="2.2" fill="#f4a386" fill-opacity="0.62"/>
<circle cx="558.21" cy="128.43" r="2.2" fill="#f4a386" fill-opacity="0.62"/>
<circle cx="644.17" cy="99.03" r="2.2" fill="#d3d3d3" fill-opacity="0.72"/>
<circle cx="600.66" cy="116.53" r="2.2" fill="#f4a386" fill-opacity="0.62"/>
<circle cx="589" cy="110.5" r="2.2" fill="#d3d3d3" fill-opacity="0.72"/>
<circle cx="604.14" cy="100.54" r="2.2" fill="#d3d3d3" fill-opacity="0.72"/>
<circle cx="542.4" cy="119.56" r="2.2" fill="#f4a386" fill-opacity="0.62"/>
<circle cx="602.1" cy="85.77" r="2.2" fill="#f4a386" fill-opacity="0.62"/>
<circle cx="607.77" cy="123.59" r="2.2" fill="#f4a386" fill-opacity="0.62"/>
<circle cx="580.87" cy="104.04" r="2.2" fill="#3bb697" fill-opacity="0.72"/>
<circle cx="598.74" cy="113.98" r="2.2" fill="#d3d3d3" fill-opacity="0.72"/>
<circle cx="584.45" cy="121.89" r="2.2" fill="#f4a386" fill-opacity="0.62"/>
<circle cx="647.94" cy="80.84" r="2.2" fill="#3bb697" fill-opacity="0.72"/>
<circle cx="555.19" cy="141.74" r="2.2" fill="#3bb697" fill-opacity="0.72"/>
<circle cx="553.51" cy="46.36" r="2.2" fill="#3bb697" fill-opacity="0.72"/>
<circle cx="597.48" cy="116.91" r="2.2" fill="#3bb697" fill-opacity="0.72"/>
<circle cx="649.12" cy="97.45" r="2.2" fill="#3bb697" fill-opacity="0.72"/>
<circle cx="613.4" cy="109.29" r="2.2" fill="#3bb697" fill-opacity="0.72"/>
<circle cx="609.32" cy="72.33" r="2.2" fill="#3bb697" fill-opacity="0.72"/>
<circle cx="645.68" cy="34.3" r="2.2" fill="#3bb697" fill-opacity="0.72"/>
<circle cx="554.47" cy="132.84" r="2.2" fill="#3bb697" fill-opacity="0.72"/>
<circle cx="621.07" cy="86.45" r="2.2" fill="#3bb697" fill-opacity="0.72"/>
<circle cx="606.07" cy="72.71" r="2.2" fill="#3bb697" fill-opacity="0.72"/>
<circle cx="565.1" cy="117.28" r="2.2" fill="#3bb697" fill-opacity="0.72"/>
<circle cx="571.39" cy="123.15" r="2.2" fill="#3bb697" fill-opacity="0.72"/>
<circle cx="560.35" cy="122.48" r="2.2" fill="#3bb697" fill-opacity="0.72"/>
<circle cx="545.9" cy="116.33" r="2.2" fill="#3bb697" fill-opacity="0.72"/>
<circle cx="637.56" cy="59.76" r="2.2" fill="#3bb697" fill-opacity="0.72"/>
<circle cx="628.77" cy="96.28" r="2.2" fill="#3bb697" fill-opacity="0.72"/>
<circle cx="559.5" cy="114.52" r="2.2" fill="#3bb697" fill-opacity="0.72"/>
<circle cx="579.03" cy="126.2" r="2.2" fill="#3bb697" fill-opacity="0.72"/>
<circle cx="627.64" cy="117.63" r="2.2" fill="#3bb697" fill-opacity="0.72"/>
<circle cx="565.76" cy="119.66" r="2.2" fill="#3bb697" fill-opacity="0.72"/>
<circle cx="566.89" cy="117.87" r="2.2" fill="#3bb697" fill-opacity="0.72"/>
<circle cx="635" cy="52.69" r="2.2" fill="#3bb697" fill-opacity="0.72"/>
<circle cx="563.22" cy="136.13" r="2.2" fill="#3bb697" fill-opacity="0.72"/>
<circle cx="595.19" cy="102.79" r="2.2" fill="#3bb697" fill-opacity="0.72"/>
<circle cx="588.23" cy="97.78" r="2.2" fill="#3bb697" fill-opacity="0.72"/>
<circle cx="630.87" cy="38.78" r="2.2" fill="#3bb697" fill-opacity="0.72"/>
<circle cx="647.8" cy="49.95" r="2.2" fill="#3bb697" fill-opacity="0.72"/>
</g>
<line x1="524.8" y1="62.5" x2="658" y2="62.5" stroke="#222" stroke-width="0.9" stroke-dasharray="3,2"/>
<line x1="626.5" y1="25" x2="626.5" y2="153.3" stroke="#222" stroke-width="0.9" stroke-dasharray="3,2"/>
<line x1="524.5" y1="25.4" x2="524.5" y2="153.8" stroke="#000" stroke-width="1.1" />
<line x1="524.3" y1="153.5" x2="658.4" y2="153.5" stroke="#000" stroke-width="1.1" />
<line x1="521.5" y1="124.5" x2="524.8" y2="124.5" stroke="#000" stroke-width="1.1" />
<text x="521.3" y="128.2" font-size="10.5" text-anchor="end" >40</text>
<line x1="521.5" y1="93.5" x2="524.8" y2="93.5" stroke="#000" stroke-width="1.1" />
<text x="521.3" y="97.26" font-size="10.5" text-anchor="end" >60</text>
<line x1="521.5" y1="62.5" x2="524.8" y2="62.5" stroke="#000" stroke-width="1.1" />
<text x="521.3" y="66.32" font-size="10.5" text-anchor="end" >80</text>
<line x1="521.5" y1="31.5" x2="524.8" y2="31.5" stroke="#000" stroke-width="1.1" />
<text x="521.3" y="35.38" font-size="10.5" text-anchor="end" >100</text>
<line x1="556.5" y1="153.3" x2="556.5" y2="156.3" stroke="#000" stroke-width="1.1" />
<text x="554.3" y="165.5" font-size="10.6" text-anchor="middle" >0.25</text>
<line x1="588.5" y1="153.3" x2="588.5" y2="156.3" stroke="#000" stroke-width="1.1" />
<text x="586.3" y="165.5" font-size="10.6" text-anchor="middle" >0.50</text>
<line x1="620.5" y1="153.3" x2="620.5" y2="156.3" stroke="#000" stroke-width="1.1" />
<text x="618.3" y="165.5" font-size="10.6" text-anchor="middle" >0.75</text>
<line x1="652.5" y1="153.3" x2="652.5" y2="156.3" stroke="#000" stroke-width="1.1" />
<text x="650.3" y="165.5" font-size="10.6" text-anchor="middle" >1.00</text>
<text x="599.9" y="176.5" font-size="11" text-anchor="middle" >Coverage</text>
<text transform="translate(502.8,93.2) rotate(-90)" font-size="11" text-anchor="middle" >Identity(%)</text>
<path d="M612,15.4 C613.33,15.12 617.67,14.22 620,13.7 C622.33,13.18 624,12.78 626,12.3 C628,11.82 630,11.38 632,10.8 C634,10.22 636.17,9.67 638,8.8 C639.83,7.93 641.5,6.63 643,5.6 C644.5,4.57 645.83,3.33 647,2.6 C648.17,1.87 649.02,1.32 650,1.2 C650.98,1.08 652.42,1.78 652.9,1.9 L652.9,23.8 L612,23.8 Z" fill="#d5bfb7" stroke="none" stroke-width="1" />
<path d="M530.5,21.2 C532.92,20.77 540.08,19.53 545,18.6 C549.92,17.67 555,16.52 560,15.6 C565,14.68 570.5,13.72 575,13.1 C579.5,12.48 583.33,12.05 587,11.9 C590.67,11.75 594,11.9 597,12.2 C600,12.5 602.5,13.18 605,13.7 C607.5,14.22 609.5,14.82 612,15.3 C614.5,15.78 615.33,16.23 620,16.6 C624.67,16.97 634.52,17.35 640,17.5 C645.48,17.65 650.75,17.5 652.9,17.5 L652.9,23.8 L530.5,23.8 Z" fill="#40c0a0" stroke="none" stroke-width="1" />
<path d="M530.5,23.6 C532.92,23.38 540.08,22.87 545,22.3 C549.92,21.73 555,20.88 560,20.2 C565,19.52 570,18.8 575,18.2 C580,17.6 585,16.92 590,16.6 C595,16.28 600,16.43 605,16.3 C610,16.17 615,15.97 620,15.8 C625,15.63 630.83,15.4 635,15.3 C639.17,15.2 642.02,15.1 645,15.2 C647.98,15.3 651.58,15.78 652.9,15.9 L652.9,23.8 L530.5,23.8 Z" fill="#9dbcb0" stroke="none" stroke-width="1" />
<path d="M530.5,23.6 C532.92,23.38 540.08,22.87 545,22.3 C549.92,21.73 555,20.88 560,20.2 C565,19.52 570,18.8 575,18.2 C580,17.6 585,16.92 590,16.6 C595,16.28 602.5,16.35 605,16.3" fill="none" stroke="#000" stroke-width="0.9" />
<path d="M530.5,21.2 C532.92,20.77 540.08,19.53 545,18.6 C549.92,17.67 555,16.52 560,15.6 C565,14.68 570.5,13.72 575,13.1 C579.5,12.48 583.33,12.05 587,11.9 C590.67,11.75 594,11.9 597,12.2 C600,12.5 602.5,13.18 605,13.7 C607.5,14.22 610.83,15.03 612,15.3" fill="none" stroke="#000" stroke-width="1.1" />
<path d="M605,16.3 C606.17,16.15 609.5,15.83 612,15.4 C614.5,14.97 617.67,14.22 620,13.7 C622.33,13.18 624,12.78 626,12.3 C628,11.82 630,11.38 632,10.8 C634,10.22 636.17,9.67 638,8.8 C639.83,7.93 641.5,6.63 643,5.6 C644.5,4.57 645.83,3.33 647,2.6 C648.17,1.87 649.02,1.32 650,1.2 C650.98,1.08 652.42,1.78 652.9,1.9" fill="none" stroke="#000" stroke-width="1.1" />
<path d="M675.3,31 C675.85,31.83 678.28,33.88 678.6,36 C678.92,38.12 677.98,41.13 677.2,43.7 C676.42,46.27 674.83,49.02 673.9,51.4 C672.97,53.78 672.17,55.8 671.6,58 C671.03,60.2 670.77,62.4 670.5,64.6 C670.23,66.8 669.93,69.2 670,71.2 C670.07,73.2 670.75,75.7 670.9,76.6 L660.2,76.6 L660.2,31 Z" fill="#f6ad95" stroke="none" stroke-width="1" />
<path d="M671.5,31 C671.95,31.65 673.98,33.15 674.2,34.9 C674.42,36.65 673.57,39.12 672.8,41.5 C672.03,43.88 670.43,46.63 669.6,49.2 C668.77,51.77 668.05,54.52 667.8,56.9 C667.55,59.28 667.85,61.4 668.1,63.5 C668.35,65.6 668.83,67.32 669.3,69.5 C669.77,71.68 670.63,75.42 670.9,76.6 L660.2,76.6 L660.2,31 Z" fill="#d5bfb7" stroke="none" stroke-width="1" />
<path d="M667.4,31 C667.4,32.5 667.4,37.5 667.4,40 C667.4,42.5 667.38,44.17 667.4,46 C667.42,47.83 667.47,49.18 667.5,51 C667.53,52.82 667.5,54.82 667.6,56.9 C667.7,58.98 667.82,61.4 668.1,63.5 C668.38,65.6 668.83,67.32 669.3,69.5 C669.77,71.68 670.63,75.42 670.9,76.6 C671.22,77.88 671.92,82.02 672.8,84.3 C673.68,86.58 674.78,87.6 676.2,90.3 C677.62,93 679.95,96.88 681.3,100.5 C682.65,104.12 684.08,108.8 684.3,112 C684.52,115.2 683.85,116.92 682.6,119.7 C681.35,122.48 679.05,125.7 676.8,128.7 C674.55,131.7 671.57,134.6 669.1,137.7 C666.63,140.8 663.18,145.7 662,147.3 L660.2,147.3 L660.2,31 Z" fill="#9dbcb0" stroke="none" stroke-width="1" />
<path d="M680.2,100.5 C680.7,102.42 682.98,108.8 683.2,112 C683.42,115.2 682.75,116.92 681.5,119.7 C680.25,122.48 676.67,127.2 675.7,128.7" fill="none" stroke="#3fbf9f" stroke-width="1" />
<path d="M671.5,31 C671.95,31.65 673.98,33.15 674.2,34.9 C674.42,36.65 673.57,39.12 672.8,41.5 C672.03,43.88 670.43,46.63 669.6,49.2 C668.77,51.77 668.05,54.52 667.8,56.9 C667.55,59.28 667.85,61.4 668.1,63.5 C668.35,65.6 668.83,67.32 669.3,69.5 C669.77,71.68 670.32,74.13 670.9,76.6 C671.48,79.07 672.48,83.02 672.8,84.3" fill="none" stroke="#000" stroke-width="1.1" />
<path d="M675.3,31 C675.85,31.83 678.28,33.88 678.6,36 C678.92,38.12 677.98,41.13 677.2,43.7 C676.42,46.27 674.83,49.02 673.9,51.4 C672.97,53.78 672.17,55.8 671.6,58 C671.03,60.2 670.77,62.4 670.5,64.6 C670.23,66.8 669.93,69.2 670,71.2 C670.07,73.2 670.75,75.7 670.9,76.6" fill="none" stroke="#000" stroke-width="1.1" />
<path d="M670.9,76.6 C671.22,77.88 671.92,82.02 672.8,84.3 C673.68,86.58 674.78,87.6 676.2,90.3 C677.62,93 679.95,96.88 681.3,100.5 C682.65,104.12 684.08,108.8 684.3,112 C684.52,115.2 683.85,116.92 682.6,119.7 C681.35,122.48 679.05,125.7 676.8,128.7 C674.55,131.7 671.57,134.6 669.1,137.7 C666.63,140.8 663.18,145.7 662,147.3" fill="none" stroke="#000" stroke-width="1.1" />
<text x="68.2" y="219.5" font-size="10" text-anchor="middle" >Total viral contigs</text>
<text x="69.6" y="231.1" font-size="10" text-anchor="middle" ><tspan font-style="italic">N</tspan> = 1595</text>
<path d="M67.4,270.9 L70.45,306.47 A35.7,35.7 0 0 1 60.89,306 Z" fill="#119f83" stroke="#fff" stroke-width="1.5" />
<path d="M67.4,270.9 L67.4,235.2 A35.7,35.7 0 0 1 70.45,306.47 Z" fill="#f29c7e" stroke="#fff" stroke-width="1.5" />
<path d="M67.4,270.9 L60.89,306 A35.7,35.7 0 0 1 67.4,235.2 Z" fill="#c4c4c4" stroke="#fff" stroke-width="1.5" />
<text x="52.2" y="273.5" font-size="10" text-anchor="middle" >47%</text>
<text x="82.6" y="273.5" font-size="10" text-anchor="middle" >49%</text>
<text x="67.6" y="317.6" font-size="10" text-anchor="middle" >4%</text>
<text x="44.9" y="332.9" font-size="9.6" font-weight="bold" >Completeness</text>
<rect x="118.1" y="326.9" width="6.7" height="6.7" fill="#f29c7e" />
<text x="128.8" y="332.9" font-size="9.5" >Complete</text>
<rect x="181.9" y="326.8" width="6.7" height="6.7" fill="#119f83" />
<text x="192.8" y="332.9" font-size="9.5" >Near-complete</text>
<rect x="266.8" y="326.8" width="6.7" height="6.7" fill="#c9c9c9" />
<text x="277.4" y="332.9" font-size="9.5" >Fragment</text>
<text x="226.2" y="245" font-size="10" text-anchor="end" >Complete (<tspan font-style="italic">n</tspan> = 776)</text>
<line x1="226.6" y1="241.5" x2="229.9" y2="241.5" stroke="#000" stroke-width="1.1" />
<text x="226.2" y="265.7" font-size="10" text-anchor="end" >Near−complete (<tspan font-style="italic">n</tspan> = 68)</text>
<line x1="226.6" y1="262.5" x2="229.9" y2="262.5" stroke="#000" stroke-width="1.1" />
<text x="226.2" y="285.8" font-size="10" text-anchor="end" >Fragment (<tspan font-style="italic">n</tspan> = 751)</text>
<line x1="226.6" y1="282.5" x2="229.9" y2="282.5" stroke="#000" stroke-width="1.1" />
<rect x="229.9" y="228.6" width="107.4" height="64.7" fill="none" stroke="#111" stroke-width="1"/>
<line x1="255.5" y1="293.3" x2="255.5" y2="296.5" stroke="#000" stroke-width="1.1" />
<text x="255.22" y="306" font-size="10.5" text-anchor="middle" >4</text>
<line x1="282.5" y1="293.3" x2="282.5" y2="296.5" stroke="#000" stroke-width="1.1" />
<text x="282.54" y="306" font-size="10.5" text-anchor="middle" >8</text>
<line x1="309.5" y1="293.3" x2="309.5" y2="296.5" stroke="#000" stroke-width="1.1" />
<text x="309.86" y="306" font-size="10.5" text-anchor="middle" >12</text>
<line x1="337.5" y1="293.3" x2="337.5" y2="296.5" stroke="#000" stroke-width="1.1" />
<text x="337.18" y="306" font-size="10.5" text-anchor="middle" >16</text>
<text x="287.3" y="316.2" font-size="11" text-anchor="middle" >Length(Kb)</text>
<line x1="235.1" y1="241.5" x2="244.8" y2="241.5" stroke="#333" stroke-width="1" />
<line x1="286.7" y1="241.5" x2="332.5" y2="241.5" stroke="#333" stroke-width="1" />
<rect x="244.8" y="234.1" width="41.9" height="14.2" fill="#f29c7e" stroke="#333" stroke-width="1"/>
<line x1="257.5" y1="234.1" x2="257.5" y2="248.3" stroke="#333" stroke-width="1.3" />
<line x1="237.5" y1="261.5" x2="243.7" y2="261.5" stroke="#333" stroke-width="1" />
<line x1="275.9" y1="261.5" x2="317.5" y2="261.5" stroke="#333" stroke-width="1" />
<rect x="243.7" y="254.3" width="32.2" height="14.2" fill="#119f83" stroke="#333" stroke-width="1"/>
<line x1="252.5" y1="254.3" x2="252.5" y2="268.5" stroke="#333" stroke-width="1.3" />
<line x1="235.4" y1="281.5" x2="236.4" y2="281.5" stroke="#333" stroke-width="1" />
<line x1="249.7" y1="281.5" x2="269" y2="281.5" stroke="#333" stroke-width="1" />
<rect x="236.4" y="274.4" width="13.3" height="14.2" fill="#c4c4c4" stroke="#333" stroke-width="1"/>
<line x1="240.5" y1="274.4" x2="240.5" y2="288.6" stroke="#333" stroke-width="1.3" />
<circle cx="327.9" cy="261.4" r="1.1" fill="#bbb"/>
<circle cx="269.5" cy="281.5" r="1.2" fill="#c8c8c8"/>
<circle cx="271" cy="281.5" r="1.2" fill="#c8c8c8"/>
<circle cx="272.5" cy="281.5" r="1.2" fill="#c8c8c8"/>
<circle cx="274" cy="281.5" r="1.2" fill="#c8c8c8"/>
<circle cx="275.5" cy="281.5" r="1.2" fill="#c8c8c8"/>
<circle cx="277" cy="281.5" r="1.2" fill="#c8c8c8"/>
<circle cx="278.5" cy="281.5" r="1.2" fill="#c8c8c8"/>
<circle cx="280" cy="281.5" r="1.2" fill="#c8c8c8"/>
<circle cx="282" cy="281.5" r="1.2" fill="#c8c8c8"/>
<circle cx="284.5" cy="281.5" r="1.2" fill="#c8c8c8"/>
<circle cx="288" cy="281.5" r="1.2" fill="#c8c8c8"/>
<circle cx="292" cy="281.5" r="1.2" fill="#c8c8c8"/>
<circle cx="295.5" cy="281.5" r="1.2" fill="#c8c8c8"/>
<circle cx="297.3" cy="281.5" r="1.2" fill="#c8c8c8"/>
<text x="417.3" y="209.9" font-size="9.6" text-anchor="middle" >Complete or near</text>
<text x="360.4" y="220.3" font-size="9.6" >complete viruses (<tspan font-style="italic">n</tspan> = 810)</text>
<line x1="402.5" y1="230.4" x2="402.5" y2="317.1" stroke="#000" stroke-width="1.1" />
<line x1="401.5" y1="316.5" x2="450.7" y2="316.5" stroke="#000" stroke-width="1.1" />
<line x1="399" y1="316.5" x2="402" y2="316.5" stroke="#000" stroke-width="1.1" />
<text x="398.7" y="319.7" font-size="8.5" text-anchor="end" >0</text>
<line x1="399" y1="302.5" x2="402" y2="302.5" stroke="#000" stroke-width="1.1" />
<text x="398.7" y="305.32" font-size="8.5" text-anchor="end" >100</text>
<line x1="399" y1="287.5" x2="402" y2="287.5" stroke="#000" stroke-width="1.1" />
<text x="398.7" y="290.94" font-size="8.5" text-anchor="end" >200</text>
<line x1="399" y1="273.5" x2="402" y2="273.5" stroke="#000" stroke-width="1.1" />
<text x="398.7" y="276.56" font-size="8.5" text-anchor="end" >300</text>
<line x1="399" y1="259.5" x2="402" y2="259.5" stroke="#000" stroke-width="1.1" />
<text x="398.7" y="262.18" font-size="8.5" text-anchor="end" >400</text>
<line x1="399" y1="244.5" x2="402" y2="244.5" stroke="#000" stroke-width="1.1" />
<text x="398.7" y="247.8" font-size="8.5" text-anchor="end" >500</text>
<line x1="399" y1="230.5" x2="402" y2="230.5" stroke="#000" stroke-width="1.1" />
<text x="398.7" y="233.42" font-size="8.5" text-anchor="end" >600</text>
<line x1="426.5" y1="316.7" x2="426.5" y2="319" stroke="#000" stroke-width="1.1" />
<line x1="450.5" y1="316.7" x2="450.5" y2="319" stroke="#000" stroke-width="1.1" />
<rect x="409" y="280.1" width="10.7" height="36.6" fill="#f29c7e" />
<rect x="409" y="277.9" width="10.7" height="1.3" fill="#3bbfa5" />
<rect x="433.1" y="247.8" width="10.7" height="68.9" fill="#f29c7e" />
<rect x="433.1" y="240.8" width="10.7" height="6.1" fill="#119f83" />
<text x="414.3" y="276.2" font-size="8.2" text-anchor="middle" >276</text>
<text x="438.4" y="239.4" font-size="8.2" text-anchor="middle" >534</text>
<text x="413.6" y="327.4" font-size="9.5" text-anchor="middle" >known</text>
<text x="415.2" y="337.1" font-size="9.5" text-anchor="middle" >virus</text>
<text x="441.3" y="327.4" font-size="9.5" text-anchor="middle" >novel</text>
<text x="440.9" y="337.1" font-size="9.5" text-anchor="middle" >virus</text>
<text transform="translate(379,271.4) rotate(-90)" font-size="9.4" text-anchor="middle" >No. of viruses</text>
<text x="573.9" y="211.7" font-size="10.1" text-anchor="middle" >Known viruses</text>
<text x="574" y="222.8" font-size="10.1" text-anchor="middle" >(<tspan font-style="italic">n</tspan> = 276)</text>
<circle cx="568.8" cy="268.2" r="40.6" fill="#b8e3da"/>
<clipPath id="bigc"><circle cx="568.8" cy="268.2" r="40.6"/></clipPath>
<circle cx="606.7" cy="257.7" r="15.4" fill="#0f9a7e" stroke="#fff" stroke-width="0.6"/>
<circle cx="606.7" cy="257.7" r="15.4" fill="#5cc0a8" clip-path="url(#bigc)"/>
<circle cx="604.5" cy="292.3" r="14.5" fill="#f09a7c" stroke="#fff" stroke-width="0.6"/>
<circle cx="604.5" cy="292.3" r="14.5" fill="#bdbfa8" clip-path="url(#bigc)"/>
<circle cx="568.8" cy="268.2" r="40.6" fill="none" stroke="#fff" stroke-width="0.6"/>
<text x="568.6" y="271.3" font-size="10.5" text-anchor="middle" >258</text>
<text x="599.3" y="262.4" font-size="10.5" text-anchor="middle" >12</text>
<text x="614.9" y="258" font-size="10.5" text-anchor="middle" >8</text>
<text x="598.6" y="292" font-size="10.5" text-anchor="middle" >6</text>
<text x="610.2" y="298.9" font-size="10.5" text-anchor="middle" >10</text>
<text x="639.6" y="238.9" font-size="10.1" text-anchor="middle" >Known rice</text>
<text x="639.3" y="249.7" font-size="10.1" text-anchor="middle" >virus</text>
<text x="639.6" y="260.7" font-size="10.1" text-anchor="middle" >(<tspan font-style="italic">n</tspan> = 20)</text>
<text x="646.7" y="289.7" font-size="10.1" text-anchor="middle" >Known rice</text>
<text x="646.5" y="300.1" font-size="10.1" text-anchor="middle" >associated</text>
<text x="646.5" y="311.1" font-size="10.1" text-anchor="middle" >virus (<tspan font-style="italic">n</tspan> = 16)</text>
<line x1="55.5" y1="360.1" x2="55.5" y2="486.6" stroke="#000" stroke-width="1.1" />
<line x1="55.3" y1="486.5" x2="672.2" y2="486.5" stroke="#000" stroke-width="1.1" />
<line x1="52.8" y1="486.5" x2="55.8" y2="486.5" stroke="#000" stroke-width="1.1" />
<text x="51.5" y="489.7" font-size="9.5" text-anchor="end" >0</text>
<line x1="52.8" y1="472.5" x2="55.8" y2="472.5" stroke="#000" stroke-width="1.1" />
<text x="51.5" y="475.69" font-size="9.5" text-anchor="end" >5</text>
<line x1="52.8" y1="458.5" x2="55.8" y2="458.5" stroke="#000" stroke-width="1.1" />
<text x="51.5" y="461.68" font-size="9.5" text-anchor="end" >10</text>
<line x1="52.8" y1="444.5" x2="55.8" y2="444.5" stroke="#000" stroke-width="1.1" />
<text x="51.5" y="447.67" font-size="9.5" text-anchor="end" >15</text>
<line x1="52.8" y1="430.5" x2="55.8" y2="430.5" stroke="#000" stroke-width="1.1" />
<text x="51.5" y="433.66" font-size="9.5" text-anchor="end" >20</text>
<line x1="52.8" y1="416.5" x2="55.8" y2="416.5" stroke="#000" stroke-width="1.1" />
<text x="51.5" y="419.65" font-size="9.5" text-anchor="end" >25</text>
<line x1="52.8" y1="402.5" x2="55.8" y2="402.5" stroke="#000" stroke-width="1.1" />
<text x="51.5" y="405.64" font-size="9.5" text-anchor="end" >30</text>
<line x1="52.8" y1="388.5" x2="55.8" y2="388.5" stroke="#000" stroke-width="1.1" />
<text x="51.5" y="391.63" font-size="9.5" text-anchor="end" >35</text>
<line x1="52.8" y1="374.5" x2="55.8" y2="374.5" stroke="#000" stroke-width="1.1" />
<text x="51.5" y="377.62" font-size="9.5" text-anchor="end" >40</text>
<line x1="52.8" y1="360.5" x2="55.8" y2="360.5" stroke="#000" stroke-width="1.1" />
<text x="51.5" y="363.61" font-size="9.5" text-anchor="end" >45</text>
<rect x="57.3" y="393.73" width="10.2" height="92.47" fill="#119f83" />
<text transform="translate(65.4,493.7) rotate(-45)" font-size="8.6" text-anchor="end" font-style="italic" >Botourmiaviridae</text>
<rect x="71.02" y="404.94" width="10.2" height="81.26" fill="#119f83" />
<text transform="translate(79.12,493.7) rotate(-45)" font-size="8.6" text-anchor="end" font-style="italic" >Narnaviridae</text>
<rect x="84.74" y="432.96" width="10.2" height="53.24" fill="#119f83" />
<text transform="translate(92.84,493.7) rotate(-45)" font-size="8.6" text-anchor="end" font-style="italic" >Mitoviridae</text>
<rect x="98.46" y="449.77" width="10.2" height="36.43" fill="#119f83" />
<text transform="translate(106.56,493.7) rotate(-45)" font-size="8.6" text-anchor="end" font-style="italic" >Dicistroviridae</text>
<rect x="112.18" y="452.58" width="10.2" height="33.62" fill="#119f83" />
<text transform="translate(120.28,493.7) rotate(-45)" font-size="8.6" text-anchor="end" font-style="italic" >Potyviridae</text>
<rect x="125.9" y="458.18" width="10.2" height="28.02" fill="#119f83" />
<text transform="translate(134,493.7) rotate(-45)" font-size="8.6" text-anchor="end" font-style="italic" >Betaflexiviridae</text>
<rect x="139.62" y="460.98" width="10.2" height="25.22" fill="#119f83" />
<text transform="translate(147.72,493.7) rotate(-45)" font-size="8.6" text-anchor="end" font-style="italic" >Iflaviridae</text>
<rect x="153.34" y="466.59" width="10.2" height="19.61" fill="#119f83" />
<text transform="translate(161.44,493.7) rotate(-45)" font-size="8.6" text-anchor="end" font-style="italic" >Virgaviridae</text>
<rect x="167.06" y="466.59" width="10.2" height="19.61" fill="#119f83" />
<text transform="translate(175.16,493.7) rotate(-45)" font-size="8.6" text-anchor="end" font-style="italic" >Secoviridae</text>
<rect x="180.78" y="466.59" width="10.2" height="19.61" fill="#119f83" />
<text transform="translate(188.88,493.7) rotate(-45)" font-size="8.6" text-anchor="end" font-style="italic" >Alphaflexiviridae</text>
<rect x="194.5" y="469.39" width="10.2" height="16.81" fill="#119f83" />
<text transform="translate(202.6,493.7) rotate(-45)" font-size="8.6" text-anchor="end" font-style="italic" >Tombusviridae</text>
<rect x="208.22" y="469.39" width="10.2" height="16.81" fill="#119f83" />
<text transform="translate(216.32,493.7) rotate(-45)" font-size="8.6" text-anchor="end" font-style="italic" >Deltaflexiviridae</text>
<rect x="221.94" y="474.99" width="10.2" height="11.21" fill="#119f83" />
<text transform="translate(230.04,493.7) rotate(-45)" font-size="8.6" text-anchor="end" font-style="italic" >Solemoviridae</text>
<rect x="235.66" y="477.79" width="10.2" height="8.41" fill="#119f83" />
<text transform="translate(243.76,493.7) rotate(-45)" font-size="8.6" text-anchor="end" font-style="italic" >Togaviridae</text>
<rect x="249.38" y="477.79" width="10.2" height="8.41" fill="#119f83" />
<text transform="translate(257.48,493.7) rotate(-45)" font-size="8.6" text-anchor="end" font-style="italic" >Marnaviridae</text>
<rect x="263.1" y="480.6" width="10.2" height="5.6" fill="#119f83" />
<text transform="translate(271.2,493.7) rotate(-45)" font-size="8.6" text-anchor="end" font-style="italic" >Picornaviridae</text>
<rect x="276.82" y="480.6" width="10.2" height="5.6" fill="#119f83" />
<text transform="translate(284.92,493.7) rotate(-45)" font-size="8.6" text-anchor="end" font-style="italic" >Nodaviridae</text>
<rect x="290.54" y="480.6" width="10.2" height="5.6" fill="#119f83" />
<text transform="translate(298.64,493.7) rotate(-45)" font-size="8.6" text-anchor="end" font-style="italic" >Flaviviridae</text>
<rect x="304.26" y="480.6" width="10.2" height="5.6" fill="#119f83" />
<text transform="translate(312.36,493.7) rotate(-45)" font-size="8.6" text-anchor="end" font-style="italic" >Endornaviridae</text>
<rect x="317.98" y="480.6" width="10.2" height="5.6" fill="#119f83" />
<text transform="translate(326.08,493.7) rotate(-45)" font-size="8.6" text-anchor="end" font-style="italic" >Bromoviridae</text>
<rect x="331.7" y="480.6" width="10.2" height="5.6" fill="#119f83" />
<text transform="translate(339.8,493.7) rotate(-45)" font-size="8.6" text-anchor="end" font-style="italic" >Permutotetraviridae</text>
<rect x="345.42" y="483.4" width="10.2" height="2.8" fill="#119f83" />
<text transform="translate(353.52,493.7) rotate(-45)" font-size="8.6" text-anchor="end" font-style="italic" >Kitaviridae</text>
<rect x="359.14" y="483.4" width="10.2" height="2.8" fill="#119f83" />
<text transform="translate(367.24,493.7) rotate(-45)" font-size="8.6" text-anchor="end" font-style="italic" >Benyviridae</text>
<rect x="372.86" y="483.4" width="10.2" height="2.8" fill="#119f83" />
<text transform="translate(380.96,493.7) rotate(-45)" font-size="8.6" text-anchor="end" font-style="italic" >Astroviridae</text>
<rect x="386.58" y="483.4" width="10.2" height="2.8" fill="#119f83" />
<text transform="translate(394.68,493.7) rotate(-45)" font-size="8.6" text-anchor="end" font-style="italic" >Arteriviridae</text>
<rect x="400.3" y="460.98" width="10.2" height="25.22" fill="#119f83" />
<text transform="translate(408.4,493.7) rotate(-45)" font-size="8.6" text-anchor="end" font-style="italic" >Partitiviridae</text>
<rect x="414.02" y="472.19" width="10.2" height="14.01" fill="#119f83" />
<text transform="translate(422.12,493.7) rotate(-45)" font-size="8.6" text-anchor="end" font-style="italic" >Totiviridae</text>
<rect x="427.74" y="472.19" width="10.2" height="14.01" fill="#119f83" />
<text transform="translate(435.84,493.7) rotate(-45)" font-size="8.6" text-anchor="end" font-style="italic" >Fusariviridae</text>
<rect x="441.46" y="474.99" width="10.2" height="11.21" fill="#119f83" />
<text transform="translate(449.56,493.7) rotate(-45)" font-size="8.6" text-anchor="end" font-style="italic" >Spinareoviridae</text>
<rect x="455.18" y="480.6" width="10.2" height="5.6" fill="#119f83" />
<text transform="translate(463.28,493.7) rotate(-45)" font-size="8.6" text-anchor="end" font-style="italic" >Sedoreoviridae</text>
<rect x="468.9" y="480.6" width="10.2" height="5.6" fill="#119f83" />
<text transform="translate(477,493.7) rotate(-45)" font-size="8.6" text-anchor="end" font-style="italic" >Hypoviridae</text>
<rect x="482.62" y="483.4" width="10.2" height="2.8" fill="#119f83" />
<text transform="translate(490.72,493.7) rotate(-45)" font-size="8.6" text-anchor="end" font-style="italic" >Polymycoviridae</text>
<rect x="496.34" y="483.4" width="10.2" height="2.8" fill="#119f83" />
<text transform="translate(504.44,493.7) rotate(-45)" font-size="8.6" text-anchor="end" font-style="italic" >Botybirnavirus</text>
<rect x="510.06" y="483.4" width="10.2" height="2.8" fill="#119f83" />
<text transform="translate(518.16,493.7) rotate(-45)" font-size="8.6" text-anchor="end" font-style="italic" >Alternaviridae</text>
<rect x="523.78" y="474.99" width="10.2" height="11.21" fill="#119f83" />
<text transform="translate(531.88,493.7) rotate(-45)" font-size="8.6" text-anchor="end" font-style="italic" >Phenuiviridae</text>
<rect x="537.5" y="480.6" width="10.2" height="5.6" fill="#119f83" />
<text transform="translate(545.6,493.7) rotate(-45)" font-size="8.6" text-anchor="end" font-style="italic" >Paramyxoviridae</text>
<rect x="551.22" y="477.79" width="10.2" height="8.41" fill="#119f83" />
<text transform="translate(559.32,493.7) rotate(-45)" font-size="8.6" text-anchor="end" font-style="italic" >Mymonaviridae</text>
<rect x="564.94" y="483.4" width="10.2" height="2.8" fill="#119f83" />
<text transform="translate(573.04,493.7) rotate(-45)" font-size="8.6" text-anchor="end" font-style="italic" >Peribunyaviridae</text>
<rect x="578.66" y="483.4" width="10.2" height="2.8" fill="#119f83" />
<text transform="translate(586.76,493.7) rotate(-45)" font-size="8.6" text-anchor="end" font-style="italic" >Orthomyxoviridae</text>
<rect x="592.38" y="483.4" width="10.2" height="2.8" fill="#119f83" />
<text transform="translate(600.48,493.7) rotate(-45)" font-size="8.6" text-anchor="end" font-style="italic" >Tospoviridae</text>
<rect x="606.1" y="483.4" width="10.2" height="2.8" fill="#119f83" />
<text transform="translate(614.2,493.7) rotate(-45)" font-size="8.6" text-anchor="end" font-style="italic" >Caulimoviridae</text>
<rect x="619.82" y="480.6" width="10.2" height="5.6" fill="#119f83" />
<text transform="translate(627.92,493.7) rotate(-45)" font-size="8.6" text-anchor="end" font-style="italic" >Circoviridae</text>
<rect x="633.54" y="483.4" width="10.2" height="2.8" fill="#119f83" />
<text transform="translate(641.64,493.7) rotate(-45)" font-size="8.6" text-anchor="end" font-style="italic" >Parvoviridae</text>
<rect x="647.26" y="483.4" width="10.2" height="2.8" fill="#119f83" />
<text transform="translate(655.36,493.7) rotate(-45)" font-size="8.6" text-anchor="end" font-style="italic" >Genomoviridae</text>
<rect x="660.98" y="362.91" width="10.2" height="123.29" fill="#119f83" />
<text transform="translate(669.08,493.7) rotate(-45)" font-size="8.6" text-anchor="end" font-style="italic" >unclassified family</text>
<line x1="69.5" y1="486.2" x2="69.5" y2="489.2" stroke="#000" stroke-width="1.1" />
<line x1="82.5" y1="486.2" x2="82.5" y2="489.2" stroke="#000" stroke-width="1.1" />
<line x1="96.5" y1="486.2" x2="96.5" y2="489.2" stroke="#000" stroke-width="1.1" />
<line x1="110.5" y1="486.2" x2="110.5" y2="489.2" stroke="#000" stroke-width="1.1" />
<line x1="124.5" y1="486.2" x2="124.5" y2="489.2" stroke="#000" stroke-width="1.1" />
<line x1="137.5" y1="486.2" x2="137.5" y2="489.2" stroke="#000" stroke-width="1.1" />
<line x1="151.5" y1="486.2" x2="151.5" y2="489.2" stroke="#000" stroke-width="1.1" />
<line x1="165.5" y1="486.2" x2="165.5" y2="489.2" stroke="#000" stroke-width="1.1" />
<line x1="179.5" y1="486.2" x2="179.5" y2="489.2" stroke="#000" stroke-width="1.1" />
<line x1="192.5" y1="486.2" x2="192.5" y2="489.2" stroke="#000" stroke-width="1.1" />
<line x1="206.5" y1="486.2" x2="206.5" y2="489.2" stroke="#000" stroke-width="1.1" />
<line x1="220.5" y1="486.2" x2="220.5" y2="489.2" stroke="#000" stroke-width="1.1" />
<line x1="233.5" y1="486.2" x2="233.5" y2="489.2" stroke="#000" stroke-width="1.1" />
<line x1="247.5" y1="486.2" x2="247.5" y2="489.2" stroke="#000" stroke-width="1.1" />
<line x1="261.5" y1="486.2" x2="261.5" y2="489.2" stroke="#000" stroke-width="1.1" />
<line x1="275.5" y1="486.2" x2="275.5" y2="489.2" stroke="#000" stroke-width="1.1" />
<line x1="288.5" y1="486.2" x2="288.5" y2="489.2" stroke="#000" stroke-width="1.1" />
<line x1="302.5" y1="486.2" x2="302.5" y2="489.2" stroke="#000" stroke-width="1.1" />
<line x1="316.5" y1="486.2" x2="316.5" y2="489.2" stroke="#000" stroke-width="1.1" />
<line x1="329.5" y1="486.2" x2="329.5" y2="489.2" stroke="#000" stroke-width="1.1" />
<line x1="343.5" y1="486.2" x2="343.5" y2="489.2" stroke="#000" stroke-width="1.1" />
<line x1="357.5" y1="486.2" x2="357.5" y2="489.2" stroke="#000" stroke-width="1.1" />
<line x1="371.5" y1="486.2" x2="371.5" y2="489.2" stroke="#000" stroke-width="1.1" />
<line x1="384.5" y1="486.2" x2="384.5" y2="489.2" stroke="#000" stroke-width="1.1" />
<line x1="398.5" y1="486.2" x2="398.5" y2="489.2" stroke="#000" stroke-width="1.1" />
<line x1="412.5" y1="486.2" x2="412.5" y2="489.2" stroke="#000" stroke-width="1.1" />
<line x1="425.5" y1="486.2" x2="425.5" y2="489.2" stroke="#000" stroke-width="1.1" />
<line x1="439.5" y1="486.2" x2="439.5" y2="489.2" stroke="#000" stroke-width="1.1" />
<line x1="453.5" y1="486.2" x2="453.5" y2="489.2" stroke="#000" stroke-width="1.1" />
<line x1="467.5" y1="486.2" x2="467.5" y2="489.2" stroke="#000" stroke-width="1.1" />
<line x1="480.5" y1="486.2" x2="480.5" y2="489.2" stroke="#000" stroke-width="1.1" />
<line x1="494.5" y1="486.2" x2="494.5" y2="489.2" stroke="#000" stroke-width="1.1" />
<line x1="508.5" y1="486.2" x2="508.5" y2="489.2" stroke="#000" stroke-width="1.1" />
<line x1="522.5" y1="486.2" x2="522.5" y2="489.2" stroke="#000" stroke-width="1.1" />
<line x1="535.5" y1="486.2" x2="535.5" y2="489.2" stroke="#000" stroke-width="1.1" />
<line x1="549.5" y1="486.2" x2="549.5" y2="489.2" stroke="#000" stroke-width="1.1" />
<line x1="563.5" y1="486.2" x2="563.5" y2="489.2" stroke="#000" stroke-width="1.1" />
<line x1="576.5" y1="486.2" x2="576.5" y2="489.2" stroke="#000" stroke-width="1.1" />
<line x1="590.5" y1="486.2" x2="590.5" y2="489.2" stroke="#000" stroke-width="1.1" />
<line x1="604.5" y1="486.2" x2="604.5" y2="489.2" stroke="#000" stroke-width="1.1" />
<line x1="618.5" y1="486.2" x2="618.5" y2="489.2" stroke="#000" stroke-width="1.1" />
<line x1="631.5" y1="486.2" x2="631.5" y2="489.2" stroke="#000" stroke-width="1.1" />
<line x1="645.5" y1="486.2" x2="645.5" y2="489.2" stroke="#000" stroke-width="1.1" />
<line x1="659.5" y1="486.2" x2="659.5" y2="489.2" stroke="#000" stroke-width="1.1" />
<line x1="672.5" y1="486.2" x2="672.5" y2="489.2" stroke="#000" stroke-width="1.1" />
<line x1="55.5" y1="486.2" x2="55.5" y2="489.2" stroke="#000" stroke-width="1.1" />
<path d="M61.5,393.73 L61.5,388.5 L394.5,388.5 L394.5,483.4" fill="none" stroke="#111" stroke-width="1.2" />
<path d="M405.5,460.98 L405.5,390.5 L515.5,390.5 L515.5,483.4" fill="none" stroke="#111" stroke-width="1.2" />
<path d="M529.5,474.99 L529.5,390.5 L598.5,390.5 L598.5,483.4" fill="none" stroke="#111" stroke-width="1.2" />
<line x1="610.5" y1="391.2" x2="610.5" y2="483.4" stroke="#111" stroke-width="1.2" />
<path d="M625.5,480.6 L625.5,390.5 L653.5,390.5 L653.5,483.4" fill="none" stroke="#111" stroke-width="1.2" />
<text transform="translate(220.9,385.4) scale(0.94,1)" font-size="10.3" text-anchor="middle" font-style="italic" >ssRNA+</text>
<text transform="translate(459.2,386.1) scale(0.94,1)" font-size="10.3" text-anchor="middle" font-style="italic" >dsRNA</text>
<text transform="translate(563.7,385.8) scale(0.94,1)" font-size="10.3" text-anchor="middle" font-style="italic" >ssRNA-</text>
<text transform="translate(638.2,385.8) scale(0.94,1)" font-size="10.3" text-anchor="middle" font-style="italic" >ssDNA</text>
<text transform="translate(604,394.3) rotate(-42)" font-size="9.8" font-style="italic" >dsDNA</text>
<text transform="translate(23.9,423.8) rotate(-90) scale(0.85,1)" font-size="11.1" text-anchor="middle">No. of known viruses</text>
<text transform="translate(34.4,422.5) rotate(-90) scale(0.85,1)" font-size="11.1" text-anchor="middle">in each family</text>
</svg>
</body></html>
